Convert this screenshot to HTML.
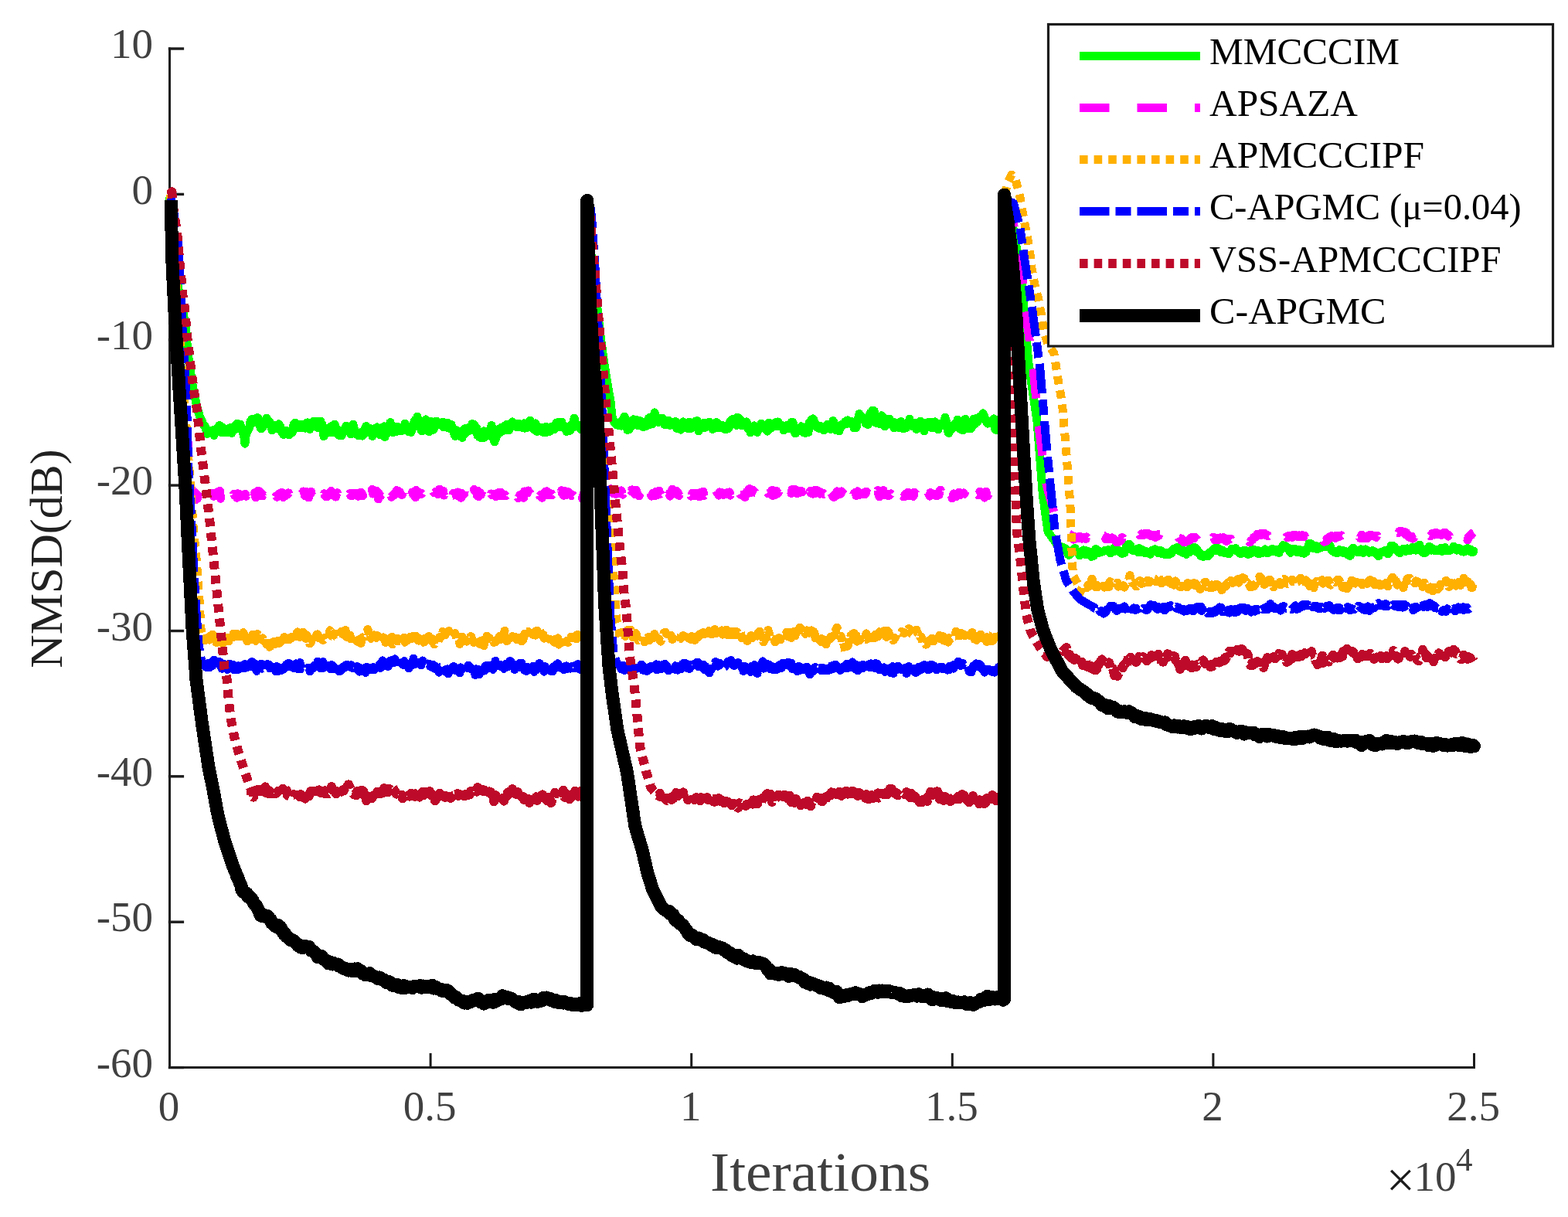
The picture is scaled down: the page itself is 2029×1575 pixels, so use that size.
<!DOCTYPE html>
<html><head><meta charset="utf-8"><title>NMSD vs Iterations</title>
<style>
html,body{margin:0;padding:0;background:#ffffff;}
body{width:2029px;height:1575px;overflow:hidden;}
svg{display:block;}
text{font-family:"Liberation Serif","DejaVu Serif",serif;}
</style></head>
<body>
<svg width="2029" height="1575" viewBox="0 0 2029 1575">
<rect x="0" y="0" width="2029" height="1575" fill="#ffffff"/>
<g stroke="#1c1c1c" stroke-width="3" fill="none" stroke-linecap="square">
<polyline points="219.5,63 219.5,1381.5 1907.5,1381.5"/>
<line x1="219.5" y1="63.0" x2="236.4" y2="63.0" stroke-width="3.4"/>
<line x1="219.5" y1="251.4" x2="236.4" y2="251.4" stroke-width="3.4"/>
<line x1="219.5" y1="439.8" x2="236.4" y2="439.8" stroke-width="3.4"/>
<line x1="219.5" y1="628.1" x2="236.4" y2="628.1" stroke-width="3.4"/>
<line x1="219.5" y1="816.5" x2="236.4" y2="816.5" stroke-width="3.4"/>
<line x1="219.5" y1="1004.8" x2="236.4" y2="1004.8" stroke-width="3.4"/>
<line x1="219.5" y1="1193.2" x2="236.4" y2="1193.2" stroke-width="3.4"/>
<line x1="219.5" y1="1381.6" x2="236.4" y2="1381.6" stroke-width="3.4"/>
<line x1="219.5" y1="1381.5" x2="219.5" y2="1364.5"/>
<line x1="557.1" y1="1381.5" x2="557.1" y2="1364.5"/>
<line x1="894.7" y1="1381.5" x2="894.7" y2="1364.5"/>
<line x1="1232.3" y1="1381.5" x2="1232.3" y2="1364.5"/>
<line x1="1569.9" y1="1381.5" x2="1569.9" y2="1364.5"/>
<line x1="1907.5" y1="1381.5" x2="1907.5" y2="1364.5"/>
</g>
<g shape-rendering="crispEdges">
<polyline fill="none" stroke="#00FF00" stroke-width="11" stroke-linejoin="round" stroke-linecap="round" points="219.3,258.0 219.6,261.0 219.8,264.0 220.1,267.0 220.4,270.0 220.7,273.0 220.9,276.0 221.2,279.0 221.5,282.0 221.8,285.0 222.0,288.0 222.3,291.0 222.6,294.0 222.9,297.0 223.1,300.0 223.4,303.0 223.7,306.0 224.0,309.0 224.2,312.0 224.5,315.0 224.8,318.1 225.1,321.1 225.4,324.2 225.8,327.2 226.1,330.3 226.4,333.3 226.7,336.4 227.0,339.4 227.3,342.5 227.7,345.6 228.0,348.6 228.3,351.7 228.6,354.7 228.9,357.8 229.2,360.8 229.6,363.9 229.9,366.9 230.2,370.0 230.8,373.0 231.4,376.0 231.9,379.0 232.5,382.0 233.1,385.0 233.7,388.0 234.3,391.0 234.8,394.0 235.4,397.0 236.0,400.0 236.6,403.1 237.3,406.3 237.9,409.4 238.5,412.6 239.1,415.7 239.8,418.9 240.4,422.0 240.6,425.1 240.9,428.3 241.1,431.4 241.3,434.6 241.5,437.7 241.8,440.9 242.0,444.0 242.3,447.1 242.6,450.1 242.9,453.2 243.3,456.3 243.6,459.4 243.9,462.4 244.2,465.5 244.6,468.5 245.1,471.4 245.5,474.4 245.9,477.3 246.4,480.3 246.8,483.2 247.3,486.2 247.7,489.1 248.1,492.1 248.6,495.0 249.0,498.0 249.6,501.0 250.2,504.0 250.8,507.0 251.4,510.0 252.1,513.0 252.7,516.0 253.3,519.0 253.9,522.0 254.5,525.0 255.3,527.8 256.1,530.6 256.9,533.4 257.7,536.2 258.5,539.0 259.6,541.5 260.8,544.0 261.9,546.5 263.0,549.0 264.5,551.0 266.0,553.0 267.0,557.2 268.0,561.6 269.0,558.7 270.0,558.9 271.0,558.4 272.0,557.6 273.0,560.1 274.0,558.6 275.0,557.8 276.0,556.4 277.0,563.4 278.0,560.6 279.0,559.5 280.0,554.9 281.0,556.2 282.0,553.6 283.0,553.0 284.0,550.4 285.0,551.6 286.0,554.7 287.0,559.8 288.0,553.3 289.0,554.9 290.0,558.5 291.0,559.3 292.0,558.6 293.0,555.1 294.0,559.5 295.0,559.3 296.0,557.4 297.0,554.9 298.0,553.6 299.0,558.8 300.0,560.4 301.0,557.5 302.0,556.2 303.0,556.5 304.0,551.3 305.0,551.9 306.0,552.2 307.0,548.2 308.0,552.1 309.0,550.1 310.0,552.1 311.0,549.1 312.0,555.8 313.0,555.4 314.0,559.7 315.0,560.1 316.0,566.7 317.0,574.1 318.0,563.3 319.0,561.2 320.0,557.2 321.0,557.0 322.0,554.2 323.0,552.4 324.0,545.6 325.0,545.8 326.0,542.3 327.0,542.0 328.0,547.1 329.0,543.5 330.0,541.9 331.0,544.9 332.0,546.8 333.0,540.7 334.0,541.0 335.0,543.4 336.0,547.5 337.0,553.4 338.0,555.0 339.0,549.2 340.0,552.9 341.0,545.3 342.0,549.7 343.0,544.3 344.0,547.6 345.0,541.1 346.0,546.5 347.0,547.9 348.0,544.7 349.0,545.9 350.0,550.0 351.0,550.8 352.0,556.9 353.0,554.3 354.0,555.6 355.0,554.0 356.0,554.9 357.0,550.5 358.0,551.3 359.0,551.9 360.0,554.3 361.0,548.8 362.0,553.3 363.0,552.5 364.0,557.1 365.0,559.4 366.0,560.2 367.0,562.6 368.0,562.0 369.0,557.5 370.0,560.3 371.0,558.8 372.0,557.9 373.0,560.1 374.0,562.8 375.0,562.2 376.0,560.3 377.0,557.0 378.0,560.2 379.0,558.2 380.0,549.0 381.0,554.9 382.0,547.3 383.0,554.0 384.0,553.4 385.0,550.8 386.0,550.5 387.0,552.0 388.0,553.5 389.0,553.0 390.0,549.0 391.0,550.3 392.0,553.5 393.0,551.5 394.0,551.5 395.0,554.2 396.0,549.6 397.0,547.1 398.0,546.8 399.0,553.7 400.0,549.8 401.0,555.5 402.0,552.9 403.0,551.7 404.0,552.1 405.0,548.6 406.0,545.2 407.0,548.5 408.0,548.3 409.0,545.6 410.0,546.1 411.0,553.4 412.0,548.9 413.0,549.7 414.0,545.4 415.0,545.2 416.0,552.0 417.0,549.1 418.0,554.3 419.0,564.7 420.0,562.3 421.0,558.0 422.0,555.0 423.0,557.6 424.0,556.9 425.0,556.0 426.0,555.0 427.0,559.5 428.0,551.9 429.0,557.3 430.0,559.7 431.0,551.3 432.0,552.6 433.0,549.2 434.0,551.7 435.0,560.5 436.0,558.6 437.0,561.8 438.0,563.1 439.0,558.2 440.0,559.4 441.0,561.7 442.0,563.9 443.0,556.8 444.0,560.5 445.0,557.0 446.0,558.5 447.0,552.8 448.0,551.3 449.0,551.7 450.0,552.7 451.0,553.6 452.0,554.2 453.0,558.0 454.0,561.7 455.0,554.9 456.0,555.6 457.0,549.3 458.0,555.6 459.0,556.4 460.0,560.6 461.0,561.8 462.0,560.9 463.0,561.4 464.0,563.9 465.0,560.9 466.0,563.0 467.0,559.5 468.0,562.1 469.0,564.1 470.0,562.8 471.0,560.8 472.0,558.6 473.0,552.9 474.0,551.6 475.0,559.6 476.0,559.7 477.0,558.3 478.0,559.7 479.0,558.5 480.0,554.8 481.0,560.6 482.0,564.4 483.0,560.1 484.0,559.2 485.0,560.1 486.0,555.1 487.0,553.7 488.0,552.9 489.0,555.7 490.0,559.1 491.0,562.3 492.0,561.5 493.0,555.5 494.0,554.4 495.0,555.3 496.0,552.6 497.0,551.8 498.0,565.6 499.0,562.3 500.0,561.8 501.0,556.5 502.0,553.0 503.0,550.5 504.0,551.0 505.0,546.7 506.0,552.4 507.0,552.8 508.0,556.1 509.0,559.7 510.0,557.6 511.0,558.2 512.0,553.9 513.0,558.6 514.0,552.3 515.0,552.5 516.0,553.4 517.0,555.8 518.0,553.9 519.0,557.8 520.0,555.6 521.0,557.2 522.0,553.7 523.0,556.2 524.0,548.1 525.0,550.0 526.0,556.9 527.0,555.7 528.0,556.9 529.0,558.9 530.0,558.6 531.0,556.6 532.0,559.5 533.0,554.5 534.0,554.3 535.0,549.8 536.0,545.6 537.0,543.6 538.0,544.6 539.0,545.7 540.0,539.1 541.0,548.7 542.0,545.8 543.0,547.1 544.0,550.4 545.0,556.8 546.0,557.8 547.0,550.7 548.0,552.6 549.0,548.6 550.0,545.8 551.0,542.9 552.0,544.7 553.0,549.0 554.0,551.3 555.0,558.6 556.0,549.4 557.0,547.8 558.0,545.4 559.0,551.2 560.0,553.2 561.0,556.2 562.0,550.9 563.0,550.3 564.0,545.3 565.0,545.4 566.0,549.1 567.0,548.2 568.0,546.8 569.0,548.5 570.0,549.9 571.0,550.3 572.0,549.8 573.0,546.2 574.0,553.0 575.0,552.7 576.0,552.4 577.0,550.3 578.0,550.8 579.0,547.3 580.0,553.9 581.0,552.3 582.0,554.3 583.0,551.9 584.0,549.3 585.0,555.9 586.0,556.2 587.0,558.8 588.0,562.8 589.0,564.4 590.0,556.4 591.0,558.4 592.0,560.1 593.0,561.7 594.0,560.5 595.0,564.3 596.0,560.5 597.0,561.8 598.0,566.3 599.0,557.3 600.0,556.2 601.0,562.1 602.0,554.6 603.0,559.6 604.0,556.5 605.0,555.0 606.0,553.6 607.0,557.3 608.0,556.8 609.0,556.5 610.0,556.5 611.0,548.5 612.0,551.1 613.0,551.5 614.0,549.7 615.0,552.0 616.0,558.1 617.0,554.6 618.0,563.5 619.0,561.9 620.0,565.2 621.0,566.3 622.0,564.0 623.0,563.4 624.0,563.3 625.0,566.5 626.0,557.8 627.0,566.2 628.0,564.2 629.0,558.0 630.0,563.9 631.0,561.5 632.0,559.2 633.0,559.4 634.0,557.4 635.0,554.2 636.0,550.6 637.0,556.5 638.0,563.6 639.0,569.3 640.0,571.8 641.0,566.5 642.0,566.5 643.0,561.3 644.0,560.0 645.0,555.5 646.0,560.4 647.0,559.0 648.0,558.1 649.0,553.1 650.0,557.6 651.0,557.5 652.0,556.2 653.0,551.1 654.0,550.7 655.0,556.6 656.0,549.2 657.0,550.4 658.0,554.1 659.0,556.5 660.0,552.0 661.0,551.8 662.0,551.8 663.0,545.9 664.0,549.7 665.0,551.0 666.0,551.6 667.0,549.3 668.0,549.3 669.0,553.0 670.0,548.3 671.0,550.8 672.0,548.6 673.0,549.9 674.0,550.3 675.0,553.2 676.0,549.5 677.0,550.5 678.0,547.8 679.0,554.2 680.0,550.8 681.0,553.7 682.0,552.6 683.0,551.6 684.0,549.4 685.0,545.6 686.0,544.1 687.0,546.5 688.0,552.2 689.0,553.8 690.0,552.6 691.0,555.7 692.0,556.6 693.0,547.9 694.0,553.4 695.0,558.6 696.0,556.4 697.0,553.0 698.0,554.5 699.0,554.9 700.0,555.7 701.0,553.5 702.0,556.0 703.0,559.6 704.0,558.5 705.0,558.4 706.0,552.4 707.0,559.7 708.0,557.7 709.0,556.0 710.0,556.0 711.0,554.3 712.0,558.2 713.0,552.7 714.0,555.4 715.0,553.1 716.0,552.4 717.0,553.5 718.0,555.3 719.0,550.5 720.0,547.2 721.0,551.4 722.0,546.7 723.0,549.3 724.0,552.8 725.0,552.0 726.0,552.6 727.0,546.1 728.0,550.8 729.0,552.3 730.0,551.3 731.0,552.6 732.0,552.0 733.0,558.4 734.0,554.5 735.0,556.5 736.0,554.7 737.0,557.6 738.0,556.5 739.0,552.6 740.0,549.5 741.0,548.0 742.0,552.7 743.0,541.0 744.0,546.4 745.0,550.2 746.0,550.3 747.0,550.3 748.0,552.5 749.0,551.6 750.0,550.6 751.0,551.6 752.0,556.1 753.0,555.9 754.0,554.1 755.0,556.2 756.0,556.6 757.0,557.5 759.7,554.0 759.7,258.0 758.6,258.0 758.9,261.1 759.1,264.1 759.4,267.2 759.6,270.2 759.9,273.3 760.2,276.4 760.4,279.4 760.7,282.5 760.9,285.5 761.2,288.6 761.4,291.6 761.7,294.7 762.0,297.8 762.2,300.8 762.5,303.9 762.7,306.9 763.0,310.0 763.3,312.9 763.6,315.9 763.9,318.8 764.2,321.7 764.5,324.7 764.8,327.6 765.1,330.5 765.4,333.5 765.7,336.4 766.0,339.3 766.3,342.3 766.6,345.2 766.9,348.1 767.2,351.1 767.5,354.0 767.9,357.1 768.2,360.1 768.6,363.2 769.0,366.2 769.4,369.3 769.7,372.4 770.1,375.4 770.5,378.5 770.8,381.5 771.2,384.6 771.6,387.6 771.9,390.7 772.3,393.8 772.7,396.8 773.1,399.9 773.4,402.9 773.8,406.0 774.1,409.0 774.5,411.9 774.8,414.9 775.1,417.9 775.5,420.8 775.8,423.8 776.2,426.7 776.5,429.7 776.8,432.7 777.2,435.6 777.5,438.6 777.9,441.5 778.3,444.5 778.7,447.4 779.1,450.4 779.5,453.3 779.9,456.3 780.3,459.2 780.7,462.2 781.1,465.1 781.5,468.1 781.9,471.0 782.4,474.0 782.9,477.0 783.3,480.0 783.8,483.0 784.3,486.0 784.8,489.0 785.2,492.0 785.7,495.0 786.2,498.0 786.7,501.1 787.3,504.1 787.8,507.2 788.4,510.3 788.9,513.4 789.5,516.4 790.0,519.5 790.3,522.3 790.6,525.1 790.9,527.9 791.2,530.6 791.5,533.4 791.8,536.2 792.1,539.0 793.1,541.7 794.0,544.3 795.0,547.0 798.0,550.0 799.0,549.9 800.0,550.6 801.0,547.8 802.0,546.9 803.0,546.3 804.0,551.2 805.0,547.8 806.0,547.7 807.0,540.9 808.0,539.2 809.0,540.7 810.0,546.4 811.0,552.4 812.0,556.6 813.0,554.7 814.0,555.8 815.0,553.8 816.0,551.8 817.0,552.2 818.0,545.7 819.0,543.7 820.0,542.8 821.0,543.3 822.0,546.1 823.0,543.0 824.0,547.7 825.0,550.3 826.0,546.3 827.0,546.7 828.0,544.6 829.0,548.4 830.0,548.2 831.0,546.0 832.0,552.6 833.0,547.5 834.0,549.0 835.0,549.4 836.0,551.5 837.0,545.5 838.0,546.9 839.0,541.7 840.0,540.9 841.0,540.0 842.0,549.1 843.0,548.7 844.0,548.9 845.0,542.8 846.0,544.0 847.0,533.9 848.0,537.4 849.0,539.6 850.0,542.1 851.0,542.3 852.0,546.4 853.0,544.6 854.0,546.0 855.0,542.1 856.0,544.4 857.0,541.3 858.0,542.7 859.0,547.9 860.0,549.7 861.0,549.0 862.0,546.2 863.0,549.8 864.0,548.3 865.0,544.3 866.0,545.3 867.0,550.5 868.0,549.2 869.0,548.6 870.0,549.8 871.0,550.0 872.0,548.4 873.0,549.5 874.0,545.4 875.0,552.5 876.0,554.5 877.0,552.3 878.0,551.0 879.0,553.7 880.0,554.0 881.0,556.1 882.0,553.0 883.0,551.7 884.0,545.8 885.0,552.2 886.0,550.7 887.0,552.4 888.0,549.7 889.0,549.6 890.0,554.5 891.0,551.9 892.0,546.3 893.0,550.0 894.0,554.7 895.0,552.3 896.0,550.7 897.0,553.1 898.0,550.2 899.0,550.5 900.0,545.3 901.0,545.3 902.0,544.6 903.0,551.1 904.0,557.8 905.0,555.9 906.0,552.8 907.0,548.4 908.0,549.1 909.0,548.9 910.0,549.5 911.0,547.0 912.0,553.6 913.0,552.6 914.0,550.6 915.0,551.5 916.0,551.1 917.0,548.6 918.0,546.0 919.0,549.0 920.0,548.9 921.0,548.6 922.0,555.4 923.0,549.5 924.0,549.8 925.0,550.9 926.0,547.0 927.0,546.6 928.0,547.1 929.0,553.9 930.0,551.9 931.0,553.3 932.0,552.6 933.0,550.3 934.0,550.6 935.0,550.4 936.0,551.3 937.0,551.0 938.0,555.5 939.0,554.1 940.0,555.3 941.0,552.5 942.0,551.1 943.0,554.4 944.0,549.0 945.0,544.9 946.0,543.8 947.0,545.2 948.0,542.5 949.0,543.7 950.0,544.8 951.0,544.8 952.0,544.5 953.0,550.3 954.0,540.3 955.0,543.1 956.0,541.2 957.0,542.2 958.0,543.3 959.0,547.5 960.0,550.8 961.0,548.9 962.0,549.2 963.0,549.1 964.0,549.2 965.0,548.5 966.0,545.9 967.0,551.6 968.0,555.0 969.0,555.1 970.0,554.8 971.0,559.8 972.0,552.1 973.0,554.1 974.0,554.9 975.0,553.7 976.0,550.8 977.0,553.7 978.0,553.6 979.0,556.6 980.0,559.5 981.0,556.4 982.0,556.1 983.0,551.0 984.0,552.6 985.0,548.1 986.0,548.7 987.0,553.2 988.0,553.9 989.0,551.7 990.0,555.0 991.0,551.7 992.0,553.1 993.0,558.1 994.0,554.5 995.0,547.3 996.0,554.8 997.0,552.4 998.0,549.3 999.0,553.3 1000.0,549.7 1001.0,548.9 1002.0,547.7 1003.0,546.9 1004.0,551.9 1005.0,550.1 1006.0,546.2 1007.0,546.0 1008.0,551.6 1009.0,549.5 1010.0,551.6 1011.0,550.2 1012.0,550.5 1013.0,552.1 1014.0,556.7 1015.0,554.8 1016.0,552.2 1017.0,554.4 1018.0,554.0 1019.0,550.3 1020.0,553.7 1021.0,554.6 1022.0,551.5 1023.0,548.6 1024.0,546.7 1025.0,547.2 1026.0,546.6 1027.0,554.2 1028.0,557.7 1029.0,560.6 1030.0,560.4 1031.0,557.4 1032.0,557.1 1033.0,556.5 1034.0,554.0 1035.0,553.4 1036.0,553.6 1037.0,551.8 1038.0,558.5 1039.0,557.9 1040.0,559.8 1041.0,557.9 1042.0,560.3 1043.0,557.6 1044.0,557.2 1045.0,556.9 1046.0,559.5 1047.0,547.0 1048.0,546.8 1049.0,546.7 1050.0,543.2 1051.0,544.6 1052.0,541.9 1053.0,543.4 1054.0,548.9 1055.0,550.1 1056.0,549.2 1057.0,552.6 1058.0,552.6 1059.0,554.2 1060.0,551.5 1061.0,551.3 1062.0,554.4 1063.0,552.3 1064.0,552.0 1065.0,552.3 1066.0,557.0 1067.0,554.7 1068.0,554.0 1069.0,552.5 1070.0,553.0 1071.0,549.2 1072.0,551.5 1073.0,553.3 1074.0,551.7 1075.0,555.4 1076.0,552.7 1077.0,549.1 1078.0,544.5 1079.0,546.9 1080.0,548.9 1081.0,554.4 1082.0,556.7 1083.0,556.4 1084.0,554.6 1085.0,553.9 1086.0,557.8 1087.0,552.0 1088.0,549.9 1089.0,551.6 1090.0,550.7 1091.0,550.0 1092.0,549.4 1093.0,548.6 1094.0,545.5 1095.0,548.8 1096.0,544.4 1097.0,543.9 1098.0,545.2 1099.0,547.2 1100.0,547.1 1101.0,545.2 1102.0,547.6 1103.0,550.3 1104.0,548.6 1105.0,553.8 1106.0,553.3 1107.0,547.7 1108.0,553.3 1109.0,547.9 1110.0,544.0 1111.0,539.7 1112.0,535.6 1113.0,537.4 1114.0,542.5 1115.0,539.1 1116.0,540.1 1117.0,543.3 1118.0,542.7 1119.0,542.6 1120.0,547.9 1121.0,542.3 1122.0,542.4 1123.0,549.4 1124.0,548.4 1125.0,543.3 1126.0,534.7 1127.0,537.4 1128.0,535.9 1129.0,531.1 1130.0,533.5 1131.0,531.6 1132.0,540.3 1133.0,542.9 1134.0,547.4 1135.0,546.7 1136.0,547.0 1137.0,547.3 1138.0,548.6 1139.0,545.0 1140.0,543.0 1141.0,537.8 1142.0,539.7 1143.0,543.6 1144.0,546.6 1145.0,551.8 1146.0,549.5 1147.0,547.2 1148.0,544.6 1149.0,546.2 1150.0,542.0 1151.0,542.0 1152.0,545.7 1153.0,548.4 1154.0,550.2 1155.0,546.9 1156.0,547.1 1157.0,554.0 1158.0,546.8 1159.0,548.8 1160.0,549.8 1161.0,551.7 1162.0,549.6 1163.0,550.6 1164.0,553.8 1165.0,550.5 1166.0,545.6 1167.0,548.8 1168.0,554.4 1169.0,554.5 1170.0,551.0 1171.0,550.8 1172.0,549.8 1173.0,553.5 1174.0,551.1 1175.0,550.6 1176.0,550.4 1177.0,542.3 1178.0,550.9 1179.0,551.2 1180.0,548.9 1181.0,548.0 1182.0,547.7 1183.0,547.1 1184.0,551.5 1185.0,548.7 1186.0,555.6 1187.0,552.9 1188.0,550.1 1189.0,546.8 1190.0,549.6 1191.0,545.3 1192.0,554.2 1193.0,547.5 1194.0,554.4 1195.0,555.5 1196.0,557.8 1197.0,553.3 1198.0,554.0 1199.0,547.1 1200.0,546.9 1201.0,551.1 1202.0,548.9 1203.0,546.1 1204.0,551.9 1205.0,546.9 1206.0,553.7 1207.0,546.7 1208.0,550.6 1209.0,548.2 1210.0,545.9 1211.0,551.3 1212.0,551.3 1213.0,551.9 1214.0,555.8 1215.0,551.8 1216.0,552.2 1217.0,548.0 1218.0,550.3 1219.0,548.2 1220.0,549.3 1221.0,548.3 1222.0,546.0 1223.0,540.3 1224.0,544.4 1225.0,546.4 1226.0,555.8 1227.0,559.8 1228.0,560.4 1229.0,557.0 1230.0,553.5 1231.0,556.0 1232.0,551.5 1233.0,554.0 1234.0,551.5 1235.0,549.7 1236.0,551.4 1237.0,546.8 1238.0,549.3 1239.0,543.3 1240.0,547.8 1241.0,553.7 1242.0,553.5 1243.0,555.6 1244.0,552.7 1245.0,554.4 1246.0,557.0 1247.0,552.7 1248.0,553.1 1249.0,542.4 1250.0,553.9 1251.0,554.4 1252.0,551.8 1253.0,548.0 1254.0,554.3 1255.0,551.5 1256.0,554.9 1257.0,554.0 1258.0,549.7 1259.0,545.0 1260.0,542.1 1261.0,542.3 1262.0,548.3 1263.0,541.7 1264.0,542.8 1265.0,546.0 1266.0,543.6 1267.0,542.6 1268.0,539.1 1269.0,539.2 1270.0,539.8 1271.0,538.0 1272.0,534.8 1273.0,536.8 1274.0,540.0 1275.0,543.5 1276.0,544.8 1277.0,546.9 1278.0,548.2 1279.0,545.7 1280.0,546.6 1281.0,546.6 1282.0,546.1 1283.0,548.1 1284.0,545.5 1285.0,543.9 1286.0,541.8 1287.0,548.9 1288.0,556.2 1289.0,551.5 1290.0,555.3 1291.0,556.8 1292.0,548.7 1293.0,542.8 1294.0,551.2 1295.0,549.3 1296.0,552.9 1297.0,547.2 1299.8,553.0 1299.8,258.0 1300.0,258.0 1300.9,260.9 1301.8,263.8 1302.7,266.7 1303.6,269.6 1304.5,272.5 1305.5,275.5 1306.4,278.4 1307.3,281.3 1308.2,284.2 1309.1,287.1 1310.0,290.0 1310.5,293.0 1311.0,295.9 1311.6,298.9 1312.1,301.8 1312.6,304.8 1313.1,307.7 1313.7,310.7 1314.2,313.6 1314.7,316.6 1315.2,319.5 1315.8,322.5 1316.3,325.4 1316.8,328.4 1317.3,331.3 1317.9,334.3 1318.4,337.2 1318.9,340.2 1319.4,343.1 1320.0,346.1 1320.5,349.0 1321.0,352.0 1321.2,355.0 1321.5,358.1 1321.7,361.1 1322.0,364.1 1322.2,367.1 1322.5,370.2 1322.7,373.2 1323.0,376.2 1323.2,379.2 1323.5,382.3 1323.7,385.3 1324.0,388.3 1324.2,391.3 1324.5,394.4 1324.7,397.4 1325.0,400.4 1325.2,403.4 1325.5,406.5 1325.7,409.5 1326.0,412.5 1326.2,415.6 1326.5,418.6 1326.8,421.6 1327.0,424.6 1327.3,427.6 1327.6,430.7 1327.8,433.7 1328.1,436.7 1328.3,439.8 1328.6,442.8 1328.9,445.8 1329.1,448.8 1329.4,451.9 1329.7,454.9 1329.9,457.9 1330.2,460.9 1330.5,463.9 1330.7,467.0 1331.0,470.0 1331.4,472.9 1331.9,475.9 1332.3,478.9 1332.7,481.8 1333.2,484.8 1333.6,487.7 1334.0,490.7 1334.4,493.6 1334.9,496.6 1335.3,499.5 1335.7,502.5 1336.2,505.4 1336.6,508.4 1337.0,511.3 1337.5,514.2 1337.9,517.2 1338.3,520.1 1338.8,523.1 1339.2,526.1 1339.6,529.0 1340.0,532.0 1340.5,534.9 1340.9,537.9 1341.3,540.8 1341.8,543.8 1342.2,546.7 1342.4,549.7 1342.7,552.7 1342.9,555.7 1343.1,558.7 1343.3,561.7 1343.6,564.8 1343.8,567.8 1344.0,570.8 1344.3,573.8 1344.5,576.8 1344.7,579.8 1344.9,582.8 1345.2,585.8 1345.4,588.8 1345.6,591.8 1345.9,594.9 1346.1,597.9 1346.3,600.9 1346.6,603.9 1346.8,606.9 1347.0,609.9 1347.2,612.9 1347.5,615.9 1347.7,618.9 1347.9,621.9 1348.2,625.0 1348.4,628.0 1348.6,631.0 1348.8,634.0 1349.1,637.0 1349.3,640.0 1349.7,643.0 1350.1,646.0 1350.6,649.0 1351.0,652.0 1351.4,655.0 1351.8,658.0 1352.2,661.0 1352.7,664.0 1353.1,667.0 1353.5,670.0 1353.9,673.0 1354.3,676.0 1354.7,679.0 1355.2,682.0 1355.6,685.0 1356.0,688.0 1357.7,690.4 1359.4,692.9 1361.1,695.3 1362.9,697.7 1364.6,700.1 1366.3,702.6 1368.0,705.0 1370.9,706.4 1373.8,707.8 1376.7,709.1 1379.6,710.5 1381.0,714.1 1382.0,717.3 1383.0,718.3 1384.0,718.1 1385.0,716.5 1386.0,714.9 1387.0,712.5 1388.0,711.9 1389.0,711.6 1390.0,710.3 1391.0,709.6 1392.0,712.6 1393.0,713.4 1394.0,715.0 1395.0,715.7 1396.0,715.9 1397.0,718.8 1398.0,714.2 1399.0,716.1 1400.0,713.3 1401.0,713.2 1402.0,711.9 1403.0,714.5 1404.0,715.4 1405.0,717.8 1406.0,712.9 1407.0,713.8 1408.0,713.6 1409.0,714.3 1410.0,714.0 1411.0,717.6 1412.0,720.3 1413.0,718.9 1414.0,718.5 1415.0,719.5 1416.0,713.9 1417.0,713.4 1418.0,710.5 1419.0,712.3 1420.0,712.3 1421.0,715.9 1422.0,712.9 1423.0,714.6 1424.0,714.0 1425.0,714.0 1426.0,714.1 1427.0,713.9 1428.0,713.6 1429.0,712.9 1430.0,712.3 1431.0,712.3 1432.0,712.1 1433.0,712.2 1434.0,711.6 1435.0,714.0 1436.0,714.2 1437.0,715.8 1438.0,713.3 1439.0,713.3 1440.0,711.0 1441.0,709.7 1442.0,709.3 1443.0,713.1 1444.0,712.6 1445.0,710.8 1446.0,712.3 1447.0,712.3 1448.0,714.2 1449.0,713.2 1450.0,713.4 1451.0,713.9 1452.0,716.6 1453.0,714.6 1454.0,715.2 1455.0,715.7 1456.0,712.4 1457.0,710.2 1458.0,705.9 1459.0,704.9 1460.0,709.7 1461.0,704.3 1462.0,705.0 1463.0,706.4 1464.0,711.3 1465.0,711.1 1466.0,712.7 1467.0,712.2 1468.0,713.0 1469.0,712.8 1470.0,713.1 1471.0,710.5 1472.0,713.5 1473.0,714.9 1474.0,709.8 1475.0,710.0 1476.0,711.9 1477.0,711.0 1478.0,712.8 1479.0,714.9 1480.0,712.7 1481.0,714.9 1482.0,715.9 1483.0,714.8 1484.0,714.0 1485.0,714.9 1486.0,716.1 1487.0,715.9 1488.0,717.3 1489.0,716.2 1490.0,714.4 1491.0,712.3 1492.0,713.8 1493.0,711.9 1494.0,710.8 1495.0,711.0 1496.0,713.4 1497.0,713.7 1498.0,714.7 1499.0,715.8 1500.0,712.8 1501.0,712.2 1502.0,714.1 1503.0,713.2 1504.0,716.7 1505.0,716.0 1506.0,715.6 1507.0,717.3 1508.0,715.6 1509.0,715.1 1510.0,715.5 1511.0,716.0 1512.0,718.0 1513.0,717.4 1514.0,714.9 1515.0,714.6 1516.0,715.9 1517.0,712.2 1518.0,710.7 1519.0,710.9 1520.0,710.6 1521.0,711.0 1522.0,710.3 1523.0,708.4 1524.0,711.2 1525.0,708.9 1526.0,712.8 1527.0,711.4 1528.0,713.9 1529.0,712.7 1530.0,715.1 1531.0,712.0 1532.0,715.2 1533.0,715.0 1534.0,714.2 1535.0,717.3 1536.0,715.1 1537.0,714.2 1538.0,715.2 1539.0,714.7 1540.0,710.0 1541.0,707.2 1542.0,708.8 1543.0,708.4 1544.0,709.7 1545.0,710.6 1546.0,709.7 1547.0,708.9 1548.0,714.2 1549.0,711.1 1550.0,713.1 1551.0,715.2 1552.0,715.0 1553.0,717.7 1554.0,719.7 1555.0,717.6 1556.0,720.1 1557.0,718.5 1558.0,720.2 1559.0,718.2 1560.0,718.3 1561.0,719.6 1562.0,718.8 1563.0,719.8 1564.0,715.8 1565.0,718.2 1566.0,716.9 1567.0,714.1 1568.0,712.8 1569.0,713.2 1570.0,712.0 1571.0,712.6 1572.0,709.5 1573.0,712.3 1574.0,708.9 1575.0,709.7 1576.0,710.6 1577.0,709.8 1578.0,711.5 1579.0,711.4 1580.0,714.7 1581.0,714.2 1582.0,712.0 1583.0,713.7 1584.0,715.3 1585.0,715.8 1586.0,715.2 1587.0,715.3 1588.0,714.2 1589.0,714.9 1590.0,716.8 1591.0,715.6 1592.0,714.3 1593.0,712.4 1594.0,710.0 1595.0,711.2 1596.0,710.7 1597.0,711.2 1598.0,709.9 1599.0,709.5 1600.0,711.6 1601.0,713.5 1602.0,713.5 1603.0,713.0 1604.0,715.0 1605.0,716.5 1606.0,713.5 1607.0,716.2 1608.0,714.6 1609.0,712.6 1610.0,714.0 1611.0,712.3 1612.0,716.1 1613.0,712.9 1614.0,716.3 1615.0,717.4 1616.0,714.6 1617.0,715.6 1618.0,716.6 1619.0,715.0 1620.0,710.8 1621.0,711.7 1622.0,711.4 1623.0,713.4 1624.0,712.0 1625.0,712.5 1626.0,712.3 1627.0,712.2 1628.0,716.6 1629.0,713.5 1630.0,716.6 1631.0,714.3 1632.0,713.9 1633.0,714.0 1634.0,714.8 1635.0,715.1 1636.0,712.0 1637.0,710.8 1638.0,713.2 1639.0,715.4 1640.0,714.6 1641.0,715.1 1642.0,715.2 1643.0,714.3 1644.0,711.7 1645.0,711.8 1646.0,713.9 1647.0,710.3 1648.0,712.6 1649.0,711.0 1650.0,711.0 1651.0,712.2 1652.0,711.5 1653.0,714.9 1654.0,713.6 1655.0,715.5 1656.0,711.1 1657.0,712.1 1658.0,710.1 1659.0,709.1 1660.0,705.7 1661.0,708.3 1662.0,706.2 1663.0,706.9 1664.0,707.2 1665.0,708.9 1666.0,709.4 1667.0,709.3 1668.0,711.7 1669.0,713.1 1670.0,715.3 1671.0,713.5 1672.0,712.6 1673.0,711.4 1674.0,710.3 1675.0,710.8 1676.0,711.7 1677.0,710.9 1678.0,714.5 1679.0,714.6 1680.0,713.5 1681.0,711.1 1682.0,712.9 1683.0,712.5 1684.0,715.6 1685.0,712.5 1686.0,715.0 1687.0,715.4 1688.0,716.3 1689.0,714.1 1690.0,714.7 1691.0,711.2 1692.0,709.4 1693.0,709.5 1694.0,703.6 1695.0,704.8 1696.0,703.5 1697.0,707.4 1698.0,708.8 1699.0,709.3 1700.0,707.2 1701.0,706.1 1702.0,707.3 1703.0,706.5 1704.0,708.1 1705.0,710.7 1706.0,708.3 1707.0,708.6 1708.0,708.3 1709.0,708.6 1710.0,706.8 1711.0,707.6 1712.0,707.4 1713.0,707.0 1714.0,707.8 1715.0,706.5 1716.0,703.2 1717.0,702.9 1718.0,703.5 1719.0,703.2 1720.0,706.7 1721.0,706.1 1722.0,710.1 1723.0,712.1 1724.0,713.2 1725.0,713.4 1726.0,714.2 1727.0,713.6 1728.0,714.3 1729.0,714.7 1730.0,715.8 1731.0,713.9 1732.0,714.0 1733.0,711.7 1734.0,714.3 1735.0,712.5 1736.0,713.0 1737.0,712.9 1738.0,715.5 1739.0,712.8 1740.0,713.8 1741.0,713.6 1742.0,715.9 1743.0,716.1 1744.0,717.6 1745.0,718.6 1746.0,718.6 1747.0,719.4 1748.0,717.8 1749.0,710.8 1750.0,711.7 1751.0,709.3 1752.0,710.5 1753.0,711.0 1754.0,713.3 1755.0,714.1 1756.0,714.0 1757.0,714.3 1758.0,714.8 1759.0,713.6 1760.0,712.9 1761.0,710.8 1762.0,713.5 1763.0,714.0 1764.0,715.6 1765.0,714.4 1766.0,713.5 1767.0,710.8 1768.0,713.4 1769.0,711.9 1770.0,713.0 1771.0,714.0 1772.0,715.2 1773.0,714.7 1774.0,714.6 1775.0,714.9 1776.0,712.7 1777.0,714.9 1778.0,714.2 1779.0,713.8 1780.0,716.0 1781.0,715.4 1782.0,716.6 1783.0,719.2 1784.0,719.6 1785.0,716.5 1786.0,715.5 1787.0,715.2 1788.0,714.1 1789.0,715.1 1790.0,713.7 1791.0,713.1 1792.0,712.7 1793.0,714.6 1794.0,713.8 1795.0,714.8 1796.0,717.0 1797.0,714.0 1798.0,714.4 1799.0,712.0 1800.0,706.3 1801.0,709.4 1802.0,706.3 1803.0,707.7 1804.0,707.4 1805.0,710.4 1806.0,711.3 1807.0,711.6 1808.0,711.0 1809.0,712.5 1810.0,714.9 1811.0,715.3 1812.0,715.5 1813.0,713.6 1814.0,712.9 1815.0,711.2 1816.0,710.1 1817.0,711.0 1818.0,710.2 1819.0,713.5 1820.0,712.6 1821.0,709.9 1822.0,711.9 1823.0,712.0 1824.0,712.8 1825.0,710.1 1826.0,711.1 1827.0,709.9 1828.0,708.3 1829.0,708.3 1830.0,710.3 1831.0,712.0 1832.0,712.1 1833.0,712.0 1834.0,709.7 1835.0,706.6 1836.0,708.2 1837.0,705.2 1838.0,709.7 1839.0,712.6 1840.0,713.4 1841.0,713.5 1842.0,715.5 1843.0,716.0 1844.0,715.6 1845.0,714.7 1846.0,713.0 1847.0,711.7 1848.0,709.9 1849.0,707.6 1850.0,707.5 1851.0,710.3 1852.0,712.1 1853.0,710.5 1854.0,711.6 1855.0,710.6 1856.0,712.4 1857.0,711.9 1858.0,711.1 1859.0,712.8 1860.0,711.9 1861.0,711.5 1862.0,711.8 1863.0,710.9 1864.0,711.3 1865.0,709.3 1866.0,713.4 1867.0,712.8 1868.0,712.8 1869.0,711.8 1870.0,708.6 1871.0,712.6 1872.0,711.6 1873.0,712.7 1874.0,711.5 1875.0,712.5 1876.0,712.4 1877.0,711.3 1878.0,711.6 1879.0,711.1 1880.0,710.8 1881.0,707.3 1882.0,708.8 1883.0,709.1 1884.0,710.0 1885.0,712.2 1886.0,709.4 1887.0,711.6 1888.0,710.2 1889.0,709.9 1890.0,710.5 1891.0,712.3 1892.0,713.7 1893.0,711.7 1894.0,714.1 1895.0,713.7 1896.0,712.5 1897.0,711.4 1898.0,712.3 1899.0,709.5 1900.0,711.9 1901.0,711.8 1902.0,712.4 1903.0,711.2 1904.0,714.5 1905.0,714.0 1906.0,714.6 1907.0,713.2"/>
<polyline fill="none" stroke="#FF00FF" stroke-width="11" stroke-linejoin="round" stroke-dasharray="38.5 36" stroke-linecap="butt" points="220.0,256.0 220.3,259.0 220.5,262.0 220.8,264.9 221.1,267.9 221.4,270.9 221.6,273.9 221.9,276.9 222.2,279.9 222.5,282.8 222.7,285.8 223.0,288.8 223.3,291.8 223.5,294.8 223.8,297.7 224.1,300.7 224.4,303.7 224.6,306.7 224.9,309.7 225.2,312.7 225.5,315.6 225.7,318.6 226.0,321.6 226.3,324.6 226.5,327.6 226.8,330.5 227.1,333.5 227.4,336.5 227.6,339.5 227.9,342.5 228.2,345.5 228.5,348.4 228.7,351.4 229.0,354.4 229.3,357.4 229.5,360.4 229.8,363.3 230.1,366.3 230.4,369.3 230.6,372.3 230.9,375.3 231.2,378.3 231.5,381.2 231.7,384.2 232.0,387.2 232.3,390.2 232.5,393.2 232.8,396.1 233.1,399.1 233.4,402.1 233.6,405.1 233.9,408.1 234.2,411.1 234.5,414.0 234.7,417.0 235.0,420.0 235.2,423.0 235.3,426.0 235.5,429.0 235.6,432.1 235.8,435.1 236.0,438.1 236.1,441.1 236.3,444.1 236.4,447.1 236.6,450.1 236.8,453.2 236.9,456.2 237.1,459.2 237.2,462.2 237.4,465.2 237.6,468.2 237.7,471.2 237.9,474.3 238.0,477.3 238.2,480.3 238.3,483.3 238.5,486.3 238.7,489.3 238.8,492.3 239.0,495.4 239.1,498.4 239.3,501.4 239.5,504.4 239.6,507.4 239.8,510.4 239.9,513.4 240.1,516.5 240.3,519.5 240.4,522.5 240.6,525.5 240.7,528.5 240.9,531.5 241.1,534.6 241.2,537.6 241.4,540.6 241.5,543.6 241.7,546.6 241.9,549.6 242.0,552.6 242.2,555.7 242.3,558.7 242.5,561.7 242.7,564.7 242.8,567.7 243.0,570.7 243.1,573.7 243.3,576.8 243.4,579.8 243.6,582.8 243.8,585.8 243.9,588.8 244.1,591.8 244.2,594.8 244.4,597.9 244.6,600.9 244.7,603.9 244.9,606.9 245.0,609.9 245.2,612.9 245.4,615.9 245.5,619.0 245.7,622.0 245.8,625.0 246.0,628.0 247.1,630.9 248.2,633.8 249.4,636.6 250.5,639.5 251.5,641.9 252.5,637.6 253.5,646.7 254.5,645.0 255.5,644.9 256.5,641.3 257.5,643.4 258.5,644.9 259.5,642.7 260.5,643.1 261.5,642.7 262.5,640.7 263.5,640.9 264.5,641.6 265.5,637.5 266.5,642.1 267.5,641.3 268.5,644.3 269.5,641.3 270.5,641.7 271.5,640.7 272.5,640.9 273.5,642.0 274.5,641.4 275.5,638.4 276.5,642.3 277.5,640.3 278.5,638.7 279.5,641.1 280.5,640.7 281.5,636.8 282.5,640.0 283.5,641.4 284.5,635.5 285.5,645.2 286.5,641.5 287.5,644.4 288.5,642.7 289.5,642.3 290.5,639.6 291.5,642.0 292.5,639.8 293.5,639.5 294.5,638.1 295.5,638.2 296.5,642.1 297.5,641.9 298.5,641.4 299.5,640.3 300.5,640.1 301.5,643.5 302.5,639.2 303.5,641.1 304.5,639.9 305.5,641.6 306.5,644.3 307.5,638.8 308.5,642.9 309.5,642.6 310.5,639.6 311.5,642.5 312.5,642.0 313.5,641.7 314.5,640.8 315.5,640.8 316.5,641.7 317.5,639.3 318.5,642.4 319.5,639.1 320.5,645.0 321.5,639.6 322.5,642.8 323.5,637.9 324.5,638.2 325.5,640.0 326.5,640.3 327.5,644.5 328.5,642.6 329.5,637.7 330.5,643.3 331.5,643.9 332.5,641.3 333.5,635.3 334.5,638.1 335.5,635.9 336.5,640.7 337.5,638.7 338.5,638.6 339.5,642.0 340.5,640.3 341.5,641.3 342.5,639.6 343.5,642.3 344.5,641.5 345.5,641.1 346.5,640.8 347.5,640.5 348.5,641.0 349.5,639.0 350.5,644.7 351.5,645.3 352.5,643.7 353.5,638.6 354.5,640.5 355.5,638.9 356.5,643.6 357.5,641.8 358.5,643.3 359.5,640.7 360.5,639.5 361.5,639.3 362.5,639.6 363.5,637.9 364.5,642.4 365.5,637.8 366.5,643.5 367.5,642.4 368.5,642.3 369.5,641.4 370.5,640.9 371.5,640.2 372.5,639.7 373.5,637.9 374.5,639.5 375.5,641.3 376.5,640.9 377.5,639.8 378.5,642.3 379.5,644.7 380.5,639.2 381.5,639.0 382.5,637.0 383.5,641.6 384.5,637.7 385.5,636.9 386.5,638.0 387.5,636.8 388.5,639.6 389.5,639.6 390.5,638.7 391.5,637.6 392.5,636.0 393.5,637.0 394.5,641.5 395.5,638.1 396.5,636.5 397.5,638.9 398.5,639.1 399.5,643.9 400.5,639.6 401.5,639.6 402.5,636.1 403.5,640.6 404.5,641.8 405.5,639.8 406.5,640.6 407.5,639.4 408.5,642.0 409.5,645.7 410.5,639.8 411.5,640.5 412.5,639.5 413.5,638.0 414.5,639.5 415.5,639.7 416.5,639.8 417.5,639.2 418.5,642.9 419.5,638.9 420.5,641.7 421.5,642.5 422.5,640.8 423.5,642.6 424.5,641.9 425.5,639.9 426.5,640.6 427.5,638.1 428.5,635.5 429.5,640.7 430.5,638.9 431.5,640.5 432.5,641.0 433.5,641.7 434.5,643.1 435.5,640.1 436.5,637.9 437.5,641.9 438.5,641.6 439.5,642.6 440.5,636.7 441.5,639.9 442.5,638.1 443.5,642.6 444.5,641.8 445.5,643.5 446.5,642.8 447.5,641.7 448.5,642.4 449.5,641.9 450.5,640.1 451.5,641.4 452.5,638.9 453.5,641.2 454.5,640.6 455.5,641.8 456.5,638.2 457.5,638.3 458.5,640.4 459.5,638.8 460.5,638.2 461.5,641.3 462.5,641.8 463.5,642.2 464.5,638.0 465.5,639.4 466.5,640.1 467.5,637.6 468.5,639.8 469.5,641.6 470.5,637.0 471.5,642.9 472.5,642.4 473.5,640.7 474.5,642.6 475.5,640.5 476.5,640.9 477.5,637.3 478.5,637.0 479.5,633.3 480.5,640.1 481.5,633.3 482.5,639.1 483.5,637.1 484.5,635.6 485.5,635.8 486.5,636.8 487.5,635.3 488.5,640.0 489.5,645.9 490.5,639.0 491.5,640.5 492.5,641.9 493.5,637.5 494.5,645.5 495.5,639.4 496.5,641.7 497.5,642.3 498.5,642.6 499.5,640.1 500.5,639.5 501.5,640.9 502.5,638.6 503.5,639.9 504.5,639.6 505.5,640.6 506.5,643.3 507.5,642.1 508.5,640.7 509.5,640.0 510.5,640.7 511.5,637.4 512.5,639.4 513.5,634.6 514.5,637.8 515.5,635.6 516.5,638.8 517.5,636.7 518.5,639.5 519.5,640.3 520.5,640.2 521.5,635.9 522.5,642.4 523.5,640.9 524.5,643.7 525.5,642.8 526.5,635.8 527.5,639.7 528.5,641.4 529.5,640.0 530.5,643.1 531.5,643.5 532.5,640.1 533.5,637.0 534.5,639.8 535.5,638.6 536.5,637.9 537.5,643.6 538.5,634.3 539.5,637.6 540.5,636.8 541.5,637.9 542.5,637.5 543.5,639.5 544.5,638.0 545.5,639.3 546.5,637.5 547.5,633.6 548.5,642.8 549.5,636.6 550.5,639.2 551.5,638.5 552.5,637.9 553.5,638.2 554.5,638.2 555.5,638.7 556.5,636.9 557.5,638.0 558.5,637.7 559.5,635.8 560.5,636.0 561.5,637.7 562.5,637.9 563.5,636.8 564.5,638.4 565.5,636.9 566.5,639.5 567.5,636.8 568.5,633.1 569.5,638.2 570.5,634.7 571.5,636.8 572.5,636.3 573.5,635.1 574.5,641.1 575.5,636.4 576.5,636.2 577.5,641.0 578.5,639.9 579.5,636.1 580.5,641.8 581.5,636.1 582.5,635.3 583.5,639.4 584.5,641.4 585.5,641.2 586.5,638.6 587.5,638.9 588.5,639.3 589.5,640.4 590.5,640.6 591.5,641.3 592.5,637.0 593.5,638.0 594.5,639.6 595.5,638.8 596.5,644.3 597.5,638.1 598.5,640.2 599.5,639.4 600.5,639.4 601.5,633.7 602.5,640.6 603.5,640.6 604.5,637.7 605.5,637.8 606.5,638.4 607.5,642.9 608.5,641.3 609.5,637.6 610.5,638.1 611.5,642.1 612.5,640.0 613.5,633.4 614.5,635.3 615.5,636.7 616.5,637.4 617.5,641.5 618.5,635.5 619.5,642.8 620.5,641.1 621.5,637.7 622.5,640.2 623.5,636.2 624.5,639.3 625.5,640.7 626.5,641.2 627.5,636.8 628.5,640.6 629.5,637.5 630.5,639.2 631.5,635.6 632.5,637.2 633.5,638.1 634.5,643.1 635.5,639.0 636.5,640.6 637.5,639.8 638.5,639.7 639.5,639.3 640.5,639.3 641.5,642.7 642.5,639.7 643.5,638.5 644.5,638.2 645.5,637.3 646.5,639.1 647.5,641.9 648.5,637.4 649.5,642.0 650.5,641.5 651.5,640.3 652.5,640.1 653.5,640.2 654.5,641.8 655.5,640.3 656.5,640.3 657.5,641.7 658.5,639.5 659.5,636.4 660.5,640.3 661.5,638.6 662.5,642.2 663.5,641.2 664.5,639.5 665.5,637.3 666.5,639.8 667.5,640.8 668.5,642.7 669.5,641.4 670.5,644.7 671.5,643.6 672.5,641.2 673.5,640.3 674.5,639.9 675.5,640.2 676.5,638.6 677.5,644.3 678.5,635.9 679.5,636.8 680.5,637.0 681.5,635.8 682.5,638.1 683.5,635.0 684.5,636.9 685.5,637.5 686.5,640.4 687.5,636.3 688.5,637.1 689.5,634.6 690.5,636.9 691.5,642.1 692.5,637.4 693.5,639.5 694.5,637.7 695.5,640.4 696.5,637.9 697.5,639.4 698.5,641.9 699.5,640.3 700.5,640.6 701.5,644.2 702.5,641.9 703.5,640.0 704.5,639.7 705.5,636.3 706.5,639.5 707.5,635.6 708.5,637.7 709.5,641.0 710.5,639.5 711.5,638.4 712.5,639.7 713.5,639.1 714.5,640.5 715.5,639.2 716.5,640.4 717.5,640.5 718.5,644.7 719.5,643.3 720.5,637.8 721.5,637.4 722.5,641.0 723.5,645.6 724.5,641.4 725.5,641.7 726.5,634.7 727.5,638.5 728.5,639.4 729.5,641.2 730.5,635.4 731.5,638.4 732.5,636.2 733.5,640.2 734.5,639.7 735.5,636.8 736.5,638.3 737.5,639.2 738.5,639.6 739.5,641.6 740.5,640.8 741.5,640.8 742.5,641.9 743.5,636.6 744.5,640.8 745.5,641.7 746.5,645.2 747.5,639.6 748.5,643.5 749.5,639.8 750.5,638.2 751.5,639.7 752.5,639.9 753.5,645.1 754.5,641.2 755.5,641.0 756.5,632.9 759.7,639.0"/>
<polyline fill="none" stroke="#FF00FF" stroke-width="11" stroke-linejoin="round" stroke-dasharray="38.5 36" stroke-linecap="butt" points="759.7,258.0 760.0,258.0 760.2,261.0 760.4,264.0 760.7,267.0 760.9,270.0 761.1,273.0 761.3,276.0 761.6,279.0 761.8,282.0 762.0,285.0 762.2,288.0 762.4,291.0 762.7,294.0 762.9,297.0 763.1,300.0 763.3,303.0 763.6,306.0 763.8,309.0 764.0,312.0 764.2,315.0 764.4,318.0 764.7,321.0 764.9,324.0 765.1,327.0 765.3,330.0 765.6,333.0 765.8,336.0 766.0,339.0 766.2,342.0 766.4,345.0 766.7,348.0 766.9,351.0 767.1,354.0 767.3,357.0 767.6,360.0 767.8,363.0 768.0,366.0 768.2,369.0 768.4,372.0 768.7,375.0 768.9,378.0 769.1,381.0 769.3,384.0 769.6,387.0 769.8,390.0 770.0,393.0 770.2,396.0 770.4,399.0 770.7,402.0 770.9,405.0 771.1,408.0 771.3,411.0 771.6,414.0 771.8,417.0 772.0,420.0 772.1,423.0 772.3,426.0 772.5,429.0 772.6,432.0 772.8,435.0 772.9,438.0 773.0,441.0 773.2,444.0 773.4,447.0 773.5,450.0 773.6,453.0 773.8,456.0 774.0,459.0 774.1,462.0 774.2,465.0 774.4,468.0 774.5,471.0 774.7,474.0 774.9,477.0 775.0,480.0 775.1,483.0 775.3,486.0 775.5,489.0 775.6,492.0 775.8,495.0 775.9,498.0 776.0,501.0 776.2,504.0 776.4,507.0 776.5,510.0 776.6,513.0 776.8,516.0 777.0,519.0 777.1,522.0 777.2,525.0 777.4,528.0 777.5,531.0 777.7,534.0 777.9,537.0 778.0,540.0 778.1,543.0 778.3,546.0 778.5,549.0 778.6,552.0 778.8,555.0 778.9,558.0 779.0,561.0 779.2,564.0 779.4,567.0 779.5,570.0 779.6,573.0 779.8,576.0 780.0,579.0 780.1,582.0 780.2,585.0 780.4,588.0 780.5,591.0 780.7,594.0 780.9,597.0 781.0,600.0 781.6,603.1 782.1,606.2 782.7,609.3 783.2,612.4 783.8,615.6 784.3,618.7 784.9,621.8 785.4,624.9 786.0,628.0 787.7,631.0 789.3,634.0 791.0,637.0 794.0,638.5 794.0,638.8 795.0,637.5 796.0,636.3 797.0,639.3 798.0,637.2 799.0,635.5 800.0,635.9 801.0,637.6 802.0,638.4 803.0,635.5 804.0,634.8 805.0,638.9 806.0,640.2 807.0,635.2 808.0,638.9 809.0,634.2 810.0,639.6 811.0,634.7 812.0,637.1 813.0,633.7 814.0,636.7 815.0,636.2 816.0,634.7 817.0,636.2 818.0,633.8 819.0,636.3 820.0,638.2 821.0,634.6 822.0,639.8 823.0,634.0 824.0,639.0 825.0,639.4 826.0,640.8 827.0,641.8 828.0,638.4 829.0,636.9 830.0,636.4 831.0,638.6 832.0,632.1 833.0,633.4 834.0,633.2 835.0,635.0 836.0,633.0 837.0,634.9 838.0,636.8 839.0,638.8 840.0,636.7 841.0,641.3 842.0,637.3 843.0,642.1 844.0,641.0 845.0,638.3 846.0,639.1 847.0,638.7 848.0,641.7 849.0,636.2 850.0,640.9 851.0,637.3 852.0,635.4 853.0,635.2 854.0,639.6 855.0,639.0 856.0,640.4 857.0,643.1 858.0,638.6 859.0,638.8 860.0,636.9 861.0,642.4 862.0,640.5 863.0,632.7 864.0,640.1 865.0,640.8 866.0,638.7 867.0,642.2 868.0,638.0 869.0,636.4 870.0,633.1 871.0,634.7 872.0,637.8 873.0,635.2 874.0,635.0 875.0,635.1 876.0,640.2 877.0,637.5 878.0,639.2 879.0,641.3 880.0,638.7 881.0,641.7 882.0,638.6 883.0,638.9 884.0,639.0 885.0,641.0 886.0,641.6 887.0,637.1 888.0,638.0 889.0,641.7 890.0,639.8 891.0,638.7 892.0,642.9 893.0,639.8 894.0,642.1 895.0,641.2 896.0,638.1 897.0,638.6 898.0,638.5 899.0,641.3 900.0,640.8 901.0,639.2 902.0,638.6 903.0,639.7 904.0,640.9 905.0,642.9 906.0,637.4 907.0,638.1 908.0,639.8 909.0,639.0 910.0,636.1 911.0,641.4 912.0,640.1 913.0,636.2 914.0,638.0 915.0,636.9 916.0,635.7 917.0,636.3 918.0,638.7 919.0,634.9 920.0,637.2 921.0,636.6 922.0,633.7 923.0,638.7 924.0,638.7 925.0,637.0 926.0,636.1 927.0,635.2 928.0,637.9 929.0,637.9 930.0,641.1 931.0,636.9 932.0,639.6 933.0,637.8 934.0,637.7 935.0,637.9 936.0,640.3 937.0,639.6 938.0,638.2 939.0,639.5 940.0,637.8 941.0,638.3 942.0,639.6 943.0,637.8 944.0,636.9 945.0,641.2 946.0,638.3 947.0,637.2 948.0,636.5 949.0,635.4 950.0,635.6 951.0,640.7 952.0,637.9 953.0,635.8 954.0,640.8 955.0,636.6 956.0,640.5 957.0,637.9 958.0,639.9 959.0,640.0 960.0,640.8 961.0,641.0 962.0,640.3 963.0,641.4 964.0,643.6 965.0,639.3 966.0,637.0 967.0,635.6 968.0,635.6 969.0,633.4 970.0,632.4 971.0,637.4 972.0,637.5 973.0,637.1 974.0,634.0 975.0,636.7 976.0,637.2 977.0,637.2 978.0,638.7 979.0,637.5 980.0,636.6 981.0,638.3 982.0,637.4 983.0,637.4 984.0,637.2 985.0,635.9 986.0,640.2 987.0,637.4 988.0,634.8 989.0,637.9 990.0,638.1 991.0,641.5 992.0,636.5 993.0,638.0 994.0,638.9 995.0,638.4 996.0,639.1 997.0,638.4 998.0,639.6 999.0,634.4 1000.0,641.4 1001.0,638.7 1002.0,637.2 1003.0,640.5 1004.0,638.3 1005.0,635.6 1006.0,637.7 1007.0,638.3 1008.0,634.3 1009.0,634.0 1010.0,637.2 1011.0,635.1 1012.0,637.4 1013.0,635.3 1014.0,636.3 1015.0,636.1 1016.0,638.5 1017.0,637.6 1018.0,636.6 1019.0,641.7 1020.0,638.4 1021.0,636.5 1022.0,636.3 1023.0,635.1 1024.0,638.5 1025.0,633.5 1026.0,635.1 1027.0,637.7 1028.0,633.9 1029.0,633.8 1030.0,636.9 1031.0,638.7 1032.0,634.9 1033.0,635.9 1034.0,637.9 1035.0,636.7 1036.0,636.2 1037.0,635.4 1038.0,637.0 1039.0,632.6 1040.0,640.8 1041.0,634.4 1042.0,638.0 1043.0,634.5 1044.0,637.4 1045.0,634.6 1046.0,638.6 1047.0,638.4 1048.0,635.7 1049.0,637.8 1050.0,635.7 1051.0,638.6 1052.0,639.2 1053.0,635.4 1054.0,634.5 1055.0,638.3 1056.0,634.4 1057.0,634.4 1058.0,635.3 1059.0,635.6 1060.0,637.9 1061.0,639.2 1062.0,638.4 1063.0,637.4 1064.0,638.4 1065.0,638.2 1066.0,639.4 1067.0,639.2 1068.0,642.5 1069.0,638.4 1070.0,642.9 1071.0,642.1 1072.0,635.5 1073.0,642.0 1074.0,639.2 1075.0,639.8 1076.0,637.0 1077.0,640.9 1078.0,643.2 1079.0,640.7 1080.0,643.1 1081.0,638.8 1082.0,639.6 1083.0,635.9 1084.0,640.7 1085.0,638.0 1086.0,637.7 1087.0,639.5 1088.0,639.2 1089.0,635.8 1090.0,637.8 1091.0,638.2 1092.0,642.7 1093.0,640.5 1094.0,638.6 1095.0,640.1 1096.0,637.5 1097.0,639.2 1098.0,639.4 1099.0,642.9 1100.0,639.5 1101.0,638.1 1102.0,642.6 1103.0,640.5 1104.0,642.0 1105.0,638.9 1106.0,637.7 1107.0,638.5 1108.0,641.6 1109.0,640.6 1110.0,635.8 1111.0,640.7 1112.0,640.1 1113.0,639.1 1114.0,639.4 1115.0,638.3 1116.0,640.0 1117.0,638.0 1118.0,637.7 1119.0,639.7 1120.0,639.0 1121.0,636.0 1122.0,637.5 1123.0,639.6 1124.0,644.5 1125.0,640.7 1126.0,641.5 1127.0,638.4 1128.0,642.4 1129.0,641.6 1130.0,639.3 1131.0,635.9 1132.0,633.7 1133.0,637.0 1134.0,636.8 1135.0,636.4 1136.0,634.4 1137.0,640.0 1138.0,642.8 1139.0,636.5 1140.0,636.8 1141.0,635.2 1142.0,635.4 1143.0,634.6 1144.0,638.3 1145.0,640.3 1146.0,639.6 1147.0,639.2 1148.0,639.7 1149.0,641.6 1150.0,640.9 1151.0,641.2 1152.0,639.5 1153.0,639.0 1154.0,640.3 1155.0,639.2 1156.0,639.1 1157.0,636.4 1158.0,640.9 1159.0,637.7 1160.0,643.3 1161.0,638.6 1162.0,638.9 1163.0,639.3 1164.0,642.1 1165.0,640.2 1166.0,639.3 1167.0,641.1 1168.0,642.0 1169.0,642.8 1170.0,642.9 1171.0,640.0 1172.0,638.8 1173.0,642.0 1174.0,639.1 1175.0,637.4 1176.0,637.7 1177.0,638.4 1178.0,640.4 1179.0,641.8 1180.0,638.6 1181.0,640.3 1182.0,642.4 1183.0,637.1 1184.0,637.8 1185.0,639.7 1186.0,637.7 1187.0,639.6 1188.0,637.0 1189.0,638.1 1190.0,639.5 1191.0,642.1 1192.0,639.5 1193.0,641.0 1194.0,639.4 1195.0,642.8 1196.0,638.5 1197.0,640.2 1198.0,639.9 1199.0,637.0 1200.0,636.4 1201.0,638.1 1202.0,639.5 1203.0,642.2 1204.0,637.4 1205.0,639.7 1206.0,640.4 1207.0,639.2 1208.0,640.3 1209.0,639.1 1210.0,640.3 1211.0,640.9 1212.0,641.8 1213.0,639.1 1214.0,638.3 1215.0,640.6 1216.0,634.9 1217.0,634.2 1218.0,637.3 1219.0,635.5 1220.0,638.6 1221.0,637.5 1222.0,637.1 1223.0,641.4 1224.0,641.5 1225.0,635.5 1226.0,641.1 1227.0,642.4 1228.0,639.3 1229.0,639.8 1230.0,640.3 1231.0,640.3 1232.0,644.8 1233.0,643.1 1234.0,638.9 1235.0,640.0 1236.0,641.5 1237.0,642.8 1238.0,639.2 1239.0,639.3 1240.0,639.6 1241.0,637.1 1242.0,641.0 1243.0,639.9 1244.0,638.8 1245.0,638.6 1246.0,638.5 1247.0,637.9 1248.0,639.3 1249.0,635.0 1250.0,637.9 1251.0,640.4 1252.0,639.0 1253.0,639.6 1254.0,635.5 1255.0,638.0 1256.0,637.7 1257.0,637.4 1258.0,636.2 1259.0,638.4 1260.0,639.3 1261.0,642.4 1262.0,638.1 1263.0,640.1 1264.0,639.7 1265.0,640.5 1266.0,639.9 1267.0,638.8 1268.0,636.1 1269.0,638.0 1270.0,640.6 1271.0,640.5 1272.0,639.7 1273.0,637.7 1274.0,644.2 1275.0,641.9 1276.0,636.2 1277.0,640.6 1278.0,641.7 1279.0,638.8 1280.0,640.4 1281.0,639.2 1282.0,638.8 1283.0,641.0 1284.0,636.6 1285.0,635.9 1286.0,637.3 1287.0,636.6 1288.0,635.5 1289.0,638.4 1290.0,635.0 1291.0,638.0 1292.0,636.9 1293.0,636.8 1294.0,636.1 1295.0,635.5 1296.0,636.1 1297.0,640.3 1299.8,638.0"/>
<polyline fill="none" stroke="#FF00FF" stroke-width="11" stroke-linejoin="round" stroke-dasharray="38.5 36" stroke-linecap="butt" points="1299.8,258.0 1300.0,258.0 1301.0,260.7 1302.0,263.4 1303.0,266.1 1304.0,268.8 1305.0,271.5 1306.0,274.2 1307.0,276.9 1308.0,279.6 1309.0,282.3 1310.0,285.0 1310.8,288.0 1311.6,291.0 1312.5,294.0 1313.3,297.0 1314.1,300.0 1314.9,303.0 1315.7,306.0 1316.5,309.0 1317.4,312.0 1318.2,315.0 1319.0,318.0 1319.3,321.0 1319.6,324.0 1319.9,327.1 1320.2,330.1 1320.5,333.1 1320.8,336.1 1321.1,339.2 1321.4,342.2 1321.7,345.2 1322.0,348.2 1322.3,351.3 1322.6,354.3 1322.9,357.3 1323.2,360.3 1323.4,363.4 1323.7,366.4 1324.0,369.4 1324.3,372.4 1324.6,375.5 1324.9,378.5 1325.2,381.5 1325.5,384.5 1325.8,387.6 1326.1,390.6 1326.4,393.6 1326.7,396.6 1327.0,399.7 1327.3,402.7 1327.6,405.7 1328.0,408.7 1328.4,411.6 1328.8,414.6 1329.2,417.6 1329.6,420.6 1329.9,423.5 1330.3,426.5 1330.7,429.5 1331.1,432.4 1331.5,435.4 1331.9,438.4 1332.3,441.4 1332.7,444.3 1333.1,447.3 1333.5,450.3 1333.9,453.2 1334.3,456.2 1334.7,459.2 1335.0,462.1 1335.4,465.1 1335.8,468.1 1336.2,471.1 1336.6,474.0 1337.0,477.0 1337.3,480.0 1337.6,483.0 1337.8,486.0 1338.1,489.0 1338.4,492.0 1338.7,495.0 1339.0,498.0 1339.2,501.0 1339.5,504.0 1339.8,507.0 1340.1,510.0 1340.4,513.0 1340.6,516.0 1340.9,519.0 1341.2,522.0 1341.5,525.0 1341.8,528.0 1342.0,531.0 1342.3,534.0 1342.6,537.0 1342.9,540.0 1343.2,543.0 1343.4,546.0 1343.7,549.0 1344.0,552.0 1344.4,555.0 1344.8,558.0 1345.2,561.0 1345.6,564.0 1346.0,567.0 1346.4,570.0 1346.8,573.0 1347.2,576.0 1347.6,579.0 1348.0,582.0 1348.4,585.0 1348.8,588.0 1349.2,591.0 1349.6,594.0 1350.0,597.0 1350.4,600.0 1350.8,603.0 1351.2,606.0 1351.6,609.0 1352.0,612.0 1352.4,615.0 1352.8,618.0 1353.2,621.0 1353.6,624.0 1354.0,627.0 1354.8,629.9 1355.6,632.7 1356.4,635.6 1357.2,638.5 1358.0,641.3 1358.8,644.2 1359.6,647.1 1360.4,649.9 1361.2,652.8 1362.0,655.7 1362.8,658.5 1363.6,661.4 1364.4,664.3 1365.2,667.1 1366.0,670.0 1367.4,672.4 1368.9,674.9 1370.3,677.3 1371.7,679.7 1373.1,682.1 1374.6,684.6 1376.0,687.0 1378.4,688.3 1380.8,689.6 1383.2,690.9 1385.6,692.2 1388.0,693.5 1389.0,698.2 1390.0,696.1 1391.0,697.3 1392.0,694.8 1393.0,695.9 1394.0,695.6 1395.0,696.7 1396.0,694.9 1397.0,694.1 1398.0,694.3 1399.0,696.6 1400.0,697.1 1401.0,696.7 1402.0,696.8 1403.0,695.9 1404.0,697.3 1405.0,697.4 1406.0,694.8 1407.0,696.7 1408.0,695.2 1409.0,696.3 1410.0,695.6 1411.0,694.7 1412.0,693.3 1413.0,694.2 1414.0,691.5 1415.0,692.8 1416.0,690.8 1417.0,690.5 1418.0,690.5 1419.0,689.9 1420.0,690.8 1421.0,690.6 1422.0,692.6 1423.0,690.2 1424.0,693.0 1425.0,693.2 1426.0,692.5 1427.0,694.1 1428.0,693.6 1429.0,693.7 1430.0,694.9 1431.0,697.9 1432.0,695.2 1433.0,696.0 1434.0,697.1 1435.0,697.4 1436.0,697.4 1437.0,696.6 1438.0,696.6 1439.0,695.9 1440.0,697.9 1441.0,697.2 1442.0,698.8 1443.0,700.0 1444.0,700.5 1445.0,701.7 1446.0,701.3 1447.0,701.5 1448.0,700.1 1449.0,699.7 1450.0,700.0 1451.0,699.3 1452.0,695.8 1453.0,695.9 1454.0,697.7 1455.0,695.0 1456.0,695.5 1457.0,694.4 1458.0,694.9 1459.0,689.8 1460.0,689.3 1461.0,690.0 1462.0,688.7 1463.0,688.9 1464.0,688.9 1465.0,688.6 1466.0,688.6 1467.0,691.6 1468.0,691.2 1469.0,691.5 1470.0,692.7 1471.0,692.2 1472.0,693.5 1473.0,691.6 1474.0,690.5 1475.0,692.8 1476.0,692.0 1477.0,690.9 1478.0,692.5 1479.0,692.6 1480.0,691.3 1481.0,690.7 1482.0,691.3 1483.0,690.9 1484.0,690.1 1485.0,690.7 1486.0,690.6 1487.0,691.9 1488.0,692.8 1489.0,693.4 1490.0,693.1 1491.0,692.8 1492.0,692.8 1493.0,693.7 1494.0,692.1 1495.0,695.5 1496.0,693.2 1497.0,693.8 1498.0,693.2 1499.0,693.7 1500.0,691.4 1501.0,691.4 1502.0,690.1 1503.0,690.0 1504.0,691.5 1505.0,692.3 1506.0,691.4 1507.0,691.3 1508.0,690.2 1509.0,690.1 1510.0,691.3 1511.0,690.3 1512.0,688.3 1513.0,689.2 1514.0,690.6 1515.0,691.8 1516.0,690.1 1517.0,689.6 1518.0,689.9 1519.0,692.0 1520.0,692.7 1521.0,694.1 1522.0,694.0 1523.0,694.8 1524.0,693.6 1525.0,695.9 1526.0,696.6 1527.0,696.7 1528.0,697.6 1529.0,699.6 1530.0,697.7 1531.0,701.2 1532.0,701.7 1533.0,700.9 1534.0,701.5 1535.0,700.3 1536.0,700.4 1537.0,699.7 1538.0,699.2 1539.0,699.7 1540.0,696.8 1541.0,697.3 1542.0,695.4 1543.0,695.3 1544.0,696.3 1545.0,696.9 1546.0,695.0 1547.0,696.6 1548.0,696.7 1549.0,698.6 1550.0,697.5 1551.0,698.2 1552.0,699.9 1553.0,697.6 1554.0,697.9 1555.0,696.8 1556.0,698.3 1557.0,695.5 1558.0,696.1 1559.0,694.9 1560.0,693.9 1561.0,694.1 1562.0,696.8 1563.0,694.5 1564.0,696.2 1565.0,694.9 1566.0,696.2 1567.0,696.7 1568.0,697.7 1569.0,697.1 1570.0,695.2 1571.0,697.0 1572.0,698.8 1573.0,697.8 1574.0,696.9 1575.0,697.5 1576.0,698.1 1577.0,696.1 1578.0,698.2 1579.0,695.8 1580.0,697.3 1581.0,696.2 1582.0,695.8 1583.0,696.9 1584.0,695.9 1585.0,697.4 1586.0,698.5 1587.0,700.5 1588.0,697.7 1589.0,698.3 1590.0,698.4 1591.0,697.4 1592.0,697.3 1593.0,697.5 1594.0,699.8 1595.0,697.9 1596.0,699.6 1597.0,698.2 1598.0,697.7 1599.0,696.1 1600.0,696.5 1601.0,697.1 1602.0,694.7 1603.0,697.0 1604.0,695.6 1605.0,696.0 1606.0,696.7 1607.0,697.9 1608.0,699.2 1609.0,699.3 1610.0,698.9 1611.0,700.5 1612.0,700.1 1613.0,700.8 1614.0,699.2 1615.0,700.1 1616.0,700.1 1617.0,701.6 1618.0,701.5 1619.0,699.5 1620.0,699.3 1621.0,698.3 1622.0,695.7 1623.0,695.4 1624.0,695.5 1625.0,694.1 1626.0,692.9 1627.0,691.3 1628.0,692.5 1629.0,691.7 1630.0,691.2 1631.0,690.6 1632.0,692.3 1633.0,691.4 1634.0,690.7 1635.0,690.3 1636.0,692.2 1637.0,690.7 1638.0,692.6 1639.0,692.2 1640.0,692.4 1641.0,693.9 1642.0,693.3 1643.0,694.1 1644.0,693.8 1645.0,693.3 1646.0,695.7 1647.0,694.6 1648.0,695.2 1649.0,693.7 1650.0,695.4 1651.0,694.6 1652.0,694.1 1653.0,695.9 1654.0,697.5 1655.0,699.5 1656.0,699.4 1657.0,700.1 1658.0,699.3 1659.0,700.6 1660.0,701.2 1661.0,700.5 1662.0,699.9 1663.0,697.9 1664.0,696.3 1665.0,694.4 1666.0,695.8 1667.0,693.7 1668.0,693.0 1669.0,693.1 1670.0,693.1 1671.0,693.8 1672.0,695.4 1673.0,694.5 1674.0,692.1 1675.0,693.6 1676.0,693.5 1677.0,692.7 1678.0,693.7 1679.0,694.6 1680.0,693.3 1681.0,692.9 1682.0,693.6 1683.0,694.3 1684.0,693.2 1685.0,692.7 1686.0,692.8 1687.0,695.0 1688.0,693.2 1689.0,694.7 1690.0,696.5 1691.0,695.5 1692.0,695.6 1693.0,695.7 1694.0,696.2 1695.0,694.9 1696.0,693.4 1697.0,692.4 1698.0,691.7 1699.0,688.9 1700.0,687.7 1701.0,687.2 1702.0,688.0 1703.0,688.3 1704.0,687.3 1705.0,688.8 1706.0,689.8 1707.0,690.9 1708.0,693.2 1709.0,694.1 1710.0,694.8 1711.0,699.7 1712.0,699.8 1713.0,701.3 1714.0,701.2 1715.0,700.6 1716.0,700.4 1717.0,700.1 1718.0,696.5 1719.0,696.3 1720.0,697.3 1721.0,694.4 1722.0,695.0 1723.0,693.7 1724.0,694.1 1725.0,695.5 1726.0,694.8 1727.0,693.9 1728.0,696.6 1729.0,693.2 1730.0,693.4 1731.0,693.0 1732.0,693.7 1733.0,694.6 1734.0,694.1 1735.0,693.6 1736.0,692.8 1737.0,694.5 1738.0,692.0 1739.0,691.1 1740.0,691.0 1741.0,690.4 1742.0,691.4 1743.0,693.8 1744.0,694.2 1745.0,694.4 1746.0,694.5 1747.0,695.1 1748.0,694.3 1749.0,695.0 1750.0,695.5 1751.0,692.6 1752.0,692.2 1753.0,693.1 1754.0,691.9 1755.0,694.3 1756.0,692.9 1757.0,693.2 1758.0,693.8 1759.0,694.0 1760.0,696.4 1761.0,694.7 1762.0,692.2 1763.0,695.9 1764.0,696.4 1765.0,696.4 1766.0,695.4 1767.0,696.1 1768.0,694.7 1769.0,696.8 1770.0,694.3 1771.0,694.4 1772.0,692.7 1773.0,693.9 1774.0,692.3 1775.0,692.8 1776.0,692.8 1777.0,693.1 1778.0,693.5 1779.0,693.8 1780.0,694.7 1781.0,695.3 1782.0,693.1 1783.0,695.4 1784.0,693.7 1785.0,694.8 1786.0,694.8 1787.0,693.1 1788.0,693.6 1789.0,693.9 1790.0,694.5 1791.0,694.6 1792.0,694.5 1793.0,693.3 1794.0,693.1 1795.0,692.8 1796.0,693.9 1797.0,695.1 1798.0,695.1 1799.0,695.5 1800.0,694.6 1801.0,694.0 1802.0,693.1 1803.0,693.6 1804.0,690.9 1805.0,690.0 1806.0,690.4 1807.0,690.7 1808.0,689.0 1809.0,689.2 1810.0,689.7 1811.0,687.4 1812.0,688.3 1813.0,687.4 1814.0,688.5 1815.0,687.8 1816.0,689.4 1817.0,689.9 1818.0,688.6 1819.0,692.0 1820.0,689.7 1821.0,691.3 1822.0,693.7 1823.0,693.9 1824.0,695.4 1825.0,694.3 1826.0,694.3 1827.0,694.6 1828.0,697.1 1829.0,696.6 1830.0,694.8 1831.0,694.6 1832.0,693.9 1833.0,692.5 1834.0,693.9 1835.0,691.6 1836.0,690.9 1837.0,692.5 1838.0,690.3 1839.0,693.0 1840.0,691.2 1841.0,692.3 1842.0,691.5 1843.0,693.3 1844.0,691.6 1845.0,690.9 1846.0,691.9 1847.0,693.5 1848.0,690.5 1849.0,692.4 1850.0,692.8 1851.0,693.7 1852.0,692.3 1853.0,690.7 1854.0,691.9 1855.0,691.4 1856.0,691.1 1857.0,692.1 1858.0,689.1 1859.0,690.4 1860.0,691.7 1861.0,690.4 1862.0,691.2 1863.0,691.3 1864.0,691.9 1865.0,692.3 1866.0,690.8 1867.0,691.3 1868.0,689.9 1869.0,689.2 1870.0,689.1 1871.0,690.7 1872.0,691.0 1873.0,692.1 1874.0,694.1 1875.0,692.7 1876.0,696.1 1877.0,696.3 1878.0,696.4 1879.0,698.0 1880.0,698.3 1881.0,700.5 1882.0,698.6 1883.0,699.0 1884.0,696.9 1885.0,696.1 1886.0,694.8 1887.0,696.1 1888.0,694.8 1889.0,694.5 1890.0,693.4 1891.0,694.8 1892.0,694.4 1893.0,694.9 1894.0,694.1 1895.0,696.5 1896.0,697.9 1897.0,696.6 1898.0,696.6 1899.0,698.9 1900.0,695.5 1901.0,694.3 1902.0,693.0 1903.0,692.3 1904.0,692.4 1905.0,690.2 1906.0,689.5 1907.0,688.9"/>
<polyline fill="none" stroke="#FFB000" stroke-width="11" stroke-linejoin="round" stroke-dasharray="10.6 8" stroke-linecap="butt" points="220.0,252.0 220.2,255.0 220.4,258.0 220.6,261.0 220.8,264.0 221.1,267.0 221.3,270.0 221.5,273.0 221.7,276.0 221.9,279.0 222.1,282.0 222.3,285.0 222.5,288.0 222.7,291.0 222.9,294.0 223.2,297.0 223.4,300.0 223.6,303.0 223.8,306.0 224.0,309.0 224.2,312.0 224.4,315.0 224.6,318.0 224.8,321.0 225.1,324.0 225.3,327.0 225.5,330.0 225.7,333.0 225.9,336.0 226.1,339.0 226.3,342.0 226.5,345.0 226.7,348.0 226.9,351.0 227.2,354.0 227.4,357.0 227.6,360.0 227.8,363.0 228.0,366.0 228.2,369.0 228.4,372.0 228.6,375.0 228.8,378.0 229.1,381.0 229.3,384.0 229.5,387.0 229.7,390.0 229.9,393.0 230.1,396.0 230.3,399.0 230.5,402.0 230.7,405.0 230.9,408.0 231.2,411.0 231.4,414.0 231.6,417.0 231.8,420.0 232.0,423.0 232.2,426.0 232.4,429.0 232.6,432.0 232.8,435.0 233.1,438.0 233.3,441.0 233.5,444.0 233.7,447.0 233.9,450.0 234.1,453.0 234.3,456.0 234.5,459.0 234.7,462.0 234.9,465.0 235.2,468.0 235.4,471.0 235.6,474.0 235.8,477.0 236.0,480.0 236.2,483.0 236.4,486.0 236.6,489.0 236.8,491.9 237.0,494.9 237.3,497.9 237.5,500.9 237.7,503.9 237.9,506.9 238.1,509.9 238.3,512.8 238.5,515.8 238.7,518.8 238.9,521.8 239.1,524.8 239.3,527.8 239.6,530.7 239.8,533.7 240.0,536.7 240.2,539.7 240.4,542.7 240.6,545.7 240.8,548.7 241.0,551.6 241.2,554.6 241.4,557.6 241.6,560.6 241.9,563.6 242.1,566.6 242.3,569.6 242.5,572.5 242.7,575.5 242.9,578.5 243.1,581.5 243.3,584.5 243.5,587.5 243.7,590.4 243.9,593.4 244.1,596.4 244.4,599.4 244.6,602.4 244.8,605.4 245.0,608.4 245.2,611.3 245.4,614.3 245.6,617.3 245.8,620.3 246.0,623.3 246.2,626.3 246.4,629.3 246.7,632.2 246.9,635.2 247.1,638.2 247.3,641.2 247.5,644.2 247.7,647.2 247.9,650.1 248.1,653.1 248.3,656.1 248.5,659.1 248.7,662.1 249.0,665.1 249.2,668.1 249.4,671.0 249.6,674.0 249.8,677.0 250.0,680.0 250.3,683.0 250.6,686.0 250.9,689.0 251.1,692.0 251.4,695.0 251.7,698.0 252.0,701.0 252.3,704.0 252.6,707.0 252.9,710.0 253.1,713.0 253.4,716.0 253.7,719.0 254.0,722.0 254.2,725.0 254.4,728.1 254.7,731.1 254.9,734.1 255.1,737.2 255.3,740.2 255.6,743.2 255.8,746.3 256.0,749.3 256.2,752.3 256.5,755.4 256.7,758.4 256.9,761.4 257.1,764.5 257.4,767.5 257.6,770.5 257.8,773.6 258.0,776.6 258.3,779.6 258.5,782.7 258.7,785.7 258.8,788.6 258.9,791.5 259.0,794.5 259.1,797.4 259.1,800.3 259.2,803.2 259.3,806.2 259.4,809.1 259.5,812.0 260.4,815.0 261.2,818.0 262.1,821.0 263.0,824.0 264.0,826.7 265.0,828.7 266.0,826.1 267.0,832.2 268.0,825.4 269.0,825.0 270.0,826.0 271.0,828.1 272.0,823.0 273.0,827.8 274.0,827.8 275.0,821.3 276.0,825.5 277.0,824.7 278.0,823.2 279.0,825.4 280.0,831.6 281.0,825.3 282.0,827.1 283.0,828.1 284.0,825.4 285.0,826.5 286.0,827.3 287.0,832.1 288.0,832.9 289.0,829.2 290.0,828.3 291.0,826.0 292.0,830.2 293.0,830.5 294.0,830.4 295.0,825.2 296.0,830.0 297.0,826.2 298.0,826.6 299.0,823.3 300.0,823.3 301.0,824.7 302.0,820.2 303.0,821.4 304.0,823.6 305.0,819.9 306.0,823.8 307.0,820.6 308.0,823.7 309.0,823.5 310.0,823.6 311.0,822.3 312.0,819.0 313.0,823.3 314.0,821.0 315.0,818.6 316.0,824.5 317.0,828.6 318.0,825.4 319.0,827.7 320.0,830.0 321.0,825.8 322.0,827.0 323.0,823.2 324.0,822.7 325.0,827.6 326.0,823.8 327.0,821.1 328.0,824.3 329.0,823.8 330.0,826.6 331.0,829.3 332.0,826.0 333.0,820.5 334.0,824.1 335.0,820.8 336.0,825.1 337.0,825.8 338.0,826.6 339.0,828.2 340.0,825.9 341.0,829.4 342.0,829.9 343.0,828.1 344.0,830.5 345.0,834.2 346.0,832.0 347.0,833.3 348.0,828.7 349.0,837.3 350.0,836.2 351.0,832.0 352.0,831.7 353.0,837.2 354.0,830.6 355.0,830.1 356.0,833.7 357.0,828.9 358.0,832.7 359.0,829.7 360.0,830.5 361.0,832.3 362.0,832.1 363.0,830.8 364.0,826.4 365.0,830.5 366.0,827.6 367.0,826.2 368.0,824.5 369.0,827.9 370.0,826.1 371.0,827.0 372.0,822.7 373.0,824.2 374.0,827.9 375.0,825.9 376.0,824.8 377.0,825.7 378.0,824.6 379.0,825.0 380.0,824.9 381.0,823.8 382.0,819.4 383.0,824.0 384.0,819.6 385.0,817.9 386.0,821.5 387.0,820.5 388.0,824.4 389.0,821.2 390.0,821.3 391.0,820.0 392.0,818.1 393.0,820.7 394.0,823.7 395.0,822.1 396.0,826.4 397.0,821.9 398.0,827.6 399.0,828.6 400.0,832.5 401.0,832.8 402.0,832.2 403.0,827.9 404.0,827.6 405.0,828.0 406.0,829.6 407.0,826.5 408.0,827.9 409.0,824.3 410.0,821.3 411.0,820.8 412.0,825.6 413.0,824.0 414.0,819.6 415.0,822.2 416.0,826.2 417.0,827.5 418.0,828.6 419.0,827.5 420.0,829.1 421.0,829.7 422.0,828.4 423.0,828.7 424.0,825.4 425.0,824.3 426.0,820.5 427.0,815.8 428.0,817.4 429.0,818.4 430.0,817.2 431.0,821.8 432.0,819.9 433.0,821.3 434.0,820.7 435.0,823.4 436.0,824.6 437.0,825.5 438.0,821.5 439.0,820.7 440.0,819.1 441.0,819.1 442.0,817.2 443.0,820.4 444.0,817.7 445.0,820.7 446.0,819.9 447.0,815.5 448.0,824.1 449.0,819.7 450.0,824.2 451.0,823.1 452.0,823.0 453.0,822.1 454.0,826.8 455.0,824.3 456.0,824.0 457.0,823.7 458.0,822.2 459.0,823.3 460.0,822.6 461.0,824.8 462.0,829.5 463.0,830.6 464.0,826.8 465.0,826.7 466.0,827.7 467.0,832.5 468.0,828.8 469.0,825.0 470.0,824.6 471.0,824.5 472.0,821.0 473.0,816.3 474.0,816.7 475.0,817.2 476.0,814.5 477.0,817.6 478.0,823.8 479.0,821.1 480.0,826.3 481.0,825.4 482.0,824.6 483.0,824.5 484.0,821.9 485.0,824.9 486.0,822.7 487.0,825.3 488.0,822.5 489.0,823.9 490.0,825.3 491.0,829.5 492.0,829.0 493.0,828.9 494.0,829.5 495.0,828.2 496.0,824.8 497.0,826.6 498.0,826.1 499.0,831.5 500.0,827.9 501.0,827.4 502.0,831.2 503.0,829.9 504.0,827.3 505.0,827.0 506.0,832.7 507.0,824.4 508.0,833.7 509.0,832.6 510.0,828.7 511.0,827.1 512.0,828.7 513.0,829.3 514.0,826.2 515.0,829.1 516.0,828.6 517.0,829.2 518.0,828.9 519.0,828.2 520.0,828.9 521.0,830.2 522.0,829.0 523.0,825.1 524.0,831.3 525.0,829.4 526.0,824.7 527.0,829.1 528.0,827.4 529.0,827.3 530.0,824.7 531.0,826.3 532.0,826.8 533.0,825.1 534.0,827.6 535.0,823.3 536.0,825.3 537.0,825.6 538.0,823.1 539.0,831.9 540.0,827.3 541.0,829.0 542.0,829.1 543.0,826.6 544.0,828.9 545.0,828.9 546.0,826.2 547.0,829.5 548.0,831.2 549.0,830.8 550.0,826.2 551.0,831.0 552.0,833.3 553.0,831.0 554.0,826.9 555.0,823.4 556.0,827.6 557.0,824.6 558.0,828.8 559.0,826.6 560.0,830.5 561.0,830.2 562.0,834.0 563.0,832.0 564.0,832.5 565.0,833.4 566.0,831.6 567.0,830.6 568.0,826.7 569.0,824.4 570.0,825.0 571.0,820.9 572.0,823.0 573.0,817.3 574.0,819.8 575.0,818.5 576.0,821.8 577.0,819.7 578.0,817.7 579.0,821.6 580.0,819.6 581.0,816.6 582.0,818.5 583.0,820.0 584.0,822.3 585.0,821.4 586.0,820.7 587.0,824.1 588.0,824.0 589.0,819.7 590.0,823.3 591.0,826.3 592.0,828.4 593.0,825.5 594.0,828.0 595.0,833.5 596.0,831.0 597.0,833.4 598.0,824.2 599.0,834.6 600.0,828.9 601.0,827.4 602.0,829.3 603.0,829.2 604.0,830.2 605.0,825.3 606.0,827.8 607.0,827.7 608.0,827.7 609.0,823.7 610.0,824.2 611.0,828.0 612.0,829.2 613.0,831.5 614.0,829.9 615.0,831.5 616.0,830.4 617.0,830.6 618.0,828.9 619.0,829.6 620.0,833.1 621.0,829.8 622.0,830.1 623.0,830.7 624.0,830.9 625.0,829.3 626.0,835.6 627.0,826.8 628.0,826.0 629.0,829.9 630.0,823.3 631.0,824.8 632.0,826.2 633.0,825.5 634.0,828.5 635.0,827.5 636.0,828.8 637.0,830.2 638.0,828.8 639.0,831.4 640.0,829.0 641.0,831.0 642.0,828.7 643.0,824.4 644.0,826.4 645.0,828.0 646.0,823.8 647.0,824.0 648.0,827.3 649.0,821.4 650.0,824.8 651.0,823.0 652.0,823.3 653.0,816.4 654.0,823.5 655.0,826.5 656.0,829.7 657.0,827.7 658.0,832.2 659.0,834.1 660.0,833.9 661.0,831.3 662.0,825.6 663.0,823.6 664.0,828.3 665.0,830.6 666.0,825.1 667.0,824.4 668.0,826.5 669.0,827.7 670.0,825.3 671.0,828.5 672.0,830.6 673.0,827.9 674.0,825.8 675.0,830.0 676.0,821.9 677.0,828.0 678.0,822.8 679.0,820.1 680.0,820.8 681.0,813.9 682.0,817.4 683.0,817.1 684.0,820.9 685.0,822.2 686.0,825.5 687.0,823.7 688.0,821.8 689.0,819.1 690.0,821.6 691.0,813.4 692.0,817.5 693.0,822.2 694.0,816.7 695.0,816.4 696.0,818.0 697.0,816.9 698.0,812.9 699.0,816.7 700.0,821.5 701.0,814.9 702.0,821.0 703.0,821.6 704.0,826.1 705.0,825.6 706.0,826.0 707.0,825.9 708.0,831.8 709.0,831.3 710.0,832.3 711.0,827.0 712.0,827.6 713.0,828.2 714.0,833.9 715.0,828.4 716.0,829.9 717.0,830.9 718.0,831.5 719.0,827.0 720.0,831.7 721.0,831.0 722.0,825.9 723.0,834.1 724.0,830.2 725.0,828.8 726.0,826.3 727.0,831.7 728.0,828.5 729.0,824.1 730.0,828.7 731.0,829.8 732.0,830.5 733.0,830.0 734.0,829.1 735.0,831.5 736.0,830.6 737.0,829.8 738.0,834.0 739.0,824.1 740.0,825.4 741.0,824.4 742.0,826.2 743.0,827.2 744.0,825.9 745.0,823.7 746.0,826.9 747.0,821.4 748.0,826.3 749.0,827.2 750.0,824.8 751.0,824.2 752.0,825.9 753.0,825.2 754.0,822.8 755.0,821.4 756.0,824.0 757.0,821.5 759.7,826.0"/>
<polyline fill="none" stroke="#FFB000" stroke-width="11" stroke-linejoin="round" stroke-dasharray="10.6 8" stroke-linecap="butt" points="759.7,258.0 760.0,258.0 760.2,261.0 760.4,264.0 760.6,267.0 760.9,270.0 761.1,273.0 761.3,276.0 761.5,279.0 761.7,282.0 761.9,285.0 762.2,288.0 762.4,291.0 762.6,294.0 762.8,297.0 763.0,300.0 763.2,303.0 763.5,306.0 763.7,309.0 763.9,312.0 764.1,315.0 764.3,318.0 764.5,321.0 764.8,324.0 765.0,327.0 765.2,330.0 765.4,333.0 765.6,336.0 765.8,339.0 766.1,342.0 766.3,345.0 766.5,348.0 766.7,351.0 766.9,354.0 767.1,357.0 767.4,360.0 767.6,363.0 767.8,366.0 768.0,369.0 768.2,372.0 768.4,375.0 768.6,378.0 768.9,381.0 769.1,384.0 769.3,387.0 769.5,390.0 769.7,393.0 769.9,396.0 770.2,399.0 770.4,402.0 770.6,405.0 770.8,408.0 771.0,411.0 771.2,414.0 771.5,417.0 771.7,420.0 771.9,423.0 772.1,426.0 772.3,429.0 772.5,432.0 772.8,435.0 773.0,438.0 773.2,441.0 773.4,444.0 773.6,447.0 773.8,450.0 774.1,453.0 774.3,456.0 774.5,459.0 774.7,462.0 774.9,465.0 775.1,468.0 775.4,471.0 775.6,474.0 775.8,477.0 776.0,480.0 776.2,483.0 776.4,486.0 776.7,489.0 776.9,492.0 777.1,495.0 777.3,498.0 777.5,501.0 777.7,504.0 778.0,506.9 778.2,509.9 778.4,512.9 778.6,515.9 778.8,518.9 779.1,521.9 779.3,524.9 779.5,527.9 779.7,530.9 779.9,533.9 780.1,536.9 780.4,539.9 780.6,542.9 780.8,545.9 781.0,548.9 781.2,551.9 781.5,554.8 781.7,557.8 781.9,560.8 782.1,563.8 782.3,566.8 782.6,569.8 782.8,572.8 783.0,575.8 783.2,578.8 783.4,581.8 783.6,584.8 783.9,587.8 784.1,590.8 784.3,593.8 784.5,596.8 784.7,599.8 785.0,602.7 785.2,605.7 785.4,608.7 785.6,611.7 785.8,614.7 786.0,617.7 786.3,620.7 786.5,623.7 786.7,626.7 786.9,629.7 787.1,632.8 787.2,635.8 787.4,638.8 787.6,641.9 787.8,644.9 788.0,647.9 788.2,651.0 788.3,654.0 788.5,657.0 788.7,660.1 788.9,663.1 789.1,666.1 789.3,669.2 789.4,672.2 789.6,675.3 789.8,678.3 790.0,681.3 790.2,684.4 790.4,687.4 790.5,690.4 790.7,693.5 790.9,696.5 791.1,699.5 791.3,702.6 791.5,705.6 791.6,708.6 791.8,711.7 792.0,714.7 792.2,717.8 792.4,720.8 792.6,723.9 792.8,727.0 793.1,730.0 793.3,733.1 793.5,736.2 793.7,739.2 793.9,742.3 794.1,745.4 794.3,748.5 794.5,751.5 794.7,754.6 794.9,757.7 795.2,760.7 795.4,763.8 795.6,766.9 795.8,769.9 796.0,773.0 796.1,776.0 796.3,779.0 796.4,782.0 796.6,785.0 796.7,788.0 796.9,791.0 797.0,794.0 797.2,797.0 797.3,800.0 798.1,803.0 798.9,806.0 799.7,809.0 800.5,812.0 801.3,815.0 802.0,825.1 803.0,824.5 804.0,826.9 805.0,825.7 806.0,821.9 807.0,819.0 808.0,819.1 809.0,823.3 810.0,815.6 811.0,816.3 812.0,815.4 813.0,818.8 814.0,817.6 815.0,815.8 816.0,815.2 817.0,820.7 818.0,819.0 819.0,824.9 820.0,821.5 821.0,819.0 822.0,823.0 823.0,819.7 824.0,824.0 825.0,826.8 826.0,829.0 827.0,828.6 828.0,828.3 829.0,828.8 830.0,829.3 831.0,830.8 832.0,832.0 833.0,829.3 834.0,830.9 835.0,828.5 836.0,827.6 837.0,825.0 838.0,828.4 839.0,824.4 840.0,828.8 841.0,824.7 842.0,827.9 843.0,827.8 844.0,824.0 845.0,822.8 846.0,825.5 847.0,820.5 848.0,823.8 849.0,823.1 850.0,828.8 851.0,826.7 852.0,826.6 853.0,826.8 854.0,829.2 855.0,830.2 856.0,826.8 857.0,826.4 858.0,823.9 859.0,819.4 860.0,819.2 861.0,818.3 862.0,819.8 863.0,820.4 864.0,820.5 865.0,816.9 866.0,819.5 867.0,822.7 868.0,822.0 869.0,824.3 870.0,827.5 871.0,826.3 872.0,829.6 873.0,828.9 874.0,830.8 875.0,830.2 876.0,829.6 877.0,830.3 878.0,827.7 879.0,826.9 880.0,827.0 881.0,824.6 882.0,820.4 883.0,826.8 884.0,822.4 885.0,823.6 886.0,823.9 887.0,824.1 888.0,824.7 889.0,825.7 890.0,826.8 891.0,822.4 892.0,826.5 893.0,824.9 894.0,827.4 895.0,823.5 896.0,825.0 897.0,823.6 898.0,819.6 899.0,828.4 900.0,824.8 901.0,823.9 902.0,826.8 903.0,822.7 904.0,824.3 905.0,822.6 906.0,820.5 907.0,825.3 908.0,824.7 909.0,822.5 910.0,818.4 911.0,821.0 912.0,820.1 913.0,820.6 914.0,823.8 915.0,819.1 916.0,817.8 917.0,816.7 918.0,819.8 919.0,819.8 920.0,819.3 921.0,820.9 922.0,815.9 923.0,818.9 924.0,818.4 925.0,814.5 926.0,817.9 927.0,819.4 928.0,818.8 929.0,816.0 930.0,819.2 931.0,819.4 932.0,818.5 933.0,817.8 934.0,815.9 935.0,821.1 936.0,819.8 937.0,822.6 938.0,821.7 939.0,815.7 940.0,815.1 941.0,821.6 942.0,817.5 943.0,818.3 944.0,818.8 945.0,817.2 946.0,821.5 947.0,821.5 948.0,817.1 949.0,822.2 950.0,819.3 951.0,817.2 952.0,822.0 953.0,819.8 954.0,817.9 955.0,820.5 956.0,820.4 957.0,817.8 958.0,818.3 959.0,821.2 960.0,825.9 961.0,824.9 962.0,827.1 963.0,826.4 964.0,825.2 965.0,825.4 966.0,824.3 967.0,829.6 968.0,828.1 969.0,826.3 970.0,831.0 971.0,823.8 972.0,822.5 973.0,825.9 974.0,823.4 975.0,821.5 976.0,821.0 977.0,822.8 978.0,821.8 979.0,818.7 980.0,823.1 981.0,819.5 982.0,824.6 983.0,817.1 984.0,822.8 985.0,827.2 986.0,827.5 987.0,826.4 988.0,831.0 989.0,827.4 990.0,825.7 991.0,826.1 992.0,823.3 993.0,823.6 994.0,815.6 995.0,818.5 996.0,823.5 997.0,823.9 998.0,823.7 999.0,827.9 1000.0,827.9 1001.0,826.7 1002.0,828.4 1003.0,830.7 1004.0,827.0 1005.0,826.9 1006.0,823.7 1007.0,828.3 1008.0,825.6 1009.0,826.3 1010.0,828.0 1011.0,821.8 1012.0,821.7 1013.0,823.0 1014.0,822.1 1015.0,821.2 1016.0,820.6 1017.0,821.0 1018.0,818.1 1019.0,823.4 1020.0,817.7 1021.0,821.7 1022.0,820.3 1023.0,818.4 1024.0,825.4 1025.0,823.4 1026.0,818.0 1027.0,817.4 1028.0,821.5 1029.0,822.9 1030.0,817.5 1031.0,818.8 1032.0,818.3 1033.0,817.0 1034.0,814.5 1035.0,812.0 1036.0,815.2 1037.0,815.9 1038.0,815.5 1039.0,816.9 1040.0,815.8 1041.0,815.1 1042.0,820.3 1043.0,819.0 1044.0,815.9 1045.0,816.7 1046.0,818.4 1047.0,817.2 1048.0,816.7 1049.0,821.1 1050.0,815.9 1051.0,818.1 1052.0,824.8 1053.0,817.6 1054.0,819.5 1055.0,825.7 1056.0,824.7 1057.0,826.0 1058.0,825.1 1059.0,826.7 1060.0,830.2 1061.0,828.1 1062.0,830.3 1063.0,826.6 1064.0,831.6 1065.0,831.8 1066.0,832.5 1067.0,832.2 1068.0,829.7 1069.0,833.9 1070.0,828.7 1071.0,831.3 1072.0,826.2 1073.0,825.7 1074.0,826.8 1075.0,824.0 1076.0,825.2 1077.0,823.5 1078.0,819.0 1079.0,816.3 1080.0,815.4 1081.0,817.7 1082.0,814.0 1083.0,812.0 1084.0,816.4 1085.0,817.2 1086.0,818.8 1087.0,823.5 1088.0,823.2 1089.0,825.5 1090.0,834.2 1091.0,831.0 1092.0,834.6 1093.0,838.4 1094.0,843.1 1095.0,837.8 1096.0,836.2 1097.0,835.9 1098.0,832.5 1099.0,824.6 1100.0,827.5 1101.0,822.6 1102.0,823.6 1103.0,820.4 1104.0,820.2 1105.0,819.5 1106.0,824.2 1107.0,826.3 1108.0,822.5 1109.0,830.2 1110.0,821.9 1111.0,827.1 1112.0,828.7 1113.0,827.7 1114.0,826.5 1115.0,825.2 1116.0,824.7 1117.0,828.6 1118.0,828.0 1119.0,827.6 1120.0,827.7 1121.0,819.9 1122.0,826.4 1123.0,823.6 1124.0,826.1 1125.0,824.2 1126.0,824.9 1127.0,825.7 1128.0,819.4 1129.0,820.7 1130.0,823.1 1131.0,823.7 1132.0,825.6 1133.0,821.4 1134.0,821.4 1135.0,828.1 1136.0,823.0 1137.0,823.3 1138.0,817.7 1139.0,820.2 1140.0,817.2 1141.0,819.7 1142.0,818.6 1143.0,817.7 1144.0,816.5 1145.0,819.5 1146.0,820.1 1147.0,824.3 1148.0,816.2 1149.0,818.0 1150.0,818.1 1151.0,823.0 1152.0,821.5 1153.0,821.7 1154.0,823.6 1155.0,824.5 1156.0,828.8 1157.0,825.3 1158.0,826.2 1159.0,824.1 1160.0,820.9 1161.0,821.7 1162.0,821.0 1163.0,819.3 1164.0,819.6 1165.0,818.4 1166.0,819.0 1167.0,817.5 1168.0,818.0 1169.0,819.3 1170.0,818.4 1171.0,819.2 1172.0,815.2 1173.0,817.8 1174.0,816.4 1175.0,815.3 1176.0,813.5 1177.0,814.2 1178.0,817.8 1179.0,819.9 1180.0,820.5 1181.0,821.4 1182.0,822.5 1183.0,822.1 1184.0,823.2 1185.0,821.4 1186.0,815.2 1187.0,818.9 1188.0,819.7 1189.0,823.0 1190.0,821.1 1191.0,825.2 1192.0,823.8 1193.0,828.0 1194.0,832.4 1195.0,831.2 1196.0,831.8 1197.0,831.2 1198.0,834.1 1199.0,833.9 1200.0,831.6 1201.0,829.7 1202.0,833.8 1203.0,834.5 1204.0,829.8 1205.0,830.2 1206.0,826.3 1207.0,827.0 1208.0,829.8 1209.0,827.6 1210.0,826.5 1211.0,826.2 1212.0,825.7 1213.0,829.1 1214.0,827.8 1215.0,825.4 1216.0,822.3 1217.0,826.8 1218.0,823.9 1219.0,827.0 1220.0,823.5 1221.0,828.8 1222.0,828.0 1223.0,829.4 1224.0,826.9 1225.0,827.0 1226.0,825.7 1227.0,831.1 1228.0,825.7 1229.0,825.9 1230.0,826.6 1231.0,825.7 1232.0,822.1 1233.0,822.7 1234.0,823.4 1235.0,823.2 1236.0,823.2 1237.0,817.2 1238.0,823.6 1239.0,825.6 1240.0,825.9 1241.0,821.7 1242.0,823.0 1243.0,819.1 1244.0,822.9 1245.0,820.4 1246.0,824.0 1247.0,821.8 1248.0,822.5 1249.0,822.0 1250.0,822.1 1251.0,821.2 1252.0,817.7 1253.0,815.2 1254.0,820.4 1255.0,822.3 1256.0,821.6 1257.0,821.8 1258.0,818.4 1259.0,824.8 1260.0,822.9 1261.0,827.1 1262.0,827.1 1263.0,826.1 1264.0,828.3 1265.0,825.0 1266.0,823.7 1267.0,826.9 1268.0,824.9 1269.0,821.1 1270.0,823.8 1271.0,823.8 1272.0,826.2 1273.0,820.2 1274.0,823.9 1275.0,824.1 1276.0,824.0 1277.0,830.5 1278.0,821.9 1279.0,822.5 1280.0,822.8 1281.0,825.9 1282.0,829.3 1283.0,823.4 1284.0,829.0 1285.0,829.2 1286.0,824.9 1287.0,825.8 1288.0,824.5 1289.0,825.8 1290.0,822.6 1291.0,825.5 1292.0,825.5 1293.0,822.8 1294.0,826.0 1295.0,826.5 1296.0,819.7 1297.0,824.5 1299.8,826.0"/>
<polyline fill="none" stroke="#FFB000" stroke-width="11" stroke-linejoin="round" stroke-dasharray="10.6 8" stroke-linecap="butt" points="1299.8,252.0 1300.0,252.0 1300.8,248.8 1301.6,245.6 1302.4,242.4 1303.2,239.2 1304.0,236.0 1305.2,233.5 1306.5,231.0 1307.8,228.5 1309.0,226.0 1310.7,228.0 1312.3,230.0 1314.0,232.0 1314.8,234.9 1315.5,237.8 1316.2,240.6 1317.0,243.5 1317.8,246.4 1318.5,249.2 1319.2,252.1 1320.0,255.0 1320.5,258.0 1321.0,261.0 1321.5,264.0 1322.0,267.0 1322.5,270.0 1323.0,273.0 1323.6,276.2 1324.2,279.3 1324.8,282.5 1325.3,285.7 1325.9,288.8 1326.5,292.0 1327.1,295.0 1327.7,298.0 1328.2,301.0 1328.8,304.0 1329.4,307.0 1330.0,310.0 1330.5,313.2 1331.0,316.3 1331.5,319.5 1332.0,322.7 1332.5,325.8 1333.0,329.0 1333.3,332.0 1333.7,335.0 1334.0,338.0 1334.3,341.0 1334.7,344.0 1335.0,347.0 1335.6,350.2 1336.2,353.3 1336.8,356.5 1337.3,359.7 1337.9,362.8 1338.5,366.0 1339.2,369.0 1340.0,372.0 1340.8,375.0 1341.5,378.0 1342.2,381.0 1343.0,384.0 1343.6,386.9 1344.2,389.9 1344.7,392.9 1345.3,395.8 1345.9,398.8 1346.4,401.7 1347.0,404.7 1347.6,407.6 1348.0,410.6 1348.4,413.6 1348.8,416.6 1349.3,419.6 1349.7,422.6 1350.1,425.6 1350.5,428.6 1351.4,431.3 1352.3,434.1 1353.2,436.8 1354.2,439.5 1355.1,442.3 1356.0,445.0 1357.6,447.4 1359.1,449.8 1360.7,452.2 1362.2,454.6 1363.8,457.0 1364.3,460.0 1364.8,463.0 1365.2,466.0 1365.7,469.0 1366.2,472.0 1366.7,475.0 1367.1,478.0 1367.6,481.0 1368.1,484.0 1368.5,487.0 1369.0,490.0 1369.5,493.0 1370.0,496.0 1370.5,499.0 1371.1,502.0 1371.6,505.0 1372.1,508.0 1372.6,511.0 1373.2,514.0 1373.7,517.0 1374.2,520.0 1374.5,523.0 1374.7,525.9 1375.0,528.9 1375.2,531.8 1375.5,534.8 1375.7,537.7 1376.0,540.7 1376.3,543.6 1376.5,546.6 1376.8,549.5 1377.0,552.5 1377.3,555.4 1377.5,558.4 1377.8,561.3 1378.1,564.3 1378.3,567.2 1378.6,570.2 1378.8,573.1 1379.1,576.1 1379.3,579.0 1379.6,582.0 1379.8,585.0 1380.0,587.9 1380.3,590.9 1380.5,593.8 1380.7,596.8 1380.9,599.8 1381.1,602.7 1381.4,605.7 1381.6,608.6 1381.8,611.6 1382.0,614.5 1382.2,617.5 1382.5,620.5 1382.7,623.4 1382.9,626.4 1383.1,629.3 1383.4,632.3 1383.6,635.2 1383.8,638.2 1384.0,641.2 1384.2,644.1 1384.5,647.1 1384.7,650.0 1384.9,653.0 1385.0,656.0 1385.1,659.0 1385.2,662.0 1385.3,664.9 1385.4,667.9 1385.5,670.9 1385.6,673.9 1385.7,676.9 1385.8,679.9 1385.9,682.8 1386.0,685.8 1386.1,688.8 1386.2,691.8 1386.3,694.8 1386.4,697.8 1386.5,700.7 1386.6,703.7 1386.7,706.7 1386.8,709.6 1387.0,712.6 1387.1,715.5 1387.2,718.5 1387.4,721.4 1387.5,724.4 1387.6,727.3 1387.7,730.3 1387.9,733.2 1388.0,736.2 1388.1,739.1 1388.3,742.1 1388.4,745.0 1390.1,747.8 1391.7,750.5 1393.3,753.2 1395.0,756.0 1396.0,760.0 1397.0,760.0 1398.0,766.5 1399.0,763.7 1400.0,761.3 1401.0,759.8 1402.0,760.7 1403.0,762.3 1404.0,759.3 1405.0,759.2 1406.0,760.8 1407.0,759.0 1408.0,757.1 1409.0,759.0 1410.0,753.5 1411.0,755.3 1412.0,753.5 1413.0,749.1 1414.0,753.2 1415.0,751.0 1416.0,754.4 1417.0,755.9 1418.0,759.8 1419.0,757.2 1420.0,758.6 1421.0,759.2 1422.0,758.4 1423.0,758.2 1424.0,757.6 1425.0,763.0 1426.0,761.6 1427.0,760.7 1428.0,758.3 1429.0,760.1 1430.0,758.5 1431.0,759.9 1432.0,756.6 1433.0,758.8 1434.0,757.5 1435.0,759.5 1436.0,752.7 1437.0,753.8 1438.0,753.6 1439.0,754.4 1440.0,756.1 1441.0,755.6 1442.0,755.3 1443.0,754.9 1444.0,755.3 1445.0,755.5 1446.0,754.2 1447.0,759.2 1448.0,753.6 1449.0,754.4 1450.0,754.2 1451.0,758.0 1452.0,758.5 1453.0,757.8 1454.0,758.0 1455.0,760.1 1456.0,757.5 1457.0,756.0 1458.0,753.7 1459.0,753.1 1460.0,753.3 1461.0,748.9 1462.0,744.7 1463.0,750.9 1464.0,748.7 1465.0,750.3 1466.0,755.0 1467.0,755.2 1468.0,754.5 1469.0,757.3 1470.0,758.7 1471.0,759.0 1472.0,758.1 1473.0,756.7 1474.0,755.3 1475.0,751.6 1476.0,755.0 1477.0,755.6 1478.0,754.8 1479.0,753.1 1480.0,754.4 1481.0,750.3 1482.0,754.2 1483.0,753.8 1484.0,752.4 1485.0,751.0 1486.0,751.7 1487.0,754.0 1488.0,752.3 1489.0,753.5 1490.0,753.2 1491.0,751.8 1492.0,751.0 1493.0,748.8 1494.0,749.0 1495.0,752.5 1496.0,752.3 1497.0,751.8 1498.0,754.1 1499.0,756.8 1500.0,755.6 1501.0,751.5 1502.0,750.4 1503.0,754.7 1504.0,750.1 1505.0,750.0 1506.0,748.4 1507.0,752.0 1508.0,753.8 1509.0,751.6 1510.0,752.3 1511.0,750.5 1512.0,750.0 1513.0,754.0 1514.0,754.1 1515.0,749.2 1516.0,755.8 1517.0,749.3 1518.0,754.3 1519.0,757.1 1520.0,753.7 1521.0,751.8 1522.0,755.1 1523.0,754.6 1524.0,755.8 1525.0,760.2 1526.0,758.2 1527.0,759.3 1528.0,760.0 1529.0,758.7 1530.0,758.1 1531.0,759.7 1532.0,760.4 1533.0,762.9 1534.0,763.2 1535.0,758.6 1536.0,759.7 1537.0,754.5 1538.0,757.8 1539.0,757.1 1540.0,757.7 1541.0,758.2 1542.0,757.4 1543.0,757.0 1544.0,758.3 1545.0,754.6 1546.0,757.6 1547.0,757.9 1548.0,755.6 1549.0,761.4 1550.0,760.3 1551.0,758.1 1552.0,761.1 1553.0,762.6 1554.0,755.5 1555.0,758.0 1556.0,758.6 1557.0,757.9 1558.0,755.5 1559.0,753.6 1560.0,753.0 1561.0,759.5 1562.0,757.7 1563.0,756.3 1564.0,756.3 1565.0,758.7 1566.0,760.8 1567.0,759.9 1568.0,756.9 1569.0,760.5 1570.0,759.9 1571.0,756.2 1572.0,755.5 1573.0,759.1 1574.0,756.0 1575.0,757.5 1576.0,757.4 1577.0,761.5 1578.0,762.7 1579.0,764.5 1580.0,760.8 1581.0,763.7 1582.0,760.8 1583.0,766.2 1584.0,761.2 1585.0,758.7 1586.0,756.9 1587.0,758.3 1588.0,755.8 1589.0,754.4 1590.0,753.9 1591.0,752.4 1592.0,755.7 1593.0,751.3 1594.0,753.9 1595.0,754.5 1596.0,751.2 1597.0,749.2 1598.0,752.8 1599.0,752.0 1600.0,753.6 1601.0,750.0 1602.0,749.7 1603.0,754.1 1604.0,749.2 1605.0,747.9 1606.0,750.2 1607.0,750.2 1608.0,747.6 1609.0,749.3 1610.0,748.5 1611.0,752.5 1612.0,749.7 1613.0,753.7 1614.0,754.2 1615.0,755.1 1616.0,756.3 1617.0,757.8 1618.0,759.7 1619.0,759.7 1620.0,756.1 1621.0,761.8 1622.0,757.9 1623.0,758.4 1624.0,756.6 1625.0,755.3 1626.0,754.1 1627.0,749.6 1628.0,751.0 1629.0,748.0 1630.0,746.1 1631.0,750.3 1632.0,748.5 1633.0,754.2 1634.0,750.4 1635.0,753.0 1636.0,756.6 1637.0,754.4 1638.0,754.6 1639.0,749.2 1640.0,752.8 1641.0,751.0 1642.0,753.1 1643.0,750.0 1644.0,751.5 1645.0,756.2 1646.0,756.4 1647.0,757.6 1648.0,759.8 1649.0,756.3 1650.0,756.1 1651.0,757.6 1652.0,761.3 1653.0,758.7 1654.0,760.1 1655.0,755.7 1656.0,753.6 1657.0,756.8 1658.0,752.7 1659.0,748.2 1660.0,747.9 1661.0,749.9 1662.0,749.4 1663.0,752.1 1664.0,754.4 1665.0,754.4 1666.0,755.4 1667.0,755.2 1668.0,755.4 1669.0,755.7 1670.0,757.2 1671.0,754.2 1672.0,750.0 1673.0,752.7 1674.0,752.5 1675.0,757.1 1676.0,754.0 1677.0,754.2 1678.0,753.5 1679.0,753.2 1680.0,752.0 1681.0,750.0 1682.0,749.8 1683.0,748.2 1684.0,752.8 1685.0,753.5 1686.0,750.6 1687.0,750.9 1688.0,752.0 1689.0,753.3 1690.0,750.9 1691.0,757.8 1692.0,755.1 1693.0,758.8 1694.0,754.6 1695.0,759.0 1696.0,757.9 1697.0,761.9 1698.0,759.3 1699.0,760.3 1700.0,760.9 1701.0,755.3 1702.0,754.5 1703.0,753.8 1704.0,752.4 1705.0,752.9 1706.0,751.5 1707.0,750.1 1708.0,753.3 1709.0,752.2 1710.0,751.0 1711.0,750.8 1712.0,755.2 1713.0,752.9 1714.0,752.2 1715.0,751.3 1716.0,750.6 1717.0,753.9 1718.0,751.2 1719.0,751.2 1720.0,753.7 1721.0,756.4 1722.0,757.1 1723.0,756.1 1724.0,757.1 1725.0,755.1 1726.0,753.3 1727.0,753.2 1728.0,753.7 1729.0,751.8 1730.0,751.4 1731.0,750.1 1732.0,750.0 1733.0,751.4 1734.0,753.2 1735.0,756.6 1736.0,752.7 1737.0,759.7 1738.0,760.4 1739.0,755.6 1740.0,760.2 1741.0,758.2 1742.0,759.6 1743.0,762.0 1744.0,759.8 1745.0,758.6 1746.0,756.4 1747.0,758.4 1748.0,758.6 1749.0,751.1 1750.0,754.5 1751.0,751.8 1752.0,752.4 1753.0,748.1 1754.0,754.4 1755.0,753.0 1756.0,755.2 1757.0,756.8 1758.0,757.8 1759.0,755.2 1760.0,757.4 1761.0,758.5 1762.0,754.2 1763.0,756.9 1764.0,756.5 1765.0,760.1 1766.0,758.9 1767.0,758.4 1768.0,754.2 1769.0,755.4 1770.0,753.1 1771.0,753.9 1772.0,753.6 1773.0,750.5 1774.0,751.7 1775.0,749.7 1776.0,754.9 1777.0,752.2 1778.0,756.3 1779.0,756.7 1780.0,756.9 1781.0,754.4 1782.0,753.2 1783.0,758.1 1784.0,756.5 1785.0,755.4 1786.0,757.6 1787.0,757.4 1788.0,755.6 1789.0,753.5 1790.0,754.9 1791.0,755.2 1792.0,753.8 1793.0,756.5 1794.0,754.0 1795.0,757.9 1796.0,758.9 1797.0,754.7 1798.0,754.4 1799.0,755.2 1800.0,753.6 1801.0,748.0 1802.0,747.2 1803.0,749.1 1804.0,744.7 1805.0,751.8 1806.0,751.6 1807.0,753.1 1808.0,757.1 1809.0,756.0 1810.0,753.0 1811.0,755.0 1812.0,754.7 1813.0,755.5 1814.0,756.1 1815.0,757.3 1816.0,760.7 1817.0,755.1 1818.0,752.4 1819.0,748.5 1820.0,752.8 1821.0,748.9 1822.0,749.3 1823.0,749.0 1824.0,748.3 1825.0,749.8 1826.0,751.9 1827.0,753.0 1828.0,753.2 1829.0,752.2 1830.0,754.1 1831.0,754.8 1832.0,751.8 1833.0,752.4 1834.0,752.5 1835.0,755.9 1836.0,755.6 1837.0,754.1 1838.0,753.9 1839.0,754.5 1840.0,754.5 1841.0,759.4 1842.0,755.2 1843.0,754.3 1844.0,757.1 1845.0,756.8 1846.0,753.9 1847.0,756.0 1848.0,760.0 1849.0,762.6 1850.0,760.8 1851.0,764.4 1852.0,767.6 1853.0,763.5 1854.0,764.8 1855.0,763.4 1856.0,760.4 1857.0,761.8 1858.0,763.0 1859.0,761.4 1860.0,759.2 1861.0,762.3 1862.0,761.1 1863.0,759.6 1864.0,756.3 1865.0,758.6 1866.0,758.8 1867.0,756.6 1868.0,758.0 1869.0,758.9 1870.0,759.2 1871.0,751.4 1872.0,755.7 1873.0,754.0 1874.0,757.6 1875.0,759.5 1876.0,754.5 1877.0,754.0 1878.0,758.7 1879.0,757.5 1880.0,757.9 1881.0,760.4 1882.0,754.9 1883.0,756.0 1884.0,758.1 1885.0,752.8 1886.0,755.8 1887.0,754.2 1888.0,753.3 1889.0,753.9 1890.0,757.4 1891.0,752.8 1892.0,749.9 1893.0,752.4 1894.0,748.2 1895.0,753.2 1896.0,751.3 1897.0,751.8 1898.0,758.7 1899.0,752.6 1900.0,758.8 1901.0,756.1 1902.0,758.3 1903.0,755.8 1904.0,760.5 1905.0,760.5 1906.0,755.3 1907.0,755.3"/>
<polyline fill="none" stroke="#0000FF" stroke-width="11" stroke-linejoin="round" stroke-dasharray="38.5 8 20 8" stroke-linecap="butt" points="221.0,256.0 221.6,258.8 222.2,261.6 222.8,264.4 223.4,267.2 224.0,270.0 224.5,272.9 225.0,275.7 225.5,278.6 225.9,281.4 226.4,284.3 226.9,287.1 227.4,290.0 227.8,293.0 228.2,296.0 228.5,299.0 228.9,302.0 229.3,305.0 229.7,308.0 230.0,311.0 230.4,314.0 230.6,317.2 230.8,320.3 230.9,323.5 231.1,326.7 231.3,329.8 231.5,333.0 231.7,336.2 231.9,339.3 232.1,342.5 232.2,345.7 232.4,348.8 232.6,352.0 232.8,355.1 232.9,358.2 233.1,361.2 233.2,364.3 233.4,367.4 233.6,370.5 233.7,373.6 233.9,376.7 234.0,379.8 234.2,382.8 234.3,385.9 234.5,389.0 234.6,392.0 234.7,395.0 234.8,398.0 234.9,401.0 235.1,404.0 235.2,407.0 235.3,410.0 235.4,413.0 235.5,416.0 235.7,419.0 235.9,422.0 236.1,425.0 236.3,428.0 236.5,431.0 236.7,434.0 236.8,437.0 237.0,440.0 237.2,443.0 237.4,446.0 237.6,449.0 237.8,452.0 238.0,455.0 238.2,458.0 238.4,460.9 238.5,463.8 238.7,466.8 238.9,469.7 239.0,472.6 239.2,475.5 239.4,478.5 239.6,481.4 239.7,484.3 239.9,487.2 240.1,490.2 240.2,493.1 240.4,496.0 240.5,499.1 240.7,502.2 240.8,505.3 240.9,508.4 241.0,511.5 241.2,514.5 241.3,517.6 241.4,520.7 241.5,523.8 241.7,526.9 241.8,530.0 241.9,533.0 241.9,536.1 242.0,539.1 242.1,542.2 242.2,545.2 242.2,548.3 242.3,551.3 242.4,554.3 242.5,557.4 242.5,560.4 242.6,563.5 242.7,566.5 242.8,569.6 242.8,572.6 242.9,575.7 243.0,578.7 243.1,581.7 243.1,584.8 243.2,587.8 243.3,590.9 243.4,593.9 243.4,597.0 243.5,600.0 243.7,603.0 243.8,606.0 244.0,609.0 244.2,612.0 244.4,615.0 244.6,618.0 244.7,621.0 244.9,624.0 245.1,627.0 245.2,630.0 245.4,633.0 245.6,636.0 245.8,639.0 245.9,642.0 246.1,645.0 246.3,648.0 246.5,651.0 246.7,654.0 246.8,657.0 247.0,660.0 247.1,663.0 247.3,665.9 247.4,668.9 247.6,671.8 247.7,674.8 247.9,677.7 248.0,680.7 248.1,683.6 248.3,686.6 248.4,689.5 248.6,692.5 248.7,695.4 248.9,698.4 249.0,701.3 249.1,704.3 249.3,707.2 249.4,710.2 249.6,713.1 249.7,716.1 249.9,719.0 250.0,722.0 250.2,725.0 250.3,728.1 250.5,731.1 250.7,734.1 250.8,737.2 251.0,740.2 251.2,743.2 251.3,746.3 251.5,749.3 251.7,752.3 251.8,755.4 252.0,758.4 252.2,761.4 252.3,764.5 252.5,767.5 252.7,770.5 252.8,773.6 253.0,776.6 253.2,779.6 253.3,782.7 253.5,785.7 253.7,788.7 253.9,791.6 254.2,794.6 254.4,797.5 254.6,800.5 254.8,803.4 255.0,806.4 255.2,809.4 255.5,812.3 255.7,815.3 255.9,818.2 256.1,821.2 256.3,824.1 256.6,827.1 256.8,830.0 257.0,833.0 257.5,836.1 258.0,839.2 258.5,842.4 259.0,845.5 259.5,848.6 260.0,851.8 260.5,854.9 261.0,858.0 263.5,860.5 266.0,863.0 267.0,862.2 268.0,863.3 269.0,858.5 270.0,863.5 271.0,863.7 272.0,858.2 273.0,863.8 274.0,857.3 275.0,861.5 276.0,857.9 277.0,854.1 278.0,858.1 279.0,856.7 280.0,856.6 281.0,859.6 282.0,856.6 283.0,859.4 284.0,856.7 285.0,857.3 286.0,857.9 287.0,865.1 288.0,865.1 289.0,859.1 290.0,863.2 291.0,862.4 292.0,860.1 293.0,860.7 294.0,866.3 295.0,861.3 296.0,864.1 297.0,859.0 298.0,859.8 299.0,861.1 300.0,861.9 301.0,860.8 302.0,860.6 303.0,866.8 304.0,859.0 305.0,863.9 306.0,863.4 307.0,862.7 308.0,866.6 309.0,861.8 310.0,864.8 311.0,865.0 312.0,863.2 313.0,864.4 314.0,860.9 315.0,864.8 316.0,862.3 317.0,859.4 318.0,864.1 319.0,858.8 320.0,858.2 321.0,863.3 322.0,860.7 323.0,860.6 324.0,857.7 325.0,858.0 326.0,856.6 327.0,862.9 328.0,861.2 329.0,864.6 330.0,858.9 331.0,862.7 332.0,868.3 333.0,862.4 334.0,860.2 335.0,864.2 336.0,863.9 337.0,863.0 338.0,859.2 339.0,865.2 340.0,864.8 341.0,867.5 342.0,866.3 343.0,867.8 344.0,864.6 345.0,864.3 346.0,859.4 347.0,862.0 348.0,862.2 349.0,860.7 350.0,864.7 351.0,862.4 352.0,863.3 353.0,862.3 354.0,860.3 355.0,864.0 356.0,865.7 357.0,868.7 358.0,862.4 359.0,863.8 360.0,868.6 361.0,867.2 362.0,864.6 363.0,864.1 364.0,867.4 365.0,865.5 366.0,864.3 367.0,866.0 368.0,864.7 369.0,863.0 370.0,860.8 371.0,861.0 372.0,866.1 373.0,858.6 374.0,861.5 375.0,858.9 376.0,860.6 377.0,867.9 378.0,861.3 379.0,863.1 380.0,864.4 381.0,862.8 382.0,860.9 383.0,858.9 384.0,859.5 385.0,864.1 386.0,865.8 387.0,864.6 388.0,857.7 389.0,865.1 390.0,863.6 391.0,865.2 392.0,864.9 393.0,865.0 394.0,865.8 395.0,865.5 396.0,865.9 397.0,867.1 398.0,866.9 399.0,864.0 400.0,864.9 401.0,868.7 402.0,864.0 403.0,865.4 404.0,864.6 405.0,865.0 406.0,861.7 407.0,861.2 408.0,862.8 409.0,863.1 410.0,862.9 411.0,856.3 412.0,862.1 413.0,861.1 414.0,862.2 415.0,864.7 416.0,863.0 417.0,860.5 418.0,856.7 419.0,864.2 420.0,863.1 421.0,860.4 422.0,864.4 423.0,861.7 424.0,862.0 425.0,864.8 426.0,864.9 427.0,862.9 428.0,865.7 429.0,860.6 430.0,861.0 431.0,863.4 432.0,865.7 433.0,864.0 434.0,865.6 435.0,862.0 436.0,865.4 437.0,865.7 438.0,867.5 439.0,868.7 440.0,866.3 441.0,868.2 442.0,864.9 443.0,865.7 444.0,863.2 445.0,864.3 446.0,862.5 447.0,860.9 448.0,863.1 449.0,860.7 450.0,860.5 451.0,862.0 452.0,862.2 453.0,861.6 454.0,860.8 455.0,860.9 456.0,864.3 457.0,864.3 458.0,865.4 459.0,863.4 460.0,862.0 461.0,865.4 462.0,862.6 463.0,862.8 464.0,867.5 465.0,869.1 466.0,868.9 467.0,864.8 468.0,865.6 469.0,864.7 470.0,862.8 471.0,866.5 472.0,865.3 473.0,870.3 474.0,863.5 475.0,867.6 476.0,863.8 477.0,866.5 478.0,867.0 479.0,864.9 480.0,864.0 481.0,864.4 482.0,866.7 483.0,863.6 484.0,866.8 485.0,864.6 486.0,864.6 487.0,864.5 488.0,862.1 489.0,861.9 490.0,862.6 491.0,860.0 492.0,864.5 493.0,863.4 494.0,861.5 495.0,854.9 496.0,859.5 497.0,857.6 498.0,861.0 499.0,861.2 500.0,857.6 501.0,860.8 502.0,862.6 503.0,859.6 504.0,859.7 505.0,855.3 506.0,856.4 507.0,854.6 508.0,855.7 509.0,858.0 510.0,855.6 511.0,852.8 512.0,855.0 513.0,857.9 514.0,861.3 515.0,860.9 516.0,861.1 517.0,863.4 518.0,860.2 519.0,858.6 520.0,857.7 521.0,858.5 522.0,860.6 523.0,855.7 524.0,859.2 525.0,860.7 526.0,863.3 527.0,861.2 528.0,862.6 529.0,865.0 530.0,862.6 531.0,858.5 532.0,861.3 533.0,859.4 534.0,856.6 535.0,852.3 536.0,859.6 537.0,855.7 538.0,857.1 539.0,857.4 540.0,862.0 541.0,858.0 542.0,855.7 543.0,859.4 544.0,856.8 545.0,860.9 546.0,856.5 547.0,855.0 548.0,857.2 549.0,857.6 550.0,857.3 551.0,858.8 552.0,860.9 553.0,861.2 554.0,859.0 555.0,859.2 556.0,860.6 557.0,862.7 558.0,860.5 559.0,860.3 560.0,860.4 561.0,864.6 562.0,863.1 563.0,862.0 564.0,866.1 565.0,865.0 566.0,864.7 567.0,867.5 568.0,870.1 569.0,865.7 570.0,864.9 571.0,863.2 572.0,862.9 573.0,864.5 574.0,863.3 575.0,868.6 576.0,866.9 577.0,868.7 578.0,866.1 579.0,865.8 580.0,871.7 581.0,870.3 582.0,865.1 583.0,868.0 584.0,866.2 585.0,867.2 586.0,863.0 587.0,862.4 588.0,866.0 589.0,867.6 590.0,867.5 591.0,867.0 592.0,865.9 593.0,866.5 594.0,868.3 595.0,870.8 596.0,863.9 597.0,866.7 598.0,862.5 599.0,860.1 600.0,864.4 601.0,861.3 602.0,862.9 603.0,863.2 604.0,863.2 605.0,864.6 606.0,861.1 607.0,864.3 608.0,864.7 609.0,864.3 610.0,866.1 611.0,861.6 612.0,867.4 613.0,866.0 614.0,869.0 615.0,873.4 616.0,865.9 617.0,866.8 618.0,869.8 619.0,866.5 620.0,872.8 621.0,867.4 622.0,867.5 623.0,866.9 624.0,863.0 625.0,864.6 626.0,868.2 627.0,867.6 628.0,861.9 629.0,863.0 630.0,863.7 631.0,864.9 632.0,861.2 633.0,862.0 634.0,859.9 635.0,864.4 636.0,862.2 637.0,862.2 638.0,866.3 639.0,862.2 640.0,860.6 641.0,855.4 642.0,860.9 643.0,861.4 644.0,861.2 645.0,860.0 646.0,860.3 647.0,860.2 648.0,862.3 649.0,863.0 650.0,861.8 651.0,863.1 652.0,865.3 653.0,864.3 654.0,867.0 655.0,859.2 656.0,862.0 657.0,862.7 658.0,860.1 659.0,860.4 660.0,855.6 661.0,856.0 662.0,860.3 663.0,865.8 664.0,859.6 665.0,862.4 666.0,866.4 667.0,864.3 668.0,864.5 669.0,863.6 670.0,860.6 671.0,863.6 672.0,859.3 673.0,858.1 674.0,859.4 675.0,858.0 676.0,864.1 677.0,860.5 678.0,864.0 679.0,867.6 680.0,865.0 681.0,868.4 682.0,866.0 683.0,863.6 684.0,864.7 685.0,865.5 686.0,865.1 687.0,867.0 688.0,861.4 689.0,864.6 690.0,862.3 691.0,869.3 692.0,864.8 693.0,862.9 694.0,867.0 695.0,863.4 696.0,865.0 697.0,864.2 698.0,858.6 699.0,865.6 700.0,863.1 701.0,861.6 702.0,865.3 703.0,865.9 704.0,869.2 705.0,862.5 706.0,866.7 707.0,867.2 708.0,868.4 709.0,864.9 710.0,864.7 711.0,866.0 712.0,867.4 713.0,868.4 714.0,864.7 715.0,868.8 716.0,866.8 717.0,866.1 718.0,861.7 719.0,862.5 720.0,860.2 721.0,863.5 722.0,858.8 723.0,861.6 724.0,862.5 725.0,863.3 726.0,864.6 727.0,863.5 728.0,861.5 729.0,866.3 730.0,866.6 731.0,863.0 732.0,862.3 733.0,861.8 734.0,863.5 735.0,865.1 736.0,863.5 737.0,863.2 738.0,865.1 739.0,863.2 740.0,862.7 741.0,864.5 742.0,861.4 743.0,864.7 744.0,863.5 745.0,862.8 746.0,860.4 747.0,861.6 748.0,859.6 749.0,862.3 750.0,866.1 751.0,865.1 752.0,864.7 753.0,861.1 754.0,862.1 755.0,863.8 756.0,864.4 757.0,865.7 759.7,863.0"/>
<polyline fill="none" stroke="#0000FF" stroke-width="11" stroke-linejoin="round" stroke-dasharray="38.5 8 20 8" stroke-linecap="butt" points="759.7,258.0 760.0,258.0 761.1,261.0 762.2,264.0 763.4,267.0 764.5,270.0 764.8,273.1 765.0,276.3 765.3,279.4 765.6,282.6 765.9,285.7 766.1,288.9 766.4,292.0 766.6,294.9 766.8,297.8 767.0,300.7 767.2,303.6 767.3,306.4 767.5,309.3 767.7,312.2 767.9,315.1 768.1,318.0 768.3,321.2 768.6,324.3 768.8,327.5 769.0,330.7 769.3,333.8 769.5,337.0 769.7,339.9 769.8,342.8 770.0,345.8 770.1,348.7 770.3,351.6 770.5,354.5 770.6,357.4 770.8,360.3 770.9,363.2 771.1,366.2 771.2,369.1 771.4,372.0 771.5,375.2 771.7,378.3 771.8,381.5 772.0,384.7 772.1,387.8 772.3,391.0 772.5,393.9 772.6,396.7 772.8,399.6 773.0,402.4 773.2,405.3 773.3,408.1 773.5,411.0 773.7,414.0 773.8,417.0 774.0,420.0 774.1,423.0 774.3,426.0 774.5,429.0 774.6,432.0 774.8,435.0 774.9,438.0 775.1,441.0 775.2,444.0 775.4,447.0 775.6,450.0 775.8,453.0 776.0,456.0 776.1,459.0 776.3,462.0 776.5,465.0 776.6,468.0 776.7,471.0 776.8,474.0 776.9,477.0 777.0,480.0 777.1,483.0 777.2,486.0 777.3,489.0 777.4,492.0 777.5,495.0 777.6,497.9 777.7,500.8 777.8,503.7 777.9,506.6 778.0,509.4 778.1,512.3 778.2,515.2 778.3,518.1 778.4,521.0 778.6,524.0 778.8,527.0 779.0,530.0 779.1,533.0 779.3,536.0 779.5,539.0 779.6,541.9 779.7,544.9 779.8,547.8 779.9,550.7 780.0,553.6 780.1,556.6 780.2,559.5 780.4,562.4 780.5,565.4 780.6,568.3 780.7,571.2 780.8,574.1 780.9,577.1 781.0,580.0 781.1,583.1 781.2,586.1 781.4,589.2 781.5,592.2 781.6,595.3 781.8,598.4 781.9,601.4 782.0,604.5 782.1,607.6 782.2,610.6 782.4,613.7 782.5,616.8 782.6,619.8 782.8,622.9 782.9,625.9 783.0,629.0 783.1,632.0 783.2,635.1 783.4,638.1 783.5,641.1 783.6,644.2 783.7,647.2 783.8,650.2 783.9,653.3 784.0,656.3 784.2,659.3 784.3,662.4 784.4,665.4 784.5,668.4 784.6,671.5 784.8,674.5 784.9,677.5 785.0,680.6 785.1,683.6 785.2,686.6 785.3,689.7 785.5,692.7 785.6,695.7 785.7,698.8 785.8,701.8 785.9,704.8 786.0,707.9 786.1,710.9 786.3,713.9 786.4,717.0 786.5,720.0 786.6,723.0 786.8,725.9 786.9,728.9 787.0,731.9 787.1,734.8 787.3,737.8 787.4,740.7 787.5,743.7 787.7,746.7 787.8,749.6 787.9,752.6 788.1,755.6 788.2,758.5 788.3,761.5 788.4,764.4 788.6,767.4 788.7,770.4 788.8,773.3 789.0,776.3 789.1,779.3 789.2,782.2 789.4,785.2 789.5,788.1 789.6,791.1 789.7,794.1 789.9,797.0 790.0,800.0 790.3,803.0 790.5,806.0 790.8,809.0 791.1,812.0 791.3,815.0 791.6,818.0 791.9,821.0 792.1,824.0 792.4,827.0 792.7,830.0 792.9,833.0 793.2,836.0 793.5,839.0 793.7,842.0 794.0,845.0 794.8,847.6 795.6,850.2 796.4,852.8 797.2,855.4 798.0,858.0 800.5,860.5 803.0,863.0 804.0,866.0 805.0,866.0 806.0,861.2 807.0,863.2 808.0,867.4 809.0,865.8 810.0,864.4 811.0,862.4 812.0,865.3 813.0,861.9 814.0,863.4 815.0,864.9 816.0,861.1 817.0,865.6 818.0,864.4 819.0,864.5 820.0,866.5 821.0,866.2 822.0,866.0 823.0,865.3 824.0,864.8 825.0,864.1 826.0,867.4 827.0,864.1 828.0,865.6 829.0,862.7 830.0,860.3 831.0,863.3 832.0,867.1 833.0,867.0 834.0,863.9 835.0,863.9 836.0,867.9 837.0,868.6 838.0,867.3 839.0,865.6 840.0,863.5 841.0,865.3 842.0,865.4 843.0,862.0 844.0,866.8 845.0,866.2 846.0,864.4 847.0,862.2 848.0,860.8 849.0,859.8 850.0,866.7 851.0,860.1 852.0,864.6 853.0,866.8 854.0,861.5 855.0,861.5 856.0,865.5 857.0,863.1 858.0,860.2 859.0,864.2 860.0,859.4 861.0,863.3 862.0,863.7 863.0,862.1 864.0,866.5 865.0,867.8 866.0,863.2 867.0,861.8 868.0,862.6 869.0,861.2 870.0,861.6 871.0,860.4 872.0,860.5 873.0,866.2 874.0,861.8 875.0,863.2 876.0,862.3 877.0,867.1 878.0,860.2 879.0,862.7 880.0,863.1 881.0,866.0 882.0,861.5 883.0,862.8 884.0,858.7 885.0,862.3 886.0,861.7 887.0,858.6 888.0,863.7 889.0,863.7 890.0,864.7 891.0,864.3 892.0,865.6 893.0,862.9 894.0,860.1 895.0,864.4 896.0,860.8 897.0,860.8 898.0,860.3 899.0,859.0 900.0,859.7 901.0,860.1 902.0,857.4 903.0,857.4 904.0,862.7 905.0,859.8 906.0,860.5 907.0,857.7 908.0,861.4 909.0,861.1 910.0,860.2 911.0,866.3 912.0,865.6 913.0,862.5 914.0,866.3 915.0,864.5 916.0,868.4 917.0,867.0 918.0,871.0 919.0,865.7 920.0,867.2 921.0,863.5 922.0,861.8 923.0,862.6 924.0,860.4 925.0,858.9 926.0,856.4 927.0,860.1 928.0,859.3 929.0,862.1 930.0,858.8 931.0,860.7 932.0,858.7 933.0,861.9 934.0,862.7 935.0,861.1 936.0,862.7 937.0,864.0 938.0,863.2 939.0,860.2 940.0,860.0 941.0,857.7 942.0,856.3 943.0,856.3 944.0,857.7 945.0,857.7 946.0,854.5 947.0,858.8 948.0,857.0 949.0,860.2 950.0,861.5 951.0,860.5 952.0,858.1 953.0,858.5 954.0,858.8 955.0,857.5 956.0,860.2 957.0,860.6 958.0,858.2 959.0,860.5 960.0,863.5 961.0,864.8 962.0,868.6 963.0,862.6 964.0,862.8 965.0,862.8 966.0,863.3 967.0,861.0 968.0,858.2 969.0,860.2 970.0,862.9 971.0,869.3 972.0,863.4 973.0,862.2 974.0,862.1 975.0,865.5 976.0,860.7 977.0,864.7 978.0,866.9 979.0,865.3 980.0,871.5 981.0,866.9 982.0,866.3 983.0,861.8 984.0,861.2 985.0,862.2 986.0,860.7 987.0,855.9 988.0,865.2 989.0,859.4 990.0,862.1 991.0,859.6 992.0,861.6 993.0,859.5 994.0,861.1 995.0,860.2 996.0,865.3 997.0,864.6 998.0,862.8 999.0,862.7 1000.0,866.6 1001.0,865.2 1002.0,865.3 1003.0,866.4 1004.0,863.9 1005.0,866.6 1006.0,862.1 1007.0,865.9 1008.0,866.8 1009.0,860.5 1010.0,860.6 1011.0,864.8 1012.0,861.4 1013.0,858.3 1014.0,860.0 1015.0,859.8 1016.0,855.7 1017.0,859.3 1018.0,860.6 1019.0,859.4 1020.0,857.0 1021.0,860.2 1022.0,858.6 1023.0,862.7 1024.0,858.1 1025.0,865.4 1026.0,863.5 1027.0,865.2 1028.0,864.0 1029.0,865.2 1030.0,870.2 1031.0,863.7 1032.0,868.7 1033.0,865.3 1034.0,862.3 1035.0,867.6 1036.0,864.6 1037.0,869.0 1038.0,869.0 1039.0,864.8 1040.0,866.9 1041.0,865.0 1042.0,865.7 1043.0,864.5 1044.0,863.2 1045.0,864.5 1046.0,866.2 1047.0,868.3 1048.0,872.9 1049.0,868.9 1050.0,867.8 1051.0,869.6 1052.0,868.8 1053.0,867.4 1054.0,865.0 1055.0,863.4 1056.0,864.2 1057.0,864.1 1058.0,863.7 1059.0,867.3 1060.0,865.9 1061.0,865.3 1062.0,864.7 1063.0,867.8 1064.0,864.5 1065.0,865.7 1066.0,864.9 1067.0,866.4 1068.0,867.9 1069.0,866.8 1070.0,865.5 1071.0,867.7 1072.0,866.8 1073.0,859.7 1074.0,863.1 1075.0,866.3 1076.0,861.9 1077.0,861.9 1078.0,865.6 1079.0,862.3 1080.0,864.2 1081.0,860.0 1082.0,863.4 1083.0,864.1 1084.0,863.1 1085.0,864.1 1086.0,865.9 1087.0,867.3 1088.0,866.7 1089.0,860.4 1090.0,862.9 1091.0,863.2 1092.0,862.5 1093.0,861.9 1094.0,863.6 1095.0,864.9 1096.0,859.3 1097.0,860.4 1098.0,864.2 1099.0,859.3 1100.0,858.7 1101.0,859.2 1102.0,860.6 1103.0,856.9 1104.0,864.2 1105.0,859.9 1106.0,864.3 1107.0,865.5 1108.0,866.5 1109.0,860.8 1110.0,868.0 1111.0,865.1 1112.0,863.2 1113.0,864.9 1114.0,863.0 1115.0,860.8 1116.0,865.0 1117.0,860.5 1118.0,861.3 1119.0,862.9 1120.0,861.3 1121.0,859.8 1122.0,858.9 1123.0,857.1 1124.0,862.1 1125.0,859.4 1126.0,863.7 1127.0,858.9 1128.0,859.8 1129.0,862.0 1130.0,862.4 1131.0,861.2 1132.0,864.5 1133.0,858.6 1134.0,858.8 1135.0,859.3 1136.0,862.1 1137.0,862.2 1138.0,866.7 1139.0,862.0 1140.0,866.7 1141.0,864.8 1142.0,864.3 1143.0,867.3 1144.0,863.9 1145.0,869.3 1146.0,869.0 1147.0,867.8 1148.0,864.8 1149.0,868.0 1150.0,865.8 1151.0,868.9 1152.0,864.5 1153.0,870.7 1154.0,867.4 1155.0,862.7 1156.0,871.4 1157.0,868.2 1158.0,867.4 1159.0,867.4 1160.0,864.9 1161.0,869.7 1162.0,862.1 1163.0,864.4 1164.0,863.9 1165.0,865.4 1166.0,866.6 1167.0,865.2 1168.0,866.9 1169.0,865.0 1170.0,867.3 1171.0,871.5 1172.0,864.0 1173.0,871.5 1174.0,868.0 1175.0,866.1 1176.0,862.6 1177.0,865.9 1178.0,866.7 1179.0,867.4 1180.0,867.1 1181.0,865.4 1182.0,866.2 1183.0,866.4 1184.0,865.3 1185.0,870.5 1186.0,864.2 1187.0,864.0 1188.0,863.4 1189.0,868.1 1190.0,866.6 1191.0,864.4 1192.0,866.5 1193.0,861.9 1194.0,867.2 1195.0,865.1 1196.0,860.5 1197.0,864.7 1198.0,864.5 1199.0,864.3 1200.0,864.6 1201.0,866.9 1202.0,861.3 1203.0,863.8 1204.0,865.4 1205.0,860.3 1206.0,864.5 1207.0,861.9 1208.0,861.3 1209.0,868.3 1210.0,865.3 1211.0,864.0 1212.0,866.8 1213.0,864.8 1214.0,865.0 1215.0,864.5 1216.0,864.2 1217.0,863.0 1218.0,865.2 1219.0,863.3 1220.0,864.9 1221.0,865.9 1222.0,863.4 1223.0,864.5 1224.0,860.9 1225.0,859.4 1226.0,867.2 1227.0,865.6 1228.0,866.8 1229.0,862.1 1230.0,865.5 1231.0,863.6 1232.0,861.7 1233.0,860.8 1234.0,865.1 1235.0,863.0 1236.0,860.6 1237.0,865.5 1238.0,862.7 1239.0,862.6 1240.0,856.3 1241.0,860.9 1242.0,859.4 1243.0,861.4 1244.0,860.3 1245.0,860.8 1246.0,858.7 1247.0,860.1 1248.0,860.9 1249.0,861.1 1250.0,859.3 1251.0,861.3 1252.0,863.0 1253.0,862.4 1254.0,868.5 1255.0,869.4 1256.0,868.1 1257.0,869.8 1258.0,865.1 1259.0,864.0 1260.0,861.4 1261.0,863.4 1262.0,861.1 1263.0,858.8 1264.0,862.0 1265.0,862.1 1266.0,859.4 1267.0,859.6 1268.0,867.7 1269.0,860.9 1270.0,863.3 1271.0,866.1 1272.0,865.8 1273.0,865.6 1274.0,870.2 1275.0,867.6 1276.0,872.6 1277.0,868.0 1278.0,867.0 1279.0,866.2 1280.0,867.0 1281.0,867.0 1282.0,867.7 1283.0,868.3 1284.0,869.4 1285.0,867.3 1286.0,867.1 1287.0,870.1 1288.0,868.3 1289.0,867.4 1290.0,866.3 1291.0,866.5 1292.0,863.6 1293.0,864.4 1294.0,865.3 1295.0,864.1 1296.0,861.7 1297.0,861.6 1299.8,863.0"/>
<polyline fill="none" stroke="#0000FF" stroke-width="11" stroke-linejoin="round" stroke-dasharray="38.5 8 20 8" stroke-linecap="butt" points="1299.8,258.0 1300.0,258.0 1302.8,259.2 1305.7,260.4 1308.6,261.7 1311.4,262.9 1312.2,265.8 1313.0,268.7 1313.7,271.7 1314.5,274.6 1315.3,277.5 1316.1,280.4 1316.9,283.3 1317.7,286.2 1318.4,289.2 1319.2,292.1 1320.0,295.0 1320.4,297.9 1320.8,300.8 1321.2,303.6 1321.6,306.5 1322.0,309.4 1322.4,312.2 1322.8,315.1 1323.2,318.0 1323.6,320.9 1324.0,323.8 1324.4,326.6 1324.8,329.5 1325.3,332.5 1325.8,335.5 1326.2,338.6 1326.7,341.6 1327.2,344.6 1327.7,347.6 1328.1,350.6 1328.6,353.6 1329.1,356.6 1329.5,359.7 1330.0,362.7 1330.5,365.7 1330.9,368.6 1331.4,371.6 1331.8,374.5 1332.3,377.4 1332.7,380.4 1333.1,383.3 1333.6,386.2 1334.0,389.1 1334.4,392.1 1334.9,395.0 1335.3,397.9 1335.8,400.9 1336.2,403.8 1336.6,406.8 1337.0,409.8 1337.4,412.9 1337.8,415.9 1338.2,418.9 1338.6,421.9 1339.0,424.9 1339.4,427.9 1339.8,430.9 1340.2,434.0 1340.6,437.0 1341.0,440.0 1341.4,443.0 1341.8,446.0 1342.2,449.0 1342.6,452.0 1343.0,455.0 1343.3,458.0 1343.7,461.0 1344.1,464.0 1344.5,467.0 1344.9,470.0 1345.3,473.0 1345.7,476.0 1346.0,479.0 1346.2,482.1 1346.5,485.1 1346.7,488.1 1347.0,491.1 1347.2,494.2 1347.5,497.2 1347.8,500.2 1348.0,503.3 1348.3,506.3 1348.5,509.3 1348.8,512.3 1349.0,515.4 1349.3,518.4 1349.6,521.4 1349.8,524.5 1350.1,527.5 1350.3,530.5 1350.6,533.5 1350.8,536.6 1351.1,539.6 1351.4,542.6 1351.6,545.7 1351.9,548.7 1352.1,551.7 1352.4,554.7 1352.6,557.8 1352.9,560.8 1353.2,563.8 1353.4,566.9 1353.7,569.9 1353.9,572.9 1354.2,575.9 1354.4,579.0 1354.7,582.0 1355.0,585.0 1355.3,587.9 1355.6,590.9 1355.9,593.9 1356.2,596.9 1356.5,599.8 1356.8,602.8 1357.1,605.8 1357.3,608.8 1357.6,611.7 1357.9,614.7 1358.2,617.7 1358.5,620.6 1358.8,623.6 1359.1,626.6 1359.4,629.6 1359.7,632.5 1360.0,635.5 1360.3,638.5 1360.6,641.4 1360.9,644.4 1361.2,647.4 1361.5,650.4 1361.8,653.3 1362.1,656.3 1362.4,659.3 1362.7,662.2 1362.9,665.2 1363.2,668.2 1363.5,671.2 1363.8,674.1 1364.1,677.1 1364.4,680.1 1364.7,683.1 1365.0,686.0 1365.3,689.0 1365.9,692.0 1366.4,695.0 1367.0,698.0 1367.5,701.0 1368.1,704.0 1368.7,707.0 1369.2,710.0 1369.8,713.0 1370.3,716.0 1370.9,719.0 1371.4,722.0 1372.0,725.0 1372.9,728.0 1373.8,731.0 1374.7,734.0 1375.6,737.0 1376.4,740.0 1377.3,743.0 1378.2,746.0 1379.1,749.0 1380.0,752.0 1381.7,754.5 1383.3,757.0 1385.0,759.5 1386.7,762.0 1388.3,764.5 1390.0,767.0 1392.0,769.2 1394.0,771.5 1396.0,773.8 1398.0,776.0 1400.4,777.4 1402.8,778.8 1405.2,780.2 1407.6,781.6 1410.0,783.0 1413.0,784.5 1416.0,786.0 1416.0,787.1 1417.0,787.2 1418.0,785.7 1419.0,786.8 1420.0,786.7 1421.0,787.3 1422.0,788.9 1423.0,791.3 1424.0,791.8 1425.0,790.4 1426.0,791.3 1427.0,793.2 1428.0,794.2 1429.0,791.5 1430.0,792.9 1431.0,791.8 1432.0,788.9 1433.0,790.8 1434.0,787.4 1435.0,788.3 1436.0,789.1 1437.0,784.2 1438.0,785.8 1439.0,784.5 1440.0,784.3 1441.0,784.7 1442.0,786.0 1443.0,788.2 1444.0,787.9 1445.0,790.4 1446.0,789.7 1447.0,788.1 1448.0,787.6 1449.0,787.1 1450.0,787.6 1451.0,787.1 1452.0,786.7 1453.0,787.4 1454.0,787.8 1455.0,784.8 1456.0,788.2 1457.0,787.7 1458.0,786.7 1459.0,786.4 1460.0,787.5 1461.0,783.7 1462.0,784.7 1463.0,787.4 1464.0,788.5 1465.0,788.5 1466.0,788.8 1467.0,786.8 1468.0,787.4 1469.0,789.5 1470.0,787.0 1471.0,788.8 1472.0,788.6 1473.0,787.6 1474.0,786.0 1475.0,784.5 1476.0,786.5 1477.0,786.7 1478.0,787.4 1479.0,788.0 1480.0,787.2 1481.0,788.3 1482.0,789.2 1483.0,789.2 1484.0,788.5 1485.0,789.3 1486.0,786.0 1487.0,786.1 1488.0,783.7 1489.0,782.5 1490.0,785.0 1491.0,784.4 1492.0,784.8 1493.0,783.3 1494.0,784.1 1495.0,784.5 1496.0,787.1 1497.0,786.7 1498.0,788.4 1499.0,785.9 1500.0,785.9 1501.0,786.3 1502.0,788.0 1503.0,786.7 1504.0,789.1 1505.0,787.0 1506.0,785.0 1507.0,790.0 1508.0,788.6 1509.0,787.2 1510.0,786.7 1511.0,784.8 1512.0,785.3 1513.0,785.8 1514.0,784.5 1515.0,783.8 1516.0,784.5 1517.0,784.8 1518.0,784.0 1519.0,782.1 1520.0,782.7 1521.0,785.8 1522.0,785.5 1523.0,787.6 1524.0,787.8 1525.0,786.3 1526.0,787.1 1527.0,788.6 1528.0,789.2 1529.0,789.0 1530.0,789.3 1531.0,788.8 1532.0,791.1 1533.0,788.9 1534.0,789.7 1535.0,791.0 1536.0,790.0 1537.0,789.6 1538.0,789.3 1539.0,787.7 1540.0,789.2 1541.0,787.9 1542.0,787.1 1543.0,788.4 1544.0,791.0 1545.0,788.0 1546.0,790.5 1547.0,787.9 1548.0,787.8 1549.0,785.5 1550.0,786.9 1551.0,787.2 1552.0,788.0 1553.0,786.1 1554.0,785.3 1555.0,790.5 1556.0,788.2 1557.0,790.5 1558.0,791.9 1559.0,794.4 1560.0,792.2 1561.0,792.1 1562.0,792.3 1563.0,793.6 1564.0,793.4 1565.0,791.5 1566.0,792.5 1567.0,793.2 1568.0,792.3 1569.0,793.2 1570.0,792.5 1571.0,790.7 1572.0,792.4 1573.0,790.7 1574.0,790.9 1575.0,788.7 1576.0,789.6 1577.0,786.8 1578.0,785.8 1579.0,788.3 1580.0,786.1 1581.0,790.5 1582.0,791.9 1583.0,790.6 1584.0,792.5 1585.0,791.7 1586.0,793.7 1587.0,791.9 1588.0,789.9 1589.0,792.5 1590.0,790.0 1591.0,793.1 1592.0,791.2 1593.0,788.5 1594.0,793.3 1595.0,790.6 1596.0,791.3 1597.0,789.9 1598.0,793.0 1599.0,788.2 1600.0,790.1 1601.0,791.7 1602.0,788.6 1603.0,787.8 1604.0,786.8 1605.0,788.0 1606.0,788.4 1607.0,788.3 1608.0,786.1 1609.0,788.5 1610.0,786.6 1611.0,787.5 1612.0,790.6 1613.0,787.4 1614.0,787.0 1615.0,789.0 1616.0,791.0 1617.0,788.1 1618.0,791.2 1619.0,792.2 1620.0,789.1 1621.0,789.4 1622.0,790.1 1623.0,788.9 1624.0,791.2 1625.0,789.7 1626.0,788.4 1627.0,789.1 1628.0,788.9 1629.0,789.2 1630.0,788.9 1631.0,789.4 1632.0,786.4 1633.0,789.5 1634.0,788.1 1635.0,788.7 1636.0,788.7 1637.0,786.5 1638.0,788.3 1639.0,785.5 1640.0,788.9 1641.0,784.7 1642.0,785.4 1643.0,786.7 1644.0,781.4 1645.0,784.0 1646.0,784.8 1647.0,785.3 1648.0,785.1 1649.0,786.8 1650.0,787.7 1651.0,786.0 1652.0,787.5 1653.0,789.0 1654.0,792.1 1655.0,788.5 1656.0,787.1 1657.0,790.1 1658.0,789.3 1659.0,785.3 1660.0,785.8 1661.0,784.6 1662.0,786.1 1663.0,786.6 1664.0,787.1 1665.0,786.9 1666.0,786.3 1667.0,786.8 1668.0,788.7 1669.0,789.0 1670.0,788.1 1671.0,788.2 1672.0,788.7 1673.0,786.7 1674.0,786.2 1675.0,785.5 1676.0,783.8 1677.0,786.1 1678.0,788.3 1679.0,786.3 1680.0,787.9 1681.0,786.5 1682.0,786.1 1683.0,785.1 1684.0,784.5 1685.0,785.1 1686.0,782.5 1687.0,784.6 1688.0,783.2 1689.0,782.7 1690.0,783.8 1691.0,783.0 1692.0,782.5 1693.0,783.2 1694.0,783.9 1695.0,783.6 1696.0,786.4 1697.0,786.2 1698.0,782.9 1699.0,785.9 1700.0,784.8 1701.0,785.5 1702.0,784.6 1703.0,784.4 1704.0,786.3 1705.0,784.9 1706.0,785.7 1707.0,787.7 1708.0,787.7 1709.0,786.1 1710.0,785.4 1711.0,787.4 1712.0,784.0 1713.0,785.7 1714.0,787.3 1715.0,786.1 1716.0,784.7 1717.0,785.2 1718.0,784.1 1719.0,783.8 1720.0,783.5 1721.0,785.2 1722.0,786.4 1723.0,787.5 1724.0,787.4 1725.0,788.8 1726.0,789.3 1727.0,788.3 1728.0,788.7 1729.0,787.2 1730.0,786.4 1731.0,789.4 1732.0,787.7 1733.0,786.4 1734.0,789.8 1735.0,787.4 1736.0,786.8 1737.0,785.2 1738.0,788.0 1739.0,786.5 1740.0,785.4 1741.0,787.1 1742.0,786.7 1743.0,787.0 1744.0,785.6 1745.0,787.3 1746.0,787.7 1747.0,790.0 1748.0,787.0 1749.0,788.8 1750.0,788.5 1751.0,788.0 1752.0,788.7 1753.0,787.3 1754.0,785.8 1755.0,784.8 1756.0,785.5 1757.0,785.7 1758.0,784.1 1759.0,785.2 1760.0,785.5 1761.0,786.6 1762.0,785.9 1763.0,786.3 1764.0,788.8 1765.0,788.2 1766.0,789.4 1767.0,787.0 1768.0,786.8 1769.0,787.2 1770.0,784.8 1771.0,787.6 1772.0,790.5 1773.0,787.2 1774.0,786.6 1775.0,788.2 1776.0,786.9 1777.0,786.8 1778.0,786.7 1779.0,785.3 1780.0,784.7 1781.0,783.4 1782.0,785.0 1783.0,781.6 1784.0,780.7 1785.0,783.7 1786.0,782.8 1787.0,783.1 1788.0,782.4 1789.0,782.9 1790.0,784.1 1791.0,784.4 1792.0,783.4 1793.0,781.5 1794.0,783.2 1795.0,785.0 1796.0,783.5 1797.0,783.0 1798.0,784.0 1799.0,784.6 1800.0,783.0 1801.0,783.6 1802.0,783.5 1803.0,782.5 1804.0,784.1 1805.0,782.5 1806.0,782.8 1807.0,783.9 1808.0,785.3 1809.0,782.2 1810.0,785.3 1811.0,785.5 1812.0,786.0 1813.0,783.0 1814.0,782.3 1815.0,786.1 1816.0,785.0 1817.0,782.2 1818.0,785.2 1819.0,784.0 1820.0,784.3 1821.0,785.7 1822.0,785.1 1823.0,786.0 1824.0,787.2 1825.0,789.5 1826.0,788.4 1827.0,787.7 1828.0,786.4 1829.0,789.7 1830.0,787.5 1831.0,788.3 1832.0,785.0 1833.0,786.1 1834.0,786.2 1835.0,782.3 1836.0,785.2 1837.0,784.3 1838.0,782.4 1839.0,784.5 1840.0,784.0 1841.0,785.1 1842.0,785.2 1843.0,782.9 1844.0,785.0 1845.0,784.6 1846.0,782.7 1847.0,785.3 1848.0,784.5 1849.0,782.7 1850.0,780.7 1851.0,782.4 1852.0,781.9 1853.0,782.5 1854.0,784.4 1855.0,785.5 1856.0,784.2 1857.0,787.0 1858.0,785.8 1859.0,787.0 1860.0,787.2 1861.0,787.4 1862.0,790.4 1863.0,790.0 1864.0,789.6 1865.0,787.6 1866.0,791.4 1867.0,789.9 1868.0,789.6 1869.0,789.3 1870.0,789.9 1871.0,791.4 1872.0,789.6 1873.0,787.8 1874.0,789.1 1875.0,786.9 1876.0,786.0 1877.0,787.0 1878.0,789.2 1879.0,787.4 1880.0,786.6 1881.0,788.1 1882.0,787.5 1883.0,790.9 1884.0,787.3 1885.0,788.5 1886.0,788.0 1887.0,785.8 1888.0,787.9 1889.0,788.6 1890.0,786.4 1891.0,787.2 1892.0,787.5 1893.0,785.8 1894.0,789.3 1895.0,787.2 1896.0,787.1 1897.0,787.0 1898.0,786.1 1899.0,788.0 1900.0,788.4 1901.0,787.4 1902.0,785.5 1903.0,785.4 1904.0,784.3 1905.0,783.9 1906.0,784.3 1907.0,783.8"/>
<polyline fill="none" stroke="#BE0A2A" stroke-width="12" stroke-linejoin="round" stroke-dasharray="10.6 8" stroke-linecap="butt" points="222.0,246.0 222.3,248.9 222.6,251.8 222.9,254.7 223.2,257.6 223.5,260.5 223.8,263.4 224.1,266.3 224.4,269.2 224.7,272.1 225.0,275.0 225.5,278.1 226.0,281.2 226.5,284.4 227.0,287.5 227.5,290.6 228.0,293.8 228.5,296.9 229.0,300.0 229.3,303.1 229.6,306.3 229.9,309.4 230.1,312.6 230.4,315.7 230.7,318.9 231.0,322.0 231.3,325.2 231.5,328.3 231.8,331.5 232.1,334.7 232.3,337.8 232.6,341.0 232.9,344.2 233.2,347.3 233.6,350.5 233.9,353.7 234.2,356.8 234.5,360.0 234.8,363.2 235.0,366.3 235.2,369.5 235.5,372.7 235.8,375.8 236.0,379.0 236.5,382.2 237.0,385.4 237.4,388.6 237.9,391.7 238.4,394.9 238.9,398.1 239.2,401.2 239.4,404.2 239.7,407.2 240.0,410.3 240.2,413.3 240.5,416.4 240.8,419.5 241.0,422.7 241.3,425.9 241.6,429.0 241.8,432.1 242.1,435.3 242.5,438.3 242.8,441.2 243.2,444.2 243.6,447.2 243.9,450.1 244.3,453.1 244.7,456.2 245.0,459.2 245.4,462.3 245.7,465.4 246.1,468.4 246.4,471.5 246.8,474.3 247.1,477.0 247.5,479.8 247.8,482.6 248.2,485.4 248.5,488.1 248.9,490.9 249.3,493.9 249.8,497.0 250.2,500.0 250.6,503.1 251.1,506.1 251.5,509.2 252.0,512.2 252.5,515.1 253.0,518.1 253.5,521.1 254.0,524.0 254.5,527.0 254.8,530.1 255.2,533.3 255.5,536.5 255.8,539.6 256.2,542.8 256.5,545.9 256.8,548.9 257.1,552.0 257.4,555.0 257.8,558.1 258.1,561.1 258.4,564.2 258.7,567.2 259.0,570.3 259.4,573.4 259.7,576.4 260.0,579.5 260.3,582.5 260.7,585.4 261.0,588.4 261.4,591.3 261.7,594.2 262.1,597.2 262.5,600.1 262.8,603.0 263.2,605.9 263.6,608.9 263.9,611.8 264.3,614.7 264.6,617.7 265.0,620.6 265.4,623.6 265.7,626.6 266.1,629.6 266.4,632.6 266.8,635.6 267.1,638.6 267.5,641.6 267.8,644.6 268.2,647.6 268.6,650.6 268.9,653.6 269.3,656.6 269.6,659.6 270.0,662.6 270.3,665.6 270.7,668.6 271.0,671.6 271.4,674.6 271.7,677.6 272.0,680.5 272.3,683.5 272.6,686.5 272.9,689.4 273.2,692.4 273.5,695.3 273.8,698.3 274.1,701.3 274.4,704.2 274.7,707.2 275.0,710.1 275.3,713.1 275.6,716.1 275.9,719.0 276.2,722.0 276.5,725.0 276.8,728.0 277.1,731.0 277.4,734.0 277.7,737.0 278.0,740.0 278.3,743.0 278.6,746.0 278.9,749.0 279.2,752.0 279.5,755.0 279.8,758.0 280.1,761.0 280.4,764.0 280.7,767.0 281.0,770.0 281.3,773.0 281.6,775.9 281.9,778.9 282.2,781.9 282.5,784.8 282.8,787.8 283.1,790.8 283.4,793.8 283.6,796.7 283.9,799.7 284.2,802.7 284.5,805.6 284.8,808.6 285.1,811.6 285.4,814.5 285.7,817.5 286.0,820.5 286.3,823.4 286.6,826.4 286.9,829.4 287.2,832.3 287.5,835.3 287.8,838.3 288.1,841.2 288.4,844.2 288.7,847.2 289.0,850.2 289.3,853.1 289.6,856.1 289.9,859.1 290.2,862.0 290.5,865.0 291.1,867.8 291.7,870.7 292.4,873.5 293.0,876.3 293.6,879.2 294.2,882.0 294.4,884.8 294.5,887.7 294.7,890.5 294.9,893.3 295.0,896.2 295.2,899.0 295.5,902.0 295.8,905.0 296.1,908.0 296.4,911.0 296.7,914.0 297.0,917.0 297.5,920.1 297.9,923.3 298.4,926.5 298.9,929.6 299.3,932.8 299.8,935.9 300.4,938.9 301.0,941.9 301.6,945.0 302.1,948.0 302.7,951.0 303.3,954.0 304.1,957.0 304.9,960.1 305.8,963.1 306.6,966.1 307.4,969.2 308.2,972.2 309.1,975.1 310.1,978.0 311.0,980.9 311.9,983.8 312.9,986.7 313.8,989.6 314.7,992.4 315.7,995.2 316.6,998.0 317.5,1000.8 318.5,1003.6 319.4,1006.4 320.3,1009.1 321.3,1011.8 322.2,1014.5 323.1,1017.1 324.1,1019.8 325.0,1022.5 325.0,1033.9 326.0,1032.1 327.0,1031.1 328.0,1031.7 329.0,1026.4 330.0,1026.1 331.0,1029.0 332.0,1021.6 333.0,1022.5 334.0,1021.6 335.0,1024.4 336.0,1022.5 337.0,1024.2 338.0,1023.2 339.0,1023.0 340.0,1023.7 341.0,1024.0 342.0,1024.6 343.0,1018.4 344.0,1026.0 345.0,1023.2 346.0,1026.2 347.0,1024.6 348.0,1027.1 349.0,1023.4 350.0,1027.2 351.0,1026.5 352.0,1024.5 353.0,1024.7 354.0,1024.2 355.0,1027.4 356.0,1027.2 357.0,1026.6 358.0,1026.7 359.0,1025.1 360.0,1023.9 361.0,1025.5 362.0,1026.7 363.0,1024.4 364.0,1028.8 365.0,1023.6 366.0,1020.9 367.0,1021.7 368.0,1023.4 369.0,1019.1 370.0,1022.4 371.0,1022.9 372.0,1029.2 373.0,1029.3 374.0,1030.2 375.0,1030.7 376.0,1029.0 377.0,1032.8 378.0,1030.2 379.0,1028.9 380.0,1028.7 381.0,1027.6 382.0,1026.8 383.0,1025.3 384.0,1021.6 385.0,1025.0 386.0,1026.5 387.0,1026.2 388.0,1031.3 389.0,1028.2 390.0,1033.0 391.0,1033.3 392.0,1035.0 393.0,1036.9 394.0,1030.5 395.0,1033.6 396.0,1031.8 397.0,1030.7 398.0,1028.0 399.0,1027.9 400.0,1030.4 401.0,1026.4 402.0,1024.0 403.0,1026.1 404.0,1032.1 405.0,1023.9 406.0,1026.4 407.0,1028.7 408.0,1024.4 409.0,1023.9 410.0,1023.9 411.0,1023.0 412.0,1024.3 413.0,1022.4 414.0,1025.4 415.0,1024.6 416.0,1026.2 417.0,1024.3 418.0,1022.6 419.0,1025.5 420.0,1023.3 421.0,1027.2 422.0,1026.0 423.0,1026.5 424.0,1026.8 425.0,1027.3 426.0,1026.7 427.0,1024.4 428.0,1025.1 429.0,1018.1 430.0,1022.1 431.0,1022.1 432.0,1021.0 433.0,1019.8 434.0,1021.1 435.0,1027.5 436.0,1023.9 437.0,1026.6 438.0,1029.6 439.0,1027.2 440.0,1023.1 441.0,1024.1 442.0,1024.5 443.0,1022.9 444.0,1022.0 445.0,1023.2 446.0,1020.3 447.0,1018.6 448.0,1016.5 449.0,1020.2 450.0,1016.7 451.0,1015.3 452.0,1017.8 453.0,1019.4 454.0,1022.4 455.0,1024.8 456.0,1025.0 457.0,1026.6 458.0,1028.3 459.0,1027.6 460.0,1029.1 461.0,1029.3 462.0,1024.2 463.0,1026.0 464.0,1030.6 465.0,1028.1 466.0,1024.8 467.0,1025.4 468.0,1022.7 469.0,1029.8 470.0,1023.6 471.0,1029.1 472.0,1027.1 473.0,1031.7 474.0,1036.2 475.0,1030.2 476.0,1032.0 477.0,1035.5 478.0,1034.1 479.0,1031.3 480.0,1033.0 481.0,1033.5 482.0,1030.3 483.0,1030.3 484.0,1026.3 485.0,1028.3 486.0,1027.4 487.0,1029.5 488.0,1024.9 489.0,1025.0 490.0,1027.3 491.0,1027.3 492.0,1027.4 493.0,1022.6 494.0,1025.6 495.0,1024.2 496.0,1025.9 497.0,1020.1 498.0,1024.6 499.0,1026.5 500.0,1027.0 501.0,1022.8 502.0,1025.1 503.0,1020.7 504.0,1021.1 505.0,1022.5 506.0,1020.4 507.0,1020.9 508.0,1018.8 509.0,1020.0 510.0,1022.9 511.0,1023.6 512.0,1025.0 513.0,1027.6 514.0,1027.1 515.0,1026.6 516.0,1028.6 517.0,1030.7 518.0,1031.0 519.0,1029.3 520.0,1028.8 521.0,1033.5 522.0,1030.3 523.0,1030.1 524.0,1028.8 525.0,1031.3 526.0,1029.7 527.0,1030.7 528.0,1030.4 529.0,1029.2 530.0,1030.7 531.0,1029.6 532.0,1026.7 533.0,1031.0 534.0,1025.6 535.0,1026.1 536.0,1027.6 537.0,1031.0 538.0,1026.0 539.0,1030.8 540.0,1032.7 541.0,1030.8 542.0,1028.4 543.0,1031.6 544.0,1029.7 545.0,1031.4 546.0,1029.0 547.0,1024.8 548.0,1026.4 549.0,1028.8 550.0,1024.8 551.0,1024.6 552.0,1026.5 553.0,1029.3 554.0,1026.3 555.0,1024.9 556.0,1024.2 557.0,1028.0 558.0,1029.6 559.0,1028.1 560.0,1029.1 561.0,1034.2 562.0,1032.0 563.0,1036.4 564.0,1030.6 565.0,1030.6 566.0,1026.6 567.0,1027.7 568.0,1030.9 569.0,1026.6 570.0,1028.6 571.0,1031.9 572.0,1032.1 573.0,1035.5 574.0,1033.5 575.0,1030.1 576.0,1032.0 577.0,1030.2 578.0,1032.4 579.0,1030.2 580.0,1031.9 581.0,1033.1 582.0,1030.7 583.0,1033.0 584.0,1031.7 585.0,1030.3 586.0,1030.3 587.0,1029.9 588.0,1028.7 589.0,1026.2 590.0,1025.9 591.0,1028.4 592.0,1027.0 593.0,1030.0 594.0,1027.7 595.0,1029.1 596.0,1029.4 597.0,1028.1 598.0,1027.9 599.0,1025.3 600.0,1027.3 601.0,1030.2 602.0,1028.3 603.0,1029.5 604.0,1027.8 605.0,1033.6 606.0,1027.1 607.0,1028.6 608.0,1028.2 609.0,1024.2 610.0,1025.4 611.0,1024.0 612.0,1025.6 613.0,1023.3 614.0,1022.1 615.0,1022.9 616.0,1023.1 617.0,1024.6 618.0,1019.2 619.0,1020.6 620.0,1022.5 621.0,1019.7 622.0,1018.6 623.0,1022.0 624.0,1023.2 625.0,1022.1 626.0,1024.2 627.0,1022.6 628.0,1023.5 629.0,1022.8 630.0,1022.2 631.0,1018.9 632.0,1025.3 633.0,1024.5 634.0,1025.0 635.0,1025.1 636.0,1028.3 637.0,1028.1 638.0,1032.3 639.0,1037.3 640.0,1028.6 641.0,1035.6 642.0,1030.2 643.0,1033.2 644.0,1029.3 645.0,1030.2 646.0,1031.7 647.0,1031.6 648.0,1034.3 649.0,1033.5 650.0,1034.0 651.0,1032.8 652.0,1036.6 653.0,1032.4 654.0,1033.4 655.0,1029.6 656.0,1030.2 657.0,1025.4 658.0,1025.9 659.0,1027.1 660.0,1021.7 661.0,1022.0 662.0,1025.6 663.0,1021.2 664.0,1029.1 665.0,1023.6 666.0,1024.5 667.0,1024.5 668.0,1028.0 669.0,1026.1 670.0,1025.0 671.0,1027.1 672.0,1030.7 673.0,1031.1 674.0,1032.4 675.0,1030.8 676.0,1032.5 677.0,1031.0 678.0,1034.9 679.0,1031.9 680.0,1029.9 681.0,1032.1 682.0,1034.1 683.0,1033.9 684.0,1037.3 685.0,1039.0 686.0,1035.4 687.0,1036.0 688.0,1037.5 689.0,1037.3 690.0,1038.1 691.0,1034.3 692.0,1033.5 693.0,1033.6 694.0,1031.3 695.0,1035.9 696.0,1033.0 697.0,1032.5 698.0,1034.6 699.0,1030.3 700.0,1032.5 701.0,1029.2 702.0,1028.4 703.0,1031.4 704.0,1031.0 705.0,1033.8 706.0,1033.3 707.0,1033.5 708.0,1036.5 709.0,1031.9 710.0,1038.2 711.0,1037.5 712.0,1034.6 713.0,1039.2 714.0,1036.7 715.0,1033.7 716.0,1030.8 717.0,1033.9 718.0,1025.8 719.0,1026.7 720.0,1024.0 721.0,1024.2 722.0,1023.8 723.0,1025.0 724.0,1021.4 725.0,1024.0 726.0,1025.0 727.0,1026.5 728.0,1024.8 729.0,1022.6 730.0,1029.8 731.0,1032.1 732.0,1029.5 733.0,1027.5 734.0,1029.2 735.0,1030.4 736.0,1027.9 737.0,1034.4 738.0,1029.4 739.0,1031.7 740.0,1028.3 741.0,1023.9 742.0,1028.4 743.0,1028.5 744.0,1023.8 745.0,1027.7 746.0,1025.0 747.0,1028.5 748.0,1030.6 749.0,1027.6 750.0,1024.4 751.0,1030.7 752.0,1031.9 753.0,1032.6 754.0,1027.6 755.0,1033.0 756.0,1031.7 757.0,1033.2 759.7,1029.0"/>
<polyline fill="none" stroke="#BE0A2A" stroke-width="12" stroke-linejoin="round" stroke-dasharray="10.6 8" stroke-linecap="butt" points="759.7,258.0 760.0,258.0 760.5,261.0 761.0,264.0 761.5,267.0 762.0,270.0 762.5,273.0 763.0,276.0 763.5,279.0 764.0,282.0 764.2,284.9 764.4,287.8 764.6,290.7 764.8,293.6 764.9,296.4 765.1,299.3 765.3,302.2 765.5,305.1 765.7,308.0 766.0,310.8 766.2,313.7 766.5,316.5 766.8,319.3 767.0,322.2 767.3,325.0 767.6,328.2 767.9,331.3 768.1,334.5 768.4,337.7 768.7,340.8 769.0,344.0 769.3,347.2 769.6,350.3 769.9,353.5 770.1,356.7 770.4,359.8 770.7,363.0 770.9,366.0 771.1,369.0 771.3,372.0 771.5,375.0 771.7,378.0 771.9,381.0 772.2,384.2 772.5,387.3 772.8,390.5 773.0,393.7 773.3,396.8 773.6,400.0 773.9,403.1 774.1,406.2 774.4,409.3 774.6,412.4 774.9,415.5 775.1,418.6 775.4,421.8 775.7,424.9 776.0,428.1 776.2,431.2 776.5,434.4 776.8,437.5 777.1,440.6 777.3,443.7 777.6,446.8 777.9,449.8 778.1,452.9 778.4,456.0 778.7,459.2 778.9,462.3 779.2,465.5 779.5,468.7 779.7,471.8 780.0,475.0 780.3,478.0 780.6,481.0 780.9,484.0 781.1,487.0 781.4,490.0 781.7,493.0 781.9,496.2 782.1,499.3 782.4,502.5 782.6,505.7 782.8,508.8 783.0,512.0 783.3,515.1 783.6,518.2 783.9,521.2 784.2,524.3 784.5,527.4 784.8,530.5 785.1,533.5 785.5,536.5 785.8,539.5 786.1,542.5 786.5,545.5 786.8,548.5 787.1,551.5 787.3,554.4 787.6,557.4 787.9,560.4 788.2,563.4 788.4,566.3 788.7,569.3 789.0,572.3 789.3,575.3 789.5,578.2 789.8,581.2 790.1,584.2 790.4,587.2 790.6,590.1 790.9,593.1 791.2,596.1 791.5,599.1 791.7,602.0 792.0,605.0 792.3,607.9 792.6,610.9 792.8,613.8 793.1,616.8 793.4,619.7 793.7,622.7 794.0,625.6 794.2,628.6 794.5,631.5 794.8,634.5 795.1,637.4 795.3,640.4 795.6,643.3 795.9,646.3 796.2,649.2 796.5,652.2 796.7,655.1 797.0,658.1 797.3,661.0 797.6,664.0 797.9,667.0 798.2,670.0 798.5,672.9 798.8,675.9 799.1,678.9 799.4,681.9 799.7,684.9 800.0,687.9 800.3,690.8 800.6,693.8 800.9,696.8 801.2,699.8 801.5,702.8 801.8,705.8 802.1,708.7 802.4,711.7 802.7,714.7 803.1,717.7 803.4,720.8 803.8,723.8 804.2,726.9 804.6,729.9 804.9,733.0 805.3,736.0 805.5,739.1 805.8,742.2 806.0,745.2 806.2,748.3 806.4,751.4 806.6,754.5 806.9,757.6 807.1,760.7 807.3,763.8 807.5,766.8 807.8,769.9 808.0,773.0 808.5,776.0 808.9,778.9 809.4,781.9 809.8,784.8 810.2,787.8 810.7,790.7 810.9,793.7 811.1,796.7 811.3,799.7 811.5,802.8 811.8,805.8 812.0,808.8 812.2,811.8 812.4,814.8 812.6,817.8 812.8,820.9 813.0,823.9 813.2,826.9 813.4,829.9 813.6,832.9 813.9,835.9 814.1,839.0 814.3,842.0 814.5,845.0 814.7,848.0 815.1,850.9 815.6,853.8 816.0,856.7 816.5,859.6 816.9,862.5 817.4,865.4 817.8,868.2 818.2,871.1 818.7,874.0 819.1,876.9 819.6,879.8 820.0,882.7 820.4,885.7 820.7,888.8 821.1,891.8 821.4,894.9 821.8,897.9 822.1,901.0 822.5,904.0 822.8,907.0 823.0,909.9 823.3,912.9 823.5,915.8 823.8,918.8 824.1,921.7 824.3,924.7 824.6,927.6 824.9,930.6 825.1,933.5 825.4,936.5 825.6,939.4 825.9,942.4 826.2,945.3 826.4,948.3 826.7,951.2 827.0,954.2 827.2,957.1 827.5,960.1 827.7,963.0 828.0,966.0 828.7,969.0 829.5,972.0 830.2,975.0 831.0,978.0 831.7,981.0 832.5,984.0 833.2,987.0 834.0,990.0 834.7,993.0 835.5,996.0 836.2,999.0 837.1,1001.9 838.0,1004.9 838.9,1007.8 839.7,1010.8 840.6,1013.7 841.5,1016.7 842.4,1019.6 844.3,1021.7 846.2,1023.8 848.2,1025.8 850.1,1027.9 852.0,1030.0 853.0,1029.2 854.0,1026.8 855.0,1031.5 856.0,1030.0 857.0,1027.6 858.0,1028.3 859.0,1028.7 860.0,1031.4 861.0,1034.3 862.0,1032.6 863.0,1035.7 864.0,1035.6 865.0,1036.7 866.0,1033.1 867.0,1035.4 868.0,1033.0 869.0,1034.9 870.0,1031.2 871.0,1033.6 872.0,1027.8 873.0,1029.3 874.0,1029.9 875.0,1025.9 876.0,1027.7 877.0,1030.3 878.0,1027.8 879.0,1030.0 880.0,1031.5 881.0,1030.4 882.0,1031.3 883.0,1029.0 884.0,1025.4 885.0,1031.5 886.0,1031.8 887.0,1031.9 888.0,1031.4 889.0,1029.3 890.0,1035.1 891.0,1032.2 892.0,1029.9 893.0,1030.1 894.0,1031.9 895.0,1031.2 896.0,1029.9 897.0,1033.0 898.0,1034.1 899.0,1035.1 900.0,1032.4 901.0,1032.2 902.0,1036.9 903.0,1036.9 904.0,1034.5 905.0,1034.4 906.0,1036.5 907.0,1032.0 908.0,1034.2 909.0,1032.4 910.0,1029.7 911.0,1031.4 912.0,1030.4 913.0,1033.0 914.0,1033.0 915.0,1032.2 916.0,1034.8 917.0,1035.2 918.0,1033.8 919.0,1033.9 920.0,1032.3 921.0,1036.2 922.0,1033.8 923.0,1033.7 924.0,1037.6 925.0,1037.6 926.0,1035.1 927.0,1032.2 928.0,1036.3 929.0,1034.7 930.0,1033.2 931.0,1034.6 932.0,1036.8 933.0,1035.0 934.0,1036.0 935.0,1034.4 936.0,1032.4 937.0,1039.4 938.0,1037.3 939.0,1036.9 940.0,1037.1 941.0,1038.4 942.0,1037.8 943.0,1038.3 944.0,1042.5 945.0,1037.7 946.0,1040.1 947.0,1042.5 948.0,1040.3 949.0,1040.0 950.0,1041.1 951.0,1042.6 952.0,1043.7 953.0,1046.4 954.0,1044.5 955.0,1045.6 956.0,1044.4 957.0,1039.3 958.0,1040.0 959.0,1039.0 960.0,1037.3 961.0,1039.2 962.0,1039.6 963.0,1038.9 964.0,1038.6 965.0,1042.9 966.0,1041.1 967.0,1040.8 968.0,1041.0 969.0,1040.4 970.0,1042.8 971.0,1044.2 972.0,1038.9 973.0,1039.0 974.0,1040.6 975.0,1035.3 976.0,1040.9 977.0,1038.2 978.0,1037.2 979.0,1039.1 980.0,1040.4 981.0,1035.4 982.0,1037.2 983.0,1039.3 984.0,1036.5 985.0,1038.6 986.0,1033.4 987.0,1032.9 988.0,1037.5 989.0,1030.2 990.0,1031.8 991.0,1029.3 992.0,1027.8 993.0,1027.0 994.0,1028.1 995.0,1032.2 996.0,1032.0 997.0,1027.7 998.0,1033.4 999.0,1037.9 1000.0,1035.2 1001.0,1037.1 1002.0,1037.6 1003.0,1034.0 1004.0,1033.0 1005.0,1031.7 1006.0,1030.8 1007.0,1028.8 1008.0,1028.6 1009.0,1031.8 1010.0,1030.3 1011.0,1029.0 1012.0,1031.2 1013.0,1030.6 1014.0,1031.3 1015.0,1028.5 1016.0,1031.0 1017.0,1033.4 1018.0,1026.2 1019.0,1033.3 1020.0,1029.7 1021.0,1034.4 1022.0,1029.9 1023.0,1034.9 1024.0,1038.4 1025.0,1034.2 1026.0,1036.5 1027.0,1035.5 1028.0,1038.8 1029.0,1035.0 1030.0,1034.1 1031.0,1036.8 1032.0,1036.3 1033.0,1036.7 1034.0,1037.5 1035.0,1035.1 1036.0,1042.3 1037.0,1039.1 1038.0,1038.8 1039.0,1037.5 1040.0,1041.5 1041.0,1038.6 1042.0,1039.7 1043.0,1040.9 1044.0,1041.3 1045.0,1036.7 1046.0,1043.2 1047.0,1039.7 1048.0,1042.3 1049.0,1043.5 1050.0,1038.7 1051.0,1040.6 1052.0,1040.0 1053.0,1039.5 1054.0,1039.9 1055.0,1039.3 1056.0,1036.8 1057.0,1031.9 1058.0,1032.9 1059.0,1032.5 1060.0,1037.7 1061.0,1032.6 1062.0,1033.2 1063.0,1037.1 1064.0,1037.4 1065.0,1033.3 1066.0,1035.1 1067.0,1038.3 1068.0,1035.9 1069.0,1031.2 1070.0,1032.0 1071.0,1029.6 1072.0,1027.3 1073.0,1031.0 1074.0,1027.5 1075.0,1029.5 1076.0,1025.3 1077.0,1026.4 1078.0,1025.5 1079.0,1029.8 1080.0,1025.7 1081.0,1027.2 1082.0,1027.3 1083.0,1028.1 1084.0,1027.5 1085.0,1027.5 1086.0,1024.6 1087.0,1033.0 1088.0,1026.9 1089.0,1029.8 1090.0,1025.3 1091.0,1023.1 1092.0,1026.8 1093.0,1027.0 1094.0,1024.2 1095.0,1023.9 1096.0,1025.5 1097.0,1027.7 1098.0,1027.0 1099.0,1024.8 1100.0,1022.6 1101.0,1025.9 1102.0,1024.0 1103.0,1025.7 1104.0,1027.2 1105.0,1024.4 1106.0,1028.8 1107.0,1029.1 1108.0,1031.5 1109.0,1028.7 1110.0,1030.1 1111.0,1027.9 1112.0,1026.1 1113.0,1028.8 1114.0,1028.6 1115.0,1025.7 1116.0,1027.9 1117.0,1029.4 1118.0,1030.5 1119.0,1031.1 1120.0,1032.9 1121.0,1028.1 1122.0,1029.3 1123.0,1025.3 1124.0,1034.5 1125.0,1027.5 1126.0,1030.7 1127.0,1031.5 1128.0,1029.0 1129.0,1031.9 1130.0,1033.1 1131.0,1030.7 1132.0,1032.8 1133.0,1031.0 1134.0,1032.0 1135.0,1030.7 1136.0,1026.4 1137.0,1032.7 1138.0,1032.3 1139.0,1036.8 1140.0,1031.1 1141.0,1026.6 1142.0,1031.3 1143.0,1032.0 1144.0,1031.5 1145.0,1028.0 1146.0,1026.1 1147.0,1027.9 1148.0,1028.4 1149.0,1020.8 1150.0,1024.1 1151.0,1025.0 1152.0,1020.5 1153.0,1023.3 1154.0,1021.3 1155.0,1024.1 1156.0,1026.3 1157.0,1026.4 1158.0,1024.3 1159.0,1027.7 1160.0,1026.2 1161.0,1028.5 1162.0,1029.1 1163.0,1028.3 1164.0,1029.3 1165.0,1029.8 1166.0,1031.1 1167.0,1030.5 1168.0,1028.1 1169.0,1026.8 1170.0,1027.1 1171.0,1028.5 1172.0,1027.5 1173.0,1025.2 1174.0,1027.4 1175.0,1027.5 1176.0,1026.8 1177.0,1025.2 1178.0,1032.5 1179.0,1026.7 1180.0,1028.2 1181.0,1030.7 1182.0,1036.3 1183.0,1031.5 1184.0,1030.5 1185.0,1033.1 1186.0,1030.2 1187.0,1030.0 1188.0,1030.8 1189.0,1035.8 1190.0,1038.4 1191.0,1038.0 1192.0,1038.0 1193.0,1038.5 1194.0,1035.2 1195.0,1040.3 1196.0,1040.0 1197.0,1038.9 1198.0,1036.9 1199.0,1032.8 1200.0,1036.8 1201.0,1030.3 1202.0,1029.2 1203.0,1028.6 1204.0,1024.7 1205.0,1027.3 1206.0,1029.3 1207.0,1026.8 1208.0,1023.8 1209.0,1025.7 1210.0,1025.0 1211.0,1024.5 1212.0,1028.6 1213.0,1024.3 1214.0,1032.0 1215.0,1027.7 1216.0,1034.4 1217.0,1031.1 1218.0,1034.2 1219.0,1034.6 1220.0,1033.0 1221.0,1036.0 1222.0,1035.1 1223.0,1030.8 1224.0,1033.7 1225.0,1034.0 1226.0,1035.2 1227.0,1034.5 1228.0,1033.5 1229.0,1034.2 1230.0,1037.1 1231.0,1033.4 1232.0,1033.3 1233.0,1029.8 1234.0,1029.8 1235.0,1031.5 1236.0,1031.3 1237.0,1032.9 1238.0,1034.1 1239.0,1031.8 1240.0,1030.6 1241.0,1034.5 1242.0,1029.9 1243.0,1032.6 1244.0,1031.4 1245.0,1028.0 1246.0,1029.9 1247.0,1030.2 1248.0,1029.9 1249.0,1035.9 1250.0,1031.8 1251.0,1034.9 1252.0,1035.9 1253.0,1036.0 1254.0,1038.2 1255.0,1036.8 1256.0,1032.9 1257.0,1036.0 1258.0,1034.9 1259.0,1030.1 1260.0,1033.1 1261.0,1034.4 1262.0,1035.1 1263.0,1035.4 1264.0,1034.2 1265.0,1038.3 1266.0,1036.6 1267.0,1040.2 1268.0,1035.3 1269.0,1037.0 1270.0,1035.9 1271.0,1034.5 1272.0,1036.3 1273.0,1038.4 1274.0,1040.0 1275.0,1039.6 1276.0,1037.4 1277.0,1033.0 1278.0,1035.7 1279.0,1032.7 1280.0,1035.2 1281.0,1032.0 1282.0,1033.7 1283.0,1031.2 1284.0,1029.2 1285.0,1033.4 1286.0,1032.4 1287.0,1032.3 1288.0,1035.7 1289.0,1035.0 1290.0,1036.2 1291.0,1036.5 1292.0,1031.5 1293.0,1032.8 1294.0,1030.4 1295.0,1031.6 1296.0,1032.2 1297.0,1032.0 1299.8,1035.0"/>
<polyline fill="none" stroke="#BE0A2A" stroke-width="12" stroke-linejoin="round" stroke-dasharray="10.6 8" stroke-linecap="butt" points="1299.8,258.0 1300.0,258.0 1300.2,261.0 1300.4,264.0 1300.5,267.0 1300.7,270.0 1300.9,273.0 1301.1,276.0 1301.2,279.0 1301.4,282.0 1301.6,285.0 1301.8,288.0 1301.9,291.0 1302.1,294.0 1302.3,297.0 1302.5,300.0 1302.6,303.0 1302.8,306.0 1303.0,309.0 1303.2,312.0 1303.4,315.0 1303.5,318.0 1303.7,321.0 1303.9,324.0 1304.1,327.0 1304.2,330.0 1304.4,333.0 1304.6,336.0 1304.8,339.0 1304.9,342.0 1305.1,345.0 1305.3,348.0 1305.5,351.0 1305.6,354.0 1305.8,357.0 1306.0,360.0 1306.1,363.0 1306.2,365.9 1306.3,368.9 1306.4,371.9 1306.5,374.8 1306.6,377.8 1306.8,380.7 1306.9,383.7 1307.0,386.7 1307.1,389.6 1307.2,392.6 1307.3,395.6 1307.4,398.5 1307.5,401.5 1307.6,404.5 1307.7,407.4 1307.8,410.4 1307.9,413.4 1308.0,416.3 1308.2,419.3 1308.3,422.2 1308.4,425.2 1308.5,428.2 1308.6,431.1 1308.7,434.1 1308.8,437.1 1308.9,440.0 1309.0,443.0 1309.1,446.0 1309.2,448.9 1309.3,451.9 1309.4,454.9 1309.6,457.8 1309.7,460.8 1309.8,463.7 1309.9,466.7 1310.0,469.7 1310.1,472.6 1310.2,475.6 1310.3,478.6 1310.3,481.7 1310.4,484.7 1310.4,487.8 1310.5,490.8 1310.5,493.8 1310.6,496.9 1310.6,499.9 1310.7,503.0 1310.7,506.0 1310.8,509.0 1310.8,512.1 1310.9,515.1 1310.9,518.2 1311.0,521.2 1311.0,524.2 1311.1,527.3 1311.1,530.3 1311.2,533.4 1311.2,536.4 1311.3,539.4 1311.3,542.5 1311.4,545.5 1311.4,548.6 1311.5,551.6 1311.5,554.6 1311.6,557.7 1311.6,560.7 1311.7,563.8 1311.7,566.8 1311.8,569.8 1311.8,572.9 1311.9,575.9 1311.9,579.0 1312.0,582.0 1312.1,585.0 1312.2,587.9 1312.3,590.9 1312.4,593.9 1312.6,596.9 1312.7,599.8 1312.8,602.8 1312.9,605.8 1313.0,608.8 1313.1,611.7 1313.2,614.7 1313.3,617.7 1313.4,620.6 1313.6,623.6 1313.7,626.6 1313.8,629.6 1313.9,632.5 1314.0,635.5 1314.1,638.5 1314.2,641.4 1314.3,644.4 1314.4,647.4 1314.6,650.4 1314.7,653.3 1314.8,656.3 1314.9,659.3 1315.0,662.2 1315.1,665.2 1315.2,668.2 1315.3,671.2 1315.4,674.1 1315.6,677.1 1315.7,680.1 1315.8,683.1 1315.9,686.0 1316.0,689.0 1316.4,692.1 1316.8,695.2 1317.2,698.3 1317.6,701.4 1318.0,704.5 1318.4,707.6 1318.8,710.7 1319.2,713.8 1319.6,716.9 1320.0,720.0 1320.3,723.1 1320.6,726.2 1320.9,729.2 1321.2,732.3 1321.5,735.4 1321.8,738.5 1322.2,741.5 1322.5,744.6 1322.8,747.7 1323.1,750.8 1323.4,753.8 1323.7,756.9 1324.0,760.0 1324.3,762.9 1324.7,765.8 1325.0,768.8 1325.3,771.7 1325.7,774.6 1326.0,777.5 1326.3,780.4 1326.7,783.3 1327.0,786.2 1327.3,789.2 1327.7,792.1 1328.0,795.0 1328.8,797.9 1329.5,800.8 1330.2,803.6 1331.0,806.5 1331.8,809.4 1332.5,812.2 1333.2,815.1 1334.0,818.0 1335.5,820.5 1337.0,823.0 1338.5,825.5 1340.0,828.0 1341.5,830.5 1343.0,833.0 1344.5,835.5 1346.0,838.0 1347.8,840.4 1349.6,842.8 1351.4,845.2 1353.2,847.6 1355.0,850.0 1356.0,844.4 1357.0,847.5 1358.0,844.0 1359.0,849.2 1360.0,849.1 1361.0,846.5 1362.0,850.1 1363.0,853.0 1364.0,853.6 1365.0,851.5 1366.0,853.0 1367.0,852.6 1368.0,850.4 1369.0,847.9 1370.0,849.8 1371.0,849.9 1372.0,846.0 1373.0,844.8 1374.0,843.3 1375.0,843.4 1376.0,842.1 1377.0,841.0 1378.0,840.4 1379.0,839.2 1380.0,837.9 1381.0,842.9 1382.0,842.1 1383.0,848.5 1384.0,847.2 1385.0,850.5 1386.0,851.3 1387.0,848.0 1388.0,850.3 1389.0,850.0 1390.0,854.0 1391.0,851.8 1392.0,852.7 1393.0,853.3 1394.0,854.7 1395.0,856.9 1396.0,858.7 1397.0,861.0 1398.0,859.3 1399.0,859.7 1400.0,856.7 1401.0,860.8 1402.0,854.7 1403.0,854.1 1404.0,853.1 1405.0,857.2 1406.0,859.0 1407.0,863.0 1408.0,859.6 1409.0,862.5 1410.0,861.6 1411.0,864.5 1412.0,862.1 1413.0,865.6 1414.0,864.3 1415.0,858.6 1416.0,866.9 1417.0,859.4 1418.0,867.4 1419.0,866.6 1420.0,860.6 1421.0,861.4 1422.0,856.0 1423.0,858.8 1424.0,855.9 1425.0,856.0 1426.0,853.4 1427.0,854.9 1428.0,855.8 1429.0,856.7 1430.0,857.8 1431.0,855.3 1432.0,854.1 1433.0,855.5 1434.0,858.3 1435.0,857.4 1436.0,860.1 1437.0,865.0 1438.0,861.7 1439.0,864.7 1440.0,865.1 1441.0,868.3 1442.0,874.3 1443.0,872.7 1444.0,878.1 1445.0,873.4 1446.0,874.9 1447.0,872.5 1448.0,871.0 1449.0,869.7 1450.0,872.6 1451.0,865.2 1452.0,863.4 1453.0,864.2 1454.0,860.6 1455.0,864.2 1456.0,858.9 1457.0,858.5 1458.0,856.5 1459.0,854.8 1460.0,851.8 1461.0,849.1 1462.0,853.3 1463.0,850.7 1464.0,855.1 1465.0,855.8 1466.0,856.2 1467.0,861.1 1468.0,856.3 1469.0,855.5 1470.0,857.1 1471.0,856.0 1472.0,854.4 1473.0,852.6 1474.0,849.9 1475.0,852.6 1476.0,851.5 1477.0,850.1 1478.0,850.9 1479.0,850.1 1480.0,851.1 1481.0,851.4 1482.0,852.8 1483.0,852.1 1484.0,855.4 1485.0,854.2 1486.0,850.3 1487.0,852.5 1488.0,850.8 1489.0,851.7 1490.0,848.0 1491.0,850.3 1492.0,849.9 1493.0,847.5 1494.0,848.1 1495.0,848.9 1496.0,850.2 1497.0,852.5 1498.0,852.6 1499.0,846.9 1500.0,850.1 1501.0,850.5 1502.0,850.9 1503.0,852.9 1504.0,850.5 1505.0,856.7 1506.0,849.5 1507.0,851.3 1508.0,848.2 1509.0,849.7 1510.0,851.1 1511.0,846.3 1512.0,849.8 1513.0,849.4 1514.0,849.8 1515.0,851.2 1516.0,851.3 1517.0,851.7 1518.0,849.2 1519.0,849.7 1520.0,849.4 1521.0,854.3 1522.0,851.6 1523.0,853.3 1524.0,853.7 1525.0,859.3 1526.0,860.2 1527.0,865.9 1528.0,862.3 1529.0,866.0 1530.0,866.6 1531.0,860.8 1532.0,868.8 1533.0,856.7 1534.0,854.7 1535.0,858.6 1536.0,854.6 1537.0,854.8 1538.0,858.5 1539.0,859.4 1540.0,861.4 1541.0,863.7 1542.0,864.2 1543.0,863.1 1544.0,867.7 1545.0,863.5 1546.0,861.0 1547.0,862.5 1548.0,863.1 1549.0,860.1 1550.0,860.4 1551.0,860.0 1552.0,859.3 1553.0,858.0 1554.0,858.5 1555.0,857.3 1556.0,855.1 1557.0,854.4 1558.0,857.0 1559.0,858.0 1560.0,859.1 1561.0,857.1 1562.0,859.5 1563.0,859.4 1564.0,861.5 1565.0,860.4 1566.0,863.0 1567.0,862.7 1568.0,859.5 1569.0,862.3 1570.0,861.1 1571.0,861.4 1572.0,862.7 1573.0,860.9 1574.0,856.9 1575.0,857.5 1576.0,857.3 1577.0,856.7 1578.0,857.5 1579.0,857.0 1580.0,855.4 1581.0,858.0 1582.0,855.5 1583.0,852.8 1584.0,855.0 1585.0,851.3 1586.0,853.2 1587.0,850.1 1588.0,850.0 1589.0,848.6 1590.0,845.9 1591.0,842.6 1592.0,845.2 1593.0,842.6 1594.0,844.3 1595.0,844.4 1596.0,844.7 1597.0,843.8 1598.0,846.2 1599.0,846.9 1600.0,843.9 1601.0,840.5 1602.0,842.5 1603.0,836.3 1604.0,842.8 1605.0,840.4 1606.0,841.0 1607.0,840.2 1608.0,840.7 1609.0,845.0 1610.0,844.3 1611.0,845.2 1612.0,849.8 1613.0,846.6 1614.0,846.2 1615.0,848.3 1616.0,858.9 1617.0,858.9 1618.0,860.9 1619.0,860.3 1620.0,858.3 1621.0,860.9 1622.0,856.7 1623.0,860.9 1624.0,860.2 1625.0,857.0 1626.0,858.0 1627.0,856.2 1628.0,858.3 1629.0,859.0 1630.0,859.6 1631.0,861.8 1632.0,862.1 1633.0,861.0 1634.0,861.6 1635.0,864.0 1636.0,860.7 1637.0,855.7 1638.0,861.7 1639.0,853.5 1640.0,851.1 1641.0,851.9 1642.0,852.4 1643.0,853.1 1644.0,853.6 1645.0,854.0 1646.0,856.3 1647.0,850.7 1648.0,850.0 1649.0,851.7 1650.0,852.5 1651.0,849.4 1652.0,849.1 1653.0,850.9 1654.0,849.2 1655.0,845.9 1656.0,847.7 1657.0,847.9 1658.0,847.0 1659.0,847.1 1660.0,849.5 1661.0,851.8 1662.0,851.4 1663.0,853.0 1664.0,852.8 1665.0,856.9 1666.0,853.9 1667.0,854.2 1668.0,855.2 1669.0,847.9 1670.0,851.3 1671.0,852.7 1672.0,847.2 1673.0,848.4 1674.0,848.2 1675.0,851.7 1676.0,853.6 1677.0,856.0 1678.0,851.5 1679.0,850.3 1680.0,856.8 1681.0,854.3 1682.0,851.1 1683.0,847.1 1684.0,849.1 1685.0,843.8 1686.0,839.7 1687.0,845.7 1688.0,845.3 1689.0,846.5 1690.0,845.5 1691.0,848.2 1692.0,850.9 1693.0,847.1 1694.0,848.4 1695.0,847.7 1696.0,847.5 1697.0,843.3 1698.0,848.1 1699.0,850.9 1700.0,850.4 1701.0,851.5 1702.0,853.1 1703.0,856.4 1704.0,856.9 1705.0,860.2 1706.0,856.2 1707.0,853.5 1708.0,857.6 1709.0,857.2 1710.0,852.7 1711.0,848.5 1712.0,857.9 1713.0,856.3 1714.0,855.0 1715.0,855.2 1716.0,855.6 1717.0,855.6 1718.0,856.3 1719.0,856.5 1720.0,853.9 1721.0,853.1 1722.0,854.6 1723.0,850.6 1724.0,849.4 1725.0,847.8 1726.0,851.6 1727.0,846.8 1728.0,847.0 1729.0,850.7 1730.0,851.4 1731.0,850.4 1732.0,850.5 1733.0,849.0 1734.0,851.0 1735.0,847.9 1736.0,843.6 1737.0,849.6 1738.0,843.0 1739.0,845.0 1740.0,842.9 1741.0,844.4 1742.0,846.3 1743.0,839.7 1744.0,845.4 1745.0,844.4 1746.0,844.9 1747.0,847.4 1748.0,846.6 1749.0,842.8 1750.0,844.6 1751.0,843.7 1752.0,850.0 1753.0,846.7 1754.0,846.6 1755.0,847.6 1756.0,849.6 1757.0,852.2 1758.0,846.8 1759.0,848.1 1760.0,845.0 1761.0,848.4 1762.0,849.9 1763.0,846.9 1764.0,849.1 1765.0,844.2 1766.0,844.0 1767.0,845.5 1768.0,848.4 1769.0,849.3 1770.0,849.1 1771.0,847.0 1772.0,848.2 1773.0,845.6 1774.0,846.9 1775.0,849.4 1776.0,845.9 1777.0,848.0 1778.0,853.1 1779.0,851.1 1780.0,850.7 1781.0,849.4 1782.0,850.2 1783.0,852.1 1784.0,855.1 1785.0,850.3 1786.0,849.6 1787.0,848.9 1788.0,852.2 1789.0,850.7 1790.0,850.7 1791.0,851.4 1792.0,849.3 1793.0,851.0 1794.0,849.0 1795.0,852.3 1796.0,850.0 1797.0,847.0 1798.0,845.8 1799.0,845.5 1800.0,843.0 1801.0,847.9 1802.0,848.5 1803.0,842.2 1804.0,843.4 1805.0,846.4 1806.0,846.3 1807.0,850.4 1808.0,849.7 1809.0,852.6 1810.0,851.7 1811.0,849.1 1812.0,848.0 1813.0,848.4 1814.0,846.8 1815.0,845.0 1816.0,845.9 1817.0,845.4 1818.0,843.0 1819.0,847.2 1820.0,850.7 1821.0,844.5 1822.0,846.5 1823.0,847.3 1824.0,848.5 1825.0,849.9 1826.0,846.8 1827.0,848.8 1828.0,845.7 1829.0,845.6 1830.0,845.8 1831.0,849.4 1832.0,850.0 1833.0,852.9 1834.0,854.2 1835.0,854.9 1836.0,855.2 1837.0,853.6 1838.0,851.5 1839.0,850.1 1840.0,849.3 1841.0,840.9 1842.0,848.5 1843.0,846.4 1844.0,847.5 1845.0,846.4 1846.0,851.5 1847.0,849.9 1848.0,849.4 1849.0,851.5 1850.0,852.3 1851.0,850.6 1852.0,850.2 1853.0,852.0 1854.0,852.1 1855.0,856.2 1856.0,852.2 1857.0,852.6 1858.0,852.9 1859.0,852.3 1860.0,850.2 1861.0,848.1 1862.0,845.3 1863.0,848.4 1864.0,844.9 1865.0,842.0 1866.0,845.4 1867.0,843.2 1868.0,845.6 1869.0,845.8 1870.0,850.4 1871.0,843.2 1872.0,844.5 1873.0,843.7 1874.0,844.8 1875.0,843.2 1876.0,844.3 1877.0,842.5 1878.0,844.7 1879.0,838.1 1880.0,841.8 1881.0,840.8 1882.0,843.2 1883.0,842.4 1884.0,845.7 1885.0,845.6 1886.0,847.2 1887.0,850.3 1888.0,850.6 1889.0,851.3 1890.0,852.9 1891.0,853.2 1892.0,852.6 1893.0,851.4 1894.0,847.7 1895.0,850.7 1896.0,849.7 1897.0,852.2 1898.0,850.6 1899.0,853.0 1900.0,850.2 1901.0,851.9 1902.0,851.2 1903.0,851.9 1904.0,854.6 1905.0,849.9 1906.0,854.1 1907.0,855.9"/>
<circle cx="222.3" cy="248.5" r="6.3" fill="#BE0A2A"/>
<polyline fill="none" stroke="#000000" stroke-width="17" stroke-linejoin="round" stroke-linecap="butt" points="221.4,258.5 221.4,260.5 221.5,262.5 221.5,264.5 221.5,266.5 221.5,268.6 221.6,270.6 221.6,272.6 221.6,274.6 221.7,276.6 221.7,278.6 221.7,280.6 221.7,282.6 221.8,284.6 221.8,286.7 221.8,288.7 221.9,290.7 221.9,292.7 221.9,294.7 221.9,296.7 222.0,298.7 222.0,300.7 222.0,302.8 222.1,304.8 222.1,306.8 222.1,308.8 222.1,310.8 222.2,312.8 222.2,314.8 222.2,316.8 222.3,318.8 222.3,320.9 222.3,322.9 222.3,324.9 222.4,326.9 222.4,328.9 222.5,330.9 222.6,332.8 222.7,334.8 222.8,336.8 222.9,338.8 223.0,340.8 223.1,342.7 223.2,344.7 223.2,346.7 223.3,348.6 223.4,350.6 223.5,352.6 223.6,354.6 223.7,356.6 223.8,358.5 223.9,360.5 224.0,362.5 224.1,364.4 224.2,366.4 224.3,368.4 224.4,370.4 224.5,372.4 224.6,374.3 224.7,376.3 224.8,378.3 224.9,380.2 225.0,382.2 225.0,384.2 225.1,386.2 225.2,388.1 225.3,390.1 225.4,392.1 225.5,394.1 225.6,396.1 225.7,398.0 225.8,400.0 225.9,402.0 226.0,403.9 226.2,405.9 226.3,407.9 226.4,409.9 226.5,411.8 226.6,413.8 226.7,415.8 226.9,417.8 227.0,419.7 227.1,421.7 227.2,423.7 227.3,425.6 227.4,427.6 227.6,429.6 227.7,431.6 227.8,433.5 227.9,435.5 228.0,437.5 228.1,439.4 228.2,441.4 228.4,443.4 228.5,445.4 228.6,447.3 228.7,449.3 228.8,451.3 228.9,453.2 229.1,455.2 229.2,457.2 229.3,459.2 229.4,461.1 229.5,463.1 229.7,465.1 229.8,467.1 229.9,469.0 230.0,471.0 230.1,473.0 230.2,474.9 230.4,476.9 230.5,478.8 230.6,480.8 230.7,482.8 230.8,484.7 231.0,486.7 231.1,488.6 231.2,490.6 231.3,492.6 231.4,494.5 231.6,496.5 231.7,498.4 231.8,500.4 231.9,502.4 232.0,504.3 232.2,506.3 232.3,508.2 232.4,510.2 232.5,512.2 232.6,514.1 232.8,516.1 232.9,518.0 233.0,520.0 233.1,522.0 233.2,524.0 233.4,525.9 233.5,527.9 233.6,529.9 233.7,531.9 233.9,533.9 234.0,535.9 234.1,537.8 234.2,539.8 234.4,541.8 234.5,543.8 234.6,545.8 234.7,547.7 234.9,549.7 235.0,551.7 235.1,553.7 235.2,555.7 235.4,557.6 235.5,559.6 235.6,561.6 235.7,563.6 235.9,565.6 236.0,567.6 236.1,569.5 236.2,571.5 236.3,573.5 236.5,575.5 236.6,577.5 236.7,579.4 236.8,581.4 237.0,583.4 237.1,585.4 237.2,587.4 237.3,589.4 237.5,591.3 237.6,593.3 237.7,595.3 237.8,597.3 238.0,599.3 238.1,601.2 238.2,603.2 238.3,605.2 238.5,607.2 238.6,609.2 238.7,611.1 238.8,613.1 239.0,615.1 239.1,617.1 239.2,619.1 239.3,621.1 239.5,623.0 239.6,625.0 239.7,627.0 239.8,629.0 239.9,631.0 240.0,633.0 240.1,634.9 240.2,636.9 240.3,638.9 240.4,640.9 240.5,642.9 240.6,644.9 240.7,646.8 240.8,648.8 240.9,650.8 241.0,652.8 241.1,654.8 241.2,656.8 241.3,658.8 241.4,660.7 241.5,662.7 241.6,664.7 241.7,666.7 241.8,668.7 241.9,670.7 242.0,672.6 242.1,674.6 242.2,676.6 242.3,678.6 242.4,680.6 242.5,682.6 242.6,684.5 242.7,686.5 242.8,688.5 242.8,690.5 242.9,692.5 243.0,694.5 243.1,696.5 243.2,698.4 243.3,700.4 243.4,702.4 243.5,704.4 243.6,706.4 243.7,708.4 243.8,710.3 243.9,712.3 244.0,714.3 244.1,716.3 244.2,718.3 244.3,720.3 244.4,722.2 244.5,724.2 244.6,726.2 244.7,728.2 244.8,730.2 244.9,732.2 245.0,734.2 245.1,736.1 245.2,738.1 245.3,740.1 245.4,742.1 245.5,744.1 245.6,746.1 245.7,748.0 245.8,750.0 245.9,752.0 246.0,754.0 246.1,756.0 246.2,758.0 246.3,760.0 246.4,761.9 246.5,763.9 246.6,765.9 246.7,767.9 246.8,769.9 246.9,771.9 247.0,773.8 247.1,775.8 247.2,777.8 247.3,779.8 247.4,781.8 247.5,783.8 247.6,785.8 247.7,787.7 247.8,789.7 247.9,791.7 248.0,793.7 248.1,795.7 248.2,797.7 248.3,799.6 248.4,801.6 248.5,803.6 248.6,805.6 248.7,807.6 248.8,809.6 248.9,811.5 249.0,813.5 249.1,815.5 249.2,817.5 249.4,819.5 249.5,821.5 249.7,823.5 249.8,825.6 250.0,827.6 250.1,829.6 250.3,831.6 250.4,833.6 250.6,835.6 250.7,837.7 250.9,839.7 251.1,841.7 251.2,843.7 251.4,845.7 251.5,847.7 251.7,849.8 251.8,851.8 252.0,853.8 252.1,855.8 252.3,857.8 252.5,859.8 252.6,861.9 252.8,863.9 252.9,865.9 253.1,867.9 253.2,869.9 253.4,871.9 253.5,874.0 253.7,876.0 253.8,878.0 254.0,880.0 254.3,882.0 254.5,884.0 254.8,886.0 255.1,888.0 255.3,890.0 255.6,892.0 255.8,894.0 256.1,896.0 256.4,898.0 256.6,900.0 256.9,902.0 257.2,904.0 257.4,906.0 257.7,908.0 258.0,910.0 258.2,912.0 258.5,914.0 258.8,916.0 259.0,918.0 259.3,920.0 259.5,922.0 259.8,924.0 260.1,926.0 260.3,928.0 260.6,930.0 260.9,932.0 261.1,934.0 261.4,936.0 261.7,938.0 262.0,940.0 262.3,942.0 262.6,944.0 262.9,945.9 263.2,947.9 263.5,949.9 263.8,951.9 264.1,953.9 264.4,955.9 264.7,957.9 265.0,959.9 265.3,961.9 265.6,963.9 265.9,965.8 266.2,967.8 266.5,969.8 266.8,971.8 267.1,973.8 267.4,975.8 267.7,977.8 268.0,979.8 268.3,981.8 268.6,983.7 268.9,985.7 269.2,987.7 269.5,989.7 269.8,991.7 270.2,993.7 270.6,995.7 271.0,997.8 271.4,999.8 271.8,1001.8 272.2,1003.8 272.6,1005.9 273.1,1007.9 273.5,1009.9 273.9,1011.9 274.3,1013.9 274.7,1016.0 275.1,1018.0 275.5,1020.0 275.9,1022.0 276.2,1023.9 276.6,1025.9 277.0,1027.9 277.3,1029.9 277.7,1031.8 278.1,1033.8 278.4,1035.8 278.8,1037.7 279.1,1039.7 279.5,1041.7 279.9,1043.7 280.2,1045.6 280.6,1047.6 281.0,1049.7 281.5,1051.7 281.9,1053.8 282.3,1055.9 282.8,1057.9 283.2,1060.0 283.7,1061.9 284.2,1063.8 284.7,1065.7 285.2,1067.6 285.7,1069.5 286.2,1071.4 286.7,1073.3 287.2,1075.2 287.8,1077.2 288.3,1079.1 288.8,1081.0 289.3,1082.9 289.8,1084.8 290.3,1086.7 290.8,1088.6 291.3,1090.5 291.9,1092.4 292.6,1094.3 293.2,1096.2 293.9,1098.1 294.5,1100.0 295.1,1101.9 295.8,1103.8 296.4,1105.8 297.0,1107.7 297.7,1109.6 298.3,1111.5 298.9,1113.4 299.6,1115.3 300.2,1117.2 300.9,1119.1 301.5,1121.0 302.3,1122.9 303.0,1124.5 303.8,1126.9 304.6,1128.5 305.3,1129.8 306.1,1132.6 306.8,1134.4 307.6,1135.4 308.4,1137.3 309.1,1139.6 309.9,1141.5 310.6,1143.1 311.4,1144.7 312.2,1146.6 312.9,1151.5 313.7,1152.4 315.0,1154.7 316.3,1154.9 317.7,1155.2 319.0,1155.9 320.3,1160.1 321.6,1159.3 322.9,1160.1 324.3,1162.6 325.6,1162.7 326.9,1165.3 328.2,1168.9 329.5,1170.6 330.8,1171.2 332.1,1172.9 333.4,1175.8 334.6,1178.6 335.9,1181.3 337.2,1184.5 338.5,1185.5 339.8,1185.9 341.1,1184.0 342.6,1186.3 344.1,1186.6 345.7,1185.2 347.2,1186.5 348.7,1189.3 350.2,1190.0 351.7,1194.7 353.3,1195.2 354.8,1197.4 356.3,1198.8 357.9,1197.7 359.5,1197.1 361.0,1201.2 362.6,1199.5 364.2,1202.9 365.8,1205.2 367.4,1208.6 368.9,1208.6 370.5,1211.9 372.1,1212.5 373.7,1214.5 375.3,1216.0 376.8,1216.9 378.4,1216.7 380.0,1217.5 381.8,1219.1 383.6,1221.3 385.4,1223.5 387.2,1224.1 389.0,1226.2 390.7,1224.0 392.5,1226.5 394.3,1224.0 396.1,1224.8 397.9,1225.9 399.7,1225.5 401.3,1227.6 403.0,1230.3 404.6,1230.4 406.3,1232.0 407.9,1233.8 409.5,1234.6 411.2,1238.7 412.8,1238.1 414.5,1238.5 416.1,1237.4 417.8,1240.1 419.4,1241.6 421.2,1242.3 423.0,1244.6 424.8,1246.8 426.6,1244.8 428.4,1246.7 430.1,1248.1 431.9,1246.6 433.7,1247.9 435.5,1248.2 437.3,1248.0 439.1,1250.4 441.1,1250.9 443.1,1252.8 445.0,1253.5 447.0,1254.2 449.0,1253.8 451.0,1256.1 453.0,1254.3 454.9,1254.5 456.9,1257.0 458.9,1253.9 460.9,1256.9 462.8,1253.8 464.8,1256.9 466.8,1256.5 468.8,1259.8 470.7,1259.7 472.7,1261.8 474.7,1261.2 476.6,1260.8 478.6,1259.5 480.4,1262.8 482.2,1262.5 484.0,1263.7 485.8,1264.2 487.6,1265.1 489.3,1266.7 491.1,1264.9 492.9,1266.4 494.7,1267.9 496.5,1267.8 498.3,1269.9 500.3,1271.8 502.2,1271.3 504.2,1270.8 506.2,1272.4 508.1,1275.4 510.1,1274.1 512.1,1276.0 514.1,1274.3 516.0,1277.5 518.0,1277.7 520.0,1278.7 522.0,1275.6 523.9,1278.7 525.9,1276.8 527.9,1278.0 529.9,1277.2 531.8,1277.4 533.8,1278.5 535.8,1276.6 537.8,1277.0 539.7,1276.3 541.7,1276.0 543.7,1275.7 545.6,1278.3 547.6,1275.9 549.5,1277.7 551.5,1277.5 553.5,1277.7 555.4,1276.3 557.4,1277.0 559.4,1275.2 561.3,1279.1 563.3,1277.0 565.3,1278.4 567.2,1280.1 569.2,1279.9 571.2,1282.2 573.2,1281.1 575.1,1282.7 577.1,1281.8 578.8,1281.5 580.4,1283.3 582.0,1286.0 583.7,1286.0 585.4,1288.4 587.0,1289.8 588.6,1291.2 590.3,1290.6 592.0,1292.3 593.6,1294.4 595.2,1294.5 596.9,1295.6 598.9,1295.3 600.8,1298.1 602.8,1297.1 604.8,1298.2 606.7,1296.5 608.7,1296.8 610.7,1295.4 612.6,1294.1 614.6,1294.4 616.6,1294.9 618.5,1292.2 620.5,1295.7 622.5,1297.3 624.4,1297.1 626.4,1299.1 628.4,1297.8 630.3,1296.4 632.3,1294.3 634.3,1296.9 636.3,1295.6 638.2,1297.4 640.2,1293.4 642.2,1295.5 644.2,1294.6 646.1,1292.6 648.1,1292.7 650.1,1288.7 652.1,1290.7 654.0,1290.7 656.0,1292.0 658.0,1290.9 659.9,1292.6 661.9,1292.3 663.9,1294.1 665.9,1295.6 667.8,1297.3 669.8,1297.1 671.8,1296.8 673.7,1300.0 675.7,1298.8 677.7,1297.8 679.6,1297.0 681.6,1297.4 683.6,1296.9 685.6,1295.2 687.5,1297.2 689.5,1293.8 691.5,1293.1 693.5,1295.3 695.4,1296.3 697.4,1296.1 699.4,1295.2 701.4,1294.9 703.3,1291.2 705.3,1292.3 707.3,1291.0 709.2,1291.8 711.2,1292.1 713.2,1294.6 715.1,1293.9 717.1,1296.4 719.1,1294.5 721.1,1296.0 723.0,1297.6 725.0,1297.4 727.0,1296.7 728.9,1298.0 730.9,1296.7 732.9,1297.8 734.9,1299.2 736.8,1299.4 738.8,1298.7 740.8,1300.5 742.7,1300.9 744.7,1299.4 746.6,1299.3 748.5,1300.6 750.4,1298.6 752.3,1301.4 754.2,1298.5 756.1,1301.0 758.0,1300.1 759.6,1300.8 759.6,259.5 759.9,259.5 759.9,261.5 760.0,263.6 760.0,265.6 760.0,267.6 760.0,269.6 760.1,271.6 760.1,273.7 760.1,275.7 760.2,277.7 760.2,279.8 760.2,281.8 760.3,283.8 760.3,285.8 760.3,287.9 760.4,289.9 760.4,291.9 760.4,293.9 760.4,295.9 760.5,298.0 760.5,300.0 760.6,302.0 760.6,304.0 760.7,306.0 760.8,308.0 760.9,310.0 760.9,312.0 761.0,314.0 761.1,316.0 761.1,318.0 761.2,320.0 761.3,322.0 761.3,324.0 761.4,326.0 761.5,328.0 761.5,330.0 761.6,332.0 761.7,334.0 761.8,336.0 761.8,338.0 761.9,340.0 762.0,342.0 762.0,344.0 762.1,346.0 762.2,348.0 762.2,350.0 762.3,352.0 762.4,354.0 762.5,356.0 762.5,358.0 762.6,360.0 762.7,362.0 762.7,364.0 762.8,366.0 762.9,368.0 763.0,370.0 763.0,372.0 763.1,374.0 763.2,376.0 763.2,378.0 763.3,380.0 763.4,382.0 763.4,384.0 763.5,386.0 763.6,388.0 763.6,390.0 763.7,392.0 763.8,394.0 763.9,396.0 763.9,398.0 764.0,400.0 764.1,402.0 764.2,404.0 764.3,406.0 764.5,408.0 764.6,410.0 764.7,412.0 764.8,414.0 764.9,416.0 765.0,418.0 765.1,420.0 765.3,422.0 765.4,424.0 765.5,426.0 765.6,428.0 765.7,430.0 765.8,432.0 765.9,434.0 766.1,436.0 766.2,438.0 766.3,440.0 766.4,442.0 766.5,444.0 766.6,446.0 766.7,448.0 766.9,450.0 767.0,452.0 767.1,454.0 767.2,456.0 767.3,458.0 767.4,460.0 767.5,462.0 767.7,464.0 767.8,466.0 767.9,468.0 768.0,470.0 768.2,472.0 768.4,474.1 768.6,476.1 768.8,478.2 769.0,480.2 769.2,482.2 769.4,484.3 769.6,486.3 769.8,488.4 769.9,490.4 770.1,492.4 770.3,494.5 770.5,496.5 770.7,498.5 770.9,500.6 771.1,502.6 771.3,504.7 771.5,506.7 771.6,508.7 771.7,510.6 771.8,512.6 771.9,514.6 772.0,516.6 772.1,518.5 772.1,520.5 772.2,522.5 772.3,524.5 772.4,526.4 772.5,528.4 772.6,530.4 772.7,532.4 772.8,534.3 772.9,536.3 773.0,538.3 773.1,540.3 773.2,542.2 773.3,544.2 773.4,546.2 773.4,548.2 773.5,550.1 773.6,552.1 773.7,554.1 773.8,556.1 773.9,558.0 774.0,560.0 774.1,562.0 774.2,563.9 774.2,565.9 774.3,567.9 774.4,569.8 774.5,571.8 774.6,573.8 774.7,575.7 774.8,577.7 774.8,579.7 774.9,581.6 775.0,583.6 775.1,585.6 775.2,587.5 775.2,589.5 775.3,591.5 775.4,593.4 775.5,595.4 775.6,597.4 775.7,599.3 775.8,601.3 775.8,603.3 775.9,605.2 776.0,607.2 776.1,609.2 776.2,611.1 776.2,613.1 776.3,615.1 776.4,617.0 776.5,619.0 776.6,621.0 776.6,623.0 776.7,624.9 776.8,626.9 776.9,628.9 777.0,630.9 777.0,632.8 777.1,634.8 777.2,636.8 777.2,638.8 777.3,640.7 777.4,642.7 777.5,644.7 777.5,646.6 777.6,648.6 777.7,650.6 777.8,652.6 777.9,654.5 777.9,656.5 778.0,658.5 778.1,660.5 778.1,662.5 778.2,664.4 778.3,666.4 778.4,668.4 778.5,670.4 778.5,672.3 778.6,674.3 778.7,676.3 778.8,678.2 778.8,680.2 778.9,682.2 779.0,684.2 779.0,686.1 779.1,688.1 779.2,690.1 779.3,692.1 779.4,694.0 779.4,696.0 779.5,698.0 779.6,700.0 779.6,702.0 779.7,704.0 779.8,706.0 779.9,708.0 779.9,710.0 780.0,712.0 780.1,714.0 780.2,716.0 780.2,718.0 780.3,720.0 780.4,722.0 780.5,724.0 780.5,726.0 780.6,728.0 780.7,730.0 780.7,732.0 780.8,734.0 780.9,736.0 781.0,738.0 781.0,740.0 781.1,742.0 781.2,744.0 781.3,746.0 781.3,748.0 781.4,750.0 781.5,752.0 781.5,754.0 781.6,756.0 781.7,758.0 781.8,760.0 781.8,762.0 781.9,764.0 782.0,766.0 782.1,768.0 782.1,770.0 782.2,772.0 782.3,774.0 782.4,776.0 782.4,778.0 782.5,780.0 782.6,782.0 782.8,784.0 782.9,785.9 783.0,787.9 783.2,789.9 783.3,791.9 783.4,793.8 783.5,795.8 783.7,797.8 783.8,799.8 783.9,801.7 784.1,803.7 784.2,805.7 784.3,807.7 784.5,809.6 784.6,811.6 784.7,813.6 784.9,815.6 785.0,817.5 785.1,819.5 785.2,821.5 785.4,823.5 785.5,825.5 785.6,827.4 785.8,829.4 785.9,831.4 786.0,833.4 786.2,835.3 786.3,837.3 786.4,839.3 786.6,841.3 786.7,843.2 786.8,845.2 787.0,847.2 787.1,849.2 787.2,851.1 787.3,853.1 787.5,855.1 787.6,857.1 787.7,859.0 787.9,861.0 788.0,863.0 788.2,864.9 788.5,866.9 788.7,868.8 788.9,870.8 789.2,872.7 789.4,874.7 789.6,876.6 789.9,878.6 790.1,880.5 790.3,882.5 790.5,884.4 790.8,886.4 791.0,888.3 791.2,890.3 791.5,892.2 791.7,894.2 791.9,896.1 792.2,898.1 792.4,900.0 792.7,902.0 793.0,903.9 793.3,905.9 793.5,907.8 793.8,909.8 794.1,911.7 794.4,913.7 794.7,915.7 795.0,917.6 795.3,919.6 795.6,921.5 795.8,923.5 796.1,925.4 796.4,927.4 796.7,929.3 797.0,931.3 797.3,933.3 797.6,935.2 797.9,937.2 798.1,939.1 798.4,941.1 798.7,943.0 799.0,945.0 799.4,947.0 799.9,948.9 800.3,950.9 800.8,952.9 801.2,954.8 801.7,956.8 802.1,958.8 802.6,960.7 803.0,962.7 803.5,964.6 803.9,966.6 804.4,968.6 804.8,970.5 805.2,972.5 805.7,974.5 806.1,976.4 806.6,978.4 807.0,980.4 807.5,982.3 807.9,984.3 808.4,986.2 808.8,988.2 809.3,990.2 809.7,992.1 810.2,994.1 810.6,996.1 811.1,998.0 811.5,1000.0 811.8,1002.0 812.1,1003.9 812.4,1005.9 812.7,1007.9 813.0,1009.9 813.3,1011.8 813.6,1013.8 813.9,1015.8 814.1,1017.7 814.4,1019.7 814.7,1021.7 815.0,1023.7 815.3,1025.6 815.6,1027.6 815.9,1029.6 816.2,1031.5 816.5,1033.5 816.8,1035.5 817.1,1037.5 817.4,1039.4 817.7,1041.4 818.0,1043.4 818.3,1045.3 818.6,1047.3 818.9,1049.3 819.2,1051.3 819.4,1053.2 819.7,1055.2 820.0,1057.2 820.3,1059.1 820.6,1061.1 820.9,1063.1 821.2,1065.1 821.5,1067.0 821.8,1069.0 822.4,1070.9 822.9,1072.9 823.5,1074.8 824.1,1076.8 824.7,1078.7 825.2,1080.6 825.8,1082.6 826.4,1084.5 827.0,1086.4 827.5,1088.4 828.1,1090.3 828.7,1092.2 829.3,1094.2 829.9,1096.1 830.4,1098.1 831.0,1100.0 831.5,1102.0 831.9,1104.0 832.4,1106.0 832.9,1108.0 833.3,1110.0 833.8,1112.0 834.3,1114.0 834.7,1116.0 835.2,1118.0 835.7,1120.0 836.1,1122.0 836.6,1124.0 837.1,1126.0 837.5,1128.0 838.0,1130.0 838.6,1132.0 839.2,1134.0 839.9,1136.0 840.5,1138.0 841.1,1140.0 841.7,1142.0 842.3,1144.0 843.0,1146.0 843.6,1148.0 844.2,1150.0 845.1,1151.8 846.0,1153.6 846.9,1155.5 847.8,1157.3 848.7,1159.1 849.6,1160.9 850.6,1162.8 851.5,1164.7 852.4,1166.4 853.3,1168.4 854.2,1170.1 855.1,1171.9 856.0,1174.1 857.5,1174.8 859.0,1176.7 860.6,1177.6 862.1,1178.3 863.6,1179.0 865.1,1179.1 866.6,1182.5 868.2,1181.7 869.7,1183.8 871.2,1184.0 872.7,1188.8 874.3,1190.5 875.8,1192.0 877.3,1190.9 878.8,1193.4 880.3,1195.8 881.7,1196.0 883.2,1196.8 884.7,1199.2 886.2,1201.0 887.7,1203.3 889.1,1204.6 890.6,1208.5 892.1,1209.0 893.6,1210.9 895.1,1209.8 896.6,1210.9 898.0,1212.5 899.5,1213.7 901.0,1215.6 902.8,1214.1 904.5,1214.0 906.3,1215.8 908.1,1217.0 909.9,1216.3 911.6,1219.2 913.4,1219.5 915.2,1220.4 917.0,1220.3 918.8,1221.5 920.5,1223.5 922.3,1222.4 924.1,1223.8 925.9,1226.3 927.6,1225.0 929.4,1225.4 931.1,1226.5 932.9,1226.6 934.6,1226.9 936.3,1228.0 938.1,1230.3 939.8,1230.0 941.5,1232.7 943.3,1233.4 945.0,1233.5 946.7,1236.4 948.5,1237.5 950.2,1236.0 951.9,1236.9 953.7,1240.2 955.4,1236.3 957.3,1238.8 959.2,1240.5 961.1,1240.6 963.0,1240.9 964.9,1243.1 966.8,1243.8 968.7,1244.6 970.5,1245.1 972.4,1244.8 974.3,1243.9 976.2,1245.9 978.1,1246.8 980.0,1245.5 981.9,1245.9 983.8,1245.9 985.5,1246.9 987.2,1247.3 988.9,1247.9 990.5,1249.7 992.2,1252.6 993.9,1255.3 995.6,1254.9 997.3,1260.0 999.0,1258.2 1000.7,1258.7 1002.3,1259.6 1004.0,1260.7 1005.7,1259.1 1007.4,1261.5 1009.3,1259.5 1011.2,1258.7 1013.1,1260.3 1015.0,1259.2 1016.9,1261.3 1018.8,1260.4 1020.7,1263.5 1022.6,1260.7 1024.5,1260.9 1026.4,1262.4 1028.3,1261.7 1030.2,1262.9 1032.1,1264.3 1033.9,1264.1 1035.8,1265.8 1037.7,1266.3 1039.6,1267.1 1041.5,1271.2 1043.4,1271.8 1045.3,1272.5 1047.2,1271.6 1049.0,1274.2 1050.9,1272.7 1052.8,1273.3 1054.7,1274.4 1056.5,1275.3 1058.3,1275.6 1060.2,1276.0 1062.0,1278.4 1063.8,1278.4 1065.6,1278.7 1067.5,1279.6 1069.3,1277.9 1071.1,1281.4 1072.9,1279.1 1074.8,1281.9 1076.6,1282.8 1078.4,1284.4 1080.4,1284.8 1082.3,1283.1 1084.3,1287.0 1086.3,1290.7 1088.3,1288.7 1090.2,1289.2 1092.2,1289.2 1094.2,1289.2 1096.2,1287.4 1098.1,1288.3 1100.1,1286.8 1102.1,1286.4 1104.0,1286.6 1106.0,1285.0 1108.0,1284.8 1110.0,1286.7 1111.9,1286.5 1113.9,1287.5 1115.9,1289.9 1117.9,1287.2 1119.9,1287.1 1121.9,1287.3 1123.9,1285.2 1125.9,1284.4 1127.9,1285.2 1129.9,1284.1 1131.9,1282.3 1133.9,1282.1 1135.9,1284.3 1137.9,1282.0 1139.9,1283.9 1141.8,1282.0 1143.8,1283.3 1145.7,1282.5 1147.6,1283.2 1149.6,1282.1 1151.5,1282.9 1153.5,1284.5 1155.4,1284.5 1157.3,1284.2 1159.3,1285.2 1161.2,1285.0 1163.2,1286.5 1165.1,1285.7 1167.1,1289.0 1169.1,1288.0 1171.1,1289.7 1173.0,1289.3 1175.0,1289.5 1177.0,1288.6 1179.0,1288.3 1180.9,1288.1 1182.9,1287.6 1184.9,1288.0 1186.8,1289.2 1188.8,1286.7 1190.8,1288.5 1192.8,1289.7 1194.7,1289.5 1196.7,1289.3 1198.7,1289.0 1200.6,1286.9 1202.6,1289.4 1204.6,1291.8 1206.6,1293.9 1208.5,1290.9 1210.5,1291.2 1212.5,1291.7 1214.5,1292.3 1216.4,1293.6 1218.4,1294.7 1220.4,1292.6 1222.3,1292.5 1224.3,1291.8 1226.3,1295.8 1228.3,1296.0 1230.2,1296.1 1232.2,1295.3 1234.2,1296.2 1236.1,1297.6 1238.1,1297.7 1240.1,1296.9 1242.0,1297.8 1244.0,1297.6 1246.0,1298.0 1247.9,1296.7 1249.9,1298.9 1251.9,1299.8 1253.8,1299.2 1255.8,1297.7 1257.8,1299.0 1259.8,1300.5 1261.7,1298.6 1263.7,1297.6 1265.7,1296.5 1267.7,1296.4 1269.6,1293.2 1271.6,1293.3 1273.6,1294.0 1275.5,1294.1 1277.5,1289.3 1279.5,1290.8 1281.6,1293.3 1283.6,1290.3 1285.7,1291.1 1287.7,1293.1 1289.8,1290.6 1291.8,1292.6 1293.9,1292.0 1295.9,1289.8 1298.0,1294.2 1299.4,1293.1 1299.4,252.0 1299.8,252.0 1300.0,254.0 1300.1,256.0 1300.2,258.0 1300.4,260.0 1300.5,262.0 1300.7,264.0 1300.8,266.0 1301.0,268.0 1301.3,270.0 1301.7,272.0 1302.0,274.0 1302.4,276.0 1302.7,278.0 1303.0,280.0 1303.4,282.0 1303.7,284.0 1304.1,286.0 1304.4,288.0 1304.6,290.0 1304.9,292.0 1305.1,294.0 1305.4,296.0 1305.6,298.0 1305.8,300.0 1306.1,302.0 1306.3,304.0 1306.6,306.0 1306.8,308.0 1307.1,310.0 1307.3,312.0 1307.5,314.0 1307.8,316.0 1308.0,318.0 1308.3,320.0 1308.5,322.0 1308.7,324.0 1308.8,326.1 1309.0,328.1 1309.2,330.1 1309.4,332.1 1309.5,334.1 1309.7,336.2 1309.9,338.2 1310.1,340.2 1310.2,342.2 1310.4,344.3 1310.6,346.3 1310.8,348.3 1311.0,350.4 1311.1,352.4 1311.3,354.4 1311.5,356.4 1311.7,358.4 1311.8,360.5 1312.0,362.5 1312.1,364.5 1312.3,366.4 1312.4,368.4 1312.5,370.4 1312.7,372.4 1312.8,374.3 1312.9,376.3 1313.1,378.3 1313.2,380.3 1313.3,382.2 1313.4,384.2 1313.6,386.2 1313.7,388.2 1313.8,390.1 1314.0,392.1 1314.1,394.1 1314.2,396.1 1314.4,398.0 1314.5,400.0 1314.6,402.0 1314.7,404.0 1314.8,406.0 1314.9,408.0 1315.0,410.0 1315.1,412.0 1315.2,414.0 1315.3,416.0 1315.4,418.0 1315.5,420.0 1315.6,422.0 1315.7,424.0 1315.8,426.0 1315.9,428.0 1316.0,430.0 1316.1,432.0 1316.2,434.0 1316.3,436.0 1316.4,438.0 1316.5,440.0 1316.6,442.0 1316.7,444.0 1316.8,446.0 1317.0,448.0 1317.1,450.0 1317.2,452.0 1317.3,454.0 1317.4,456.0 1317.5,458.0 1317.6,460.0 1317.8,462.0 1317.9,464.0 1318.0,466.0 1318.1,468.0 1318.2,470.0 1318.3,472.0 1318.4,474.0 1318.6,476.0 1318.7,478.0 1318.8,480.0 1318.9,482.0 1319.0,484.0 1319.1,486.0 1319.2,488.0 1319.4,490.0 1319.5,492.0 1319.6,494.0 1319.7,496.0 1319.8,498.0 1319.9,500.0 1320.0,502.0 1320.2,504.0 1320.3,506.0 1320.4,508.0 1320.5,510.0 1320.6,512.0 1320.7,514.0 1320.8,516.0 1320.9,518.0 1321.0,520.0 1321.2,522.0 1321.3,524.0 1321.4,526.0 1321.5,528.0 1321.6,530.0 1321.7,532.0 1321.8,534.0 1321.9,536.0 1322.0,538.0 1322.1,540.0 1322.2,542.0 1322.3,544.0 1322.5,546.0 1322.6,548.0 1322.7,550.0 1322.8,552.0 1322.9,554.0 1323.0,556.0 1323.1,558.0 1323.2,560.0 1323.3,562.0 1323.4,564.0 1323.5,566.0 1323.6,568.0 1323.8,570.0 1323.9,572.0 1324.0,574.0 1324.1,576.0 1324.2,578.0 1324.3,580.0 1324.4,582.0 1324.5,584.0 1324.6,586.0 1324.8,588.0 1324.9,590.0 1325.0,592.0 1325.1,594.0 1325.2,596.0 1325.4,598.0 1325.5,600.0 1325.6,602.0 1325.7,604.0 1325.8,606.0 1326.0,608.0 1326.1,610.0 1326.2,612.0 1326.3,614.0 1326.5,616.0 1326.6,618.0 1326.7,620.0 1326.8,622.0 1326.9,624.0 1327.1,626.0 1327.2,628.0 1327.3,630.0 1327.4,632.0 1327.5,634.0 1327.7,636.0 1327.8,638.0 1327.9,640.0 1328.0,642.0 1328.1,644.0 1328.3,646.0 1328.4,648.0 1328.5,650.0 1328.6,652.0 1328.8,654.0 1328.9,656.0 1329.1,658.0 1329.2,660.0 1329.3,662.0 1329.5,664.0 1329.6,666.0 1329.8,668.0 1329.9,670.0 1330.0,672.0 1330.2,674.0 1330.3,676.0 1330.5,678.0 1330.6,680.0 1330.7,682.0 1330.9,684.0 1331.0,686.0 1331.2,688.0 1331.3,690.0 1331.4,692.0 1331.6,694.0 1331.7,696.0 1331.9,698.0 1332.0,700.0 1332.2,702.0 1332.4,703.9 1332.6,705.9 1332.8,707.9 1333.0,709.9 1333.2,711.8 1333.4,713.8 1333.6,715.8 1333.8,717.8 1334.0,719.7 1334.2,721.7 1334.4,723.7 1334.6,725.7 1334.7,727.6 1334.9,729.6 1335.1,731.6 1335.3,733.6 1335.5,735.5 1335.7,737.5 1335.9,739.5 1336.1,741.5 1336.3,743.4 1336.5,745.4 1336.7,747.4 1336.9,749.4 1337.1,751.3 1337.3,753.3 1337.6,755.3 1337.9,757.3 1338.2,759.2 1338.5,761.2 1338.8,763.2 1339.1,765.2 1339.4,767.1 1339.7,769.1 1340.0,771.1 1340.3,773.1 1340.6,775.1 1340.9,777.0 1341.2,779.0 1341.5,781.0 1341.8,783.0 1342.1,784.9 1342.4,786.9 1342.7,788.9 1343.2,790.8 1343.7,792.7 1344.2,794.6 1344.7,796.5 1345.2,798.4 1345.7,800.3 1346.2,802.2 1346.8,804.2 1347.3,806.1 1347.8,808.0 1348.3,809.9 1348.8,811.8 1349.3,813.7 1349.8,815.6 1350.6,817.5 1351.3,819.4 1352.1,821.3 1352.8,823.2 1353.6,825.1 1354.3,827.0 1355.1,828.9 1355.9,830.8 1356.6,832.7 1357.4,834.6 1358.1,836.5 1358.9,838.4 1359.6,840.3 1360.4,842.2 1361.4,844.0 1362.3,845.8 1363.3,847.5 1364.2,849.3 1365.2,851.1 1366.1,852.9 1367.1,854.7 1368.0,856.4 1369.0,858.2 1369.9,860.0 1370.9,861.8 1371.8,863.6 1372.8,865.3 1373.7,867.1 1374.7,868.9 1376.1,870.4 1377.4,871.9 1378.8,873.4 1380.1,874.9 1381.5,876.4 1382.9,877.9 1384.2,879.4 1385.6,880.9 1387.0,882.4 1388.3,883.9 1389.7,885.4 1391.0,886.9 1392.4,888.4 1394.1,889.5 1395.7,890.7 1397.4,891.8 1399.0,893.0 1400.7,894.1 1402.3,895.0 1404.0,896.2 1405.7,897.7 1407.3,899.3 1409.0,901.0 1410.6,901.6 1412.3,903.4 1413.9,902.9 1415.6,904.1 1417.4,903.9 1419.1,905.8 1420.9,907.0 1422.7,907.9 1424.5,910.2 1426.2,912.7 1428.0,911.8 1429.8,912.6 1431.6,914.8 1433.3,916.6 1435.1,913.4 1436.9,916.1 1438.7,915.3 1440.4,915.3 1442.2,917.3 1444.1,918.8 1445.9,921.0 1447.8,921.5 1449.7,920.5 1451.6,921.4 1453.4,921.2 1455.3,920.7 1457.2,921.5 1459.1,922.8 1460.9,920.6 1462.8,922.9 1464.7,922.7 1466.6,924.7 1468.4,927.6 1470.3,926.8 1472.2,926.7 1474.1,927.2 1475.9,930.0 1477.8,930.7 1479.8,929.4 1481.7,931.2 1483.7,929.7 1485.7,931.8 1487.7,931.6 1489.6,930.9 1491.6,932.1 1493.6,933.0 1495.5,933.0 1497.5,932.8 1499.5,934.3 1501.5,934.3 1503.4,935.0 1505.4,935.1 1507.4,934.9 1509.4,938.0 1511.3,938.3 1513.3,938.8 1515.3,939.6 1517.3,940.6 1519.2,938.9 1521.2,939.6 1523.2,940.9 1525.2,939.6 1527.1,940.6 1529.1,942.0 1531.1,939.9 1533.1,940.0 1535.1,940.2 1537.0,940.9 1539.0,943.5 1541.0,941.6 1543.0,943.2 1544.9,940.6 1546.9,942.1 1548.9,941.8 1550.9,939.5 1552.8,940.5 1554.8,943.1 1556.8,941.5 1558.8,940.8 1560.7,939.3 1562.7,940.6 1564.7,941.4 1566.7,940.8 1568.6,939.7 1570.6,943.6 1572.6,941.4 1574.5,942.7 1576.5,942.8 1578.5,945.7 1580.5,943.4 1582.4,944.2 1584.4,945.9 1586.4,946.7 1588.4,946.7 1590.3,943.7 1592.3,943.7 1594.3,945.2 1596.3,945.8 1598.2,946.9 1600.2,948.3 1602.2,948.1 1604.2,946.9 1606.2,946.1 1608.1,947.4 1610.1,950.1 1612.1,947.8 1614.1,948.5 1616.0,948.6 1618.0,948.6 1620.0,948.1 1622.0,948.2 1623.9,950.9 1625.9,951.0 1627.8,950.9 1629.8,953.5 1631.7,951.0 1633.7,950.4 1635.6,951.2 1637.6,951.0 1639.6,953.1 1641.5,950.1 1643.5,952.0 1645.4,951.8 1647.4,951.1 1649.3,952.9 1651.3,953.4 1653.3,952.6 1655.2,954.1 1657.2,954.2 1659.1,953.2 1661.1,955.1 1663.0,954.3 1665.0,955.0 1666.9,955.8 1668.9,955.9 1670.9,956.0 1672.8,956.6 1674.8,954.7 1676.7,956.3 1678.7,955.2 1680.7,954.2 1682.6,953.3 1684.6,956.0 1686.5,954.7 1688.5,953.5 1690.4,953.6 1692.4,953.0 1694.4,954.0 1696.3,952.8 1698.3,952.1 1700.2,951.0 1702.2,951.6 1704.2,952.2 1706.1,953.2 1708.1,954.9 1710.1,953.9 1712.0,956.3 1714.0,956.7 1716.0,955.9 1717.9,954.1 1719.9,958.0 1721.8,958.3 1723.8,956.7 1725.8,956.5 1727.7,959.4 1729.7,959.9 1731.7,958.5 1733.6,959.0 1735.6,959.1 1737.6,958.8 1739.6,958.5 1741.7,958.5 1743.7,959.1 1745.7,958.3 1747.7,958.7 1749.7,958.8 1751.7,958.3 1753.8,958.2 1755.8,961.0 1757.8,960.5 1759.8,960.2 1761.8,964.5 1763.9,961.0 1765.9,960.9 1767.9,959.3 1769.9,960.3 1771.9,958.4 1773.9,962.1 1776.0,963.4 1778.0,962.5 1780.0,964.7 1782.0,963.7 1784.0,962.3 1786.1,962.1 1788.1,962.9 1790.1,960.6 1792.1,961.8 1794.1,958.4 1796.1,959.2 1798.2,961.6 1800.2,959.4 1802.2,961.8 1804.2,960.0 1806.2,961.4 1808.3,962.6 1810.3,961.2 1812.3,960.3 1814.3,959.9 1816.3,959.7 1818.3,960.8 1820.4,961.7 1822.4,961.4 1824.4,960.3 1826.4,959.7 1828.4,959.2 1830.5,959.0 1832.5,959.4 1834.5,961.4 1836.5,960.6 1838.6,960.3 1840.6,962.8 1842.6,962.2 1844.6,962.5 1846.7,962.6 1848.7,964.9 1850.7,962.4 1852.7,964.6 1854.7,965.4 1856.8,964.6 1858.8,961.4 1860.8,963.0 1862.8,962.6 1864.9,962.9 1866.9,964.3 1868.9,964.3 1870.9,963.8 1873.0,965.1 1875.0,964.6 1877.0,964.9 1879.1,963.2 1881.1,964.2 1883.1,962.6 1885.2,963.2 1887.2,962.6 1889.2,964.9 1891.2,961.6 1893.3,961.6 1895.3,963.7 1897.3,966.0 1899.4,963.0 1901.4,964.9 1903.4,966.6 1905.5,964.1 1907.5,965.9"/>
<circle cx="1907.5" cy="965.9" r="8.5" fill="#000000"/>
</g>
<g font-size="55" fill="#404040">
<text x="198" y="75.2" text-anchor="end">10</text>
<text x="198" y="263.6" text-anchor="end">0</text>
<text x="198" y="452.0" text-anchor="end">-10</text>
<text x="198" y="640.3" text-anchor="end">-20</text>
<text x="198" y="828.7" text-anchor="end">-30</text>
<text x="198" y="1017.0" text-anchor="end">-40</text>
<text x="198" y="1205.4" text-anchor="end">-50</text>
<text x="198" y="1393.8" text-anchor="end">-60</text>
<text x="218.5" y="1449.6" text-anchor="middle">0</text>
<text x="556.1" y="1449.6" text-anchor="middle">0.5</text>
<text x="893.7" y="1449.6" text-anchor="middle">1</text>
<text x="1231.3" y="1449.6" text-anchor="middle">1.5</text>
<text x="1568.9" y="1449.6" text-anchor="middle">2</text>
<text x="1906.5" y="1449.6" text-anchor="middle">2.5</text>
</g>
<text x="919" y="1541" font-size="71" fill="#404040" textLength="285" lengthAdjust="spacingAndGlyphs">Iterations</text>
<text transform="translate(80,723) rotate(-90)" font-size="60" fill="#212121" text-anchor="middle">NMSD(dB)</text>
<text x="1812.3" y="1548.5" font-size="66" fill="#1c1c1c" text-anchor="middle">×</text>
<text x="1829.5" y="1540.7" font-size="55" fill="#404040">10</text>
<text x="1884" y="1515" font-size="43" fill="#404040">4</text>
<g font-size="48.5" fill="#000000">
<rect x="1356.5" y="31.5" width="653" height="416.5" fill="#ffffff" stroke="#1c1c1c" stroke-width="3.2"/>
<line x1="1397" y1="72.5" x2="1553" y2="72.5" stroke="#00FF00" stroke-width="11"/>
<text x="1565" y="83.0" textLength="246" lengthAdjust="spacingAndGlyphs">MMCCCIM</text>
<line x1="1397" y1="139.5" x2="1553" y2="139.5" stroke="#FF00FF" stroke-width="11" stroke-dasharray="38.5 36"/>
<text x="1565" y="150.0" textLength="192" lengthAdjust="spacingAndGlyphs">APSAZA</text>
<line x1="1397" y1="206.5" x2="1553" y2="206.5" stroke="#FFB000" stroke-width="11" stroke-dasharray="10.6 8"/>
<text x="1565" y="217.0" textLength="278" lengthAdjust="spacingAndGlyphs">APMCCCIPF</text>
<line x1="1397" y1="273.5" x2="1553" y2="273.5" stroke="#0000FF" stroke-width="11" stroke-dasharray="38.5 8 20 8"/>
<text x="1565" y="284.0">C-APGMC (μ=0.04)</text>
<line x1="1397" y1="341.0" x2="1553" y2="341.0" stroke="#BE0A2A" stroke-width="12" stroke-dasharray="10.6 8"/>
<text x="1565" y="351.5">VSS-APMCCCIPF</text>
<line x1="1397" y1="408.5" x2="1553" y2="408.5" stroke="#000000" stroke-width="17"/>
<text x="1565" y="419.0" textLength="228.5" lengthAdjust="spacingAndGlyphs">C-APGMC</text>
</g>
</svg>
</body></html>
